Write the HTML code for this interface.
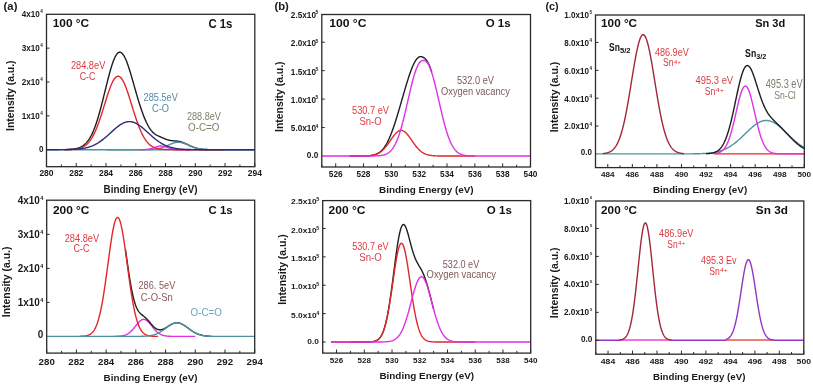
<!DOCTYPE html>
<html><head><meta charset="utf-8"><style>
html,body{margin:0;padding:0;background:#fff;}
svg{display:block;will-change:transform;}
text{font-family:"Liberation Sans",sans-serif;}
</style></head><body>
<svg width="813" height="385" viewBox="0 0 813 385">
<polyline fill="none" stroke="#4f93a2" stroke-width="1.4" stroke-linejoin="round" points="46.50,149.70 47.19,149.70 47.89,149.70 48.58,149.70 49.28,149.70 49.97,149.70 50.67,149.70 51.36,149.70 52.05,149.70 52.75,149.70 53.44,149.70 54.14,149.70 54.83,149.70 55.53,149.70 56.22,149.70 56.91,149.70 57.61,149.70 58.30,149.70 59.00,149.70 59.69,149.70 60.39,149.70 61.08,149.70 61.78,149.70 62.47,149.70 63.16,149.70 63.86,149.70 64.55,149.70 65.25,149.70 65.94,149.70 66.64,149.70 67.33,149.70 68.02,149.70 68.72,149.70 69.41,149.70 70.11,149.70 70.80,149.70 71.50,149.70 72.19,149.70 72.88,149.70 73.58,149.70 74.27,149.70 74.97,149.70 75.66,149.70 76.36,149.70 77.05,149.70 77.75,149.70 78.44,149.70 79.13,149.70 79.83,149.70 80.52,149.70 81.22,149.70 81.91,149.70 82.61,149.70 83.30,149.70 83.99,149.70 84.69,149.70 85.38,149.70 86.08,149.70 86.77,149.70 87.47,149.70 88.16,149.70 88.85,149.70 89.55,149.70 90.24,149.70 90.94,149.70 91.63,149.70 92.33,149.70 93.02,149.70 93.71,149.70 94.41,149.70 95.10,149.70 95.80,149.70 96.49,149.70 97.19,149.70 97.88,149.70 98.58,149.70 99.27,149.70 99.96,149.70 100.66,149.70 101.35,149.70 102.05,149.70 102.74,149.70 103.44,149.70 104.13,149.70 104.82,149.70 105.52,149.70 106.21,149.70 106.91,149.70 107.60,149.70 108.30,149.70 108.99,149.70 109.68,149.70 110.38,149.70 111.07,149.70 111.77,149.70 112.46,149.70 113.16,149.70 113.85,149.70 114.54,149.70 115.24,149.70 115.93,149.70 116.63,149.70 117.32,149.70 118.02,149.70 118.71,149.70 119.40,149.70 120.10,149.70 120.79,149.70 121.49,149.70 122.18,149.70 122.88,149.70 123.57,149.70 124.27,149.70 124.96,149.70 125.65,149.70 126.35,149.70 127.04,149.70 127.74,149.70 128.43,149.70 129.13,149.70 129.82,149.70 130.51,149.70 131.21,149.70 131.90,149.70 132.60,149.70 133.29,149.70 133.99,149.70 134.68,149.70 135.37,149.70 136.07,149.70 136.76,149.70 137.46,149.70 138.15,149.70 138.85,149.70 139.54,149.70 140.24,149.70 140.93,149.70 141.62,149.70 142.32,149.70 143.01,149.70 143.71,149.70 144.40,149.70 145.10,149.70 145.79,149.70 146.48,149.70 147.18,149.70 147.87,149.70 148.57,149.70 149.26,149.70 149.96,149.70 150.65,149.70 151.34,149.70 152.04,149.70 152.73,149.70 153.43,149.70 154.12,149.70 154.82,149.70 155.51,149.70 156.20,149.70 156.90,149.70 157.59,149.70 158.29,149.70 158.98,149.70 159.68,149.70 160.37,149.70 161.06,149.70 161.76,149.70 162.45,149.70 163.15,149.70 163.84,149.70 164.54,149.70 165.23,149.70 165.93,149.70 166.62,149.70 167.31,149.70 168.01,149.70 168.70,149.70 169.40,149.70 170.09,149.70 170.79,149.70 171.48,149.70 172.17,149.70 172.87,149.70 173.56,149.70 174.26,149.70 174.95,149.70 175.65,149.70 176.34,149.70 177.03,149.70 177.73,149.70 178.42,149.70 179.12,149.70 179.81,149.70 180.51,149.70 181.20,149.70 181.90,149.70 182.59,149.70 183.28,149.70 183.98,149.70 184.67,149.70 185.37,149.70 186.06,149.70 186.76,149.70 187.45,149.70 188.14,149.70 188.84,149.70 189.53,149.70 190.23,149.70 190.92,149.70 191.62,149.70 192.31,149.70 193.00,149.70 193.70,149.70 194.39,149.70 195.09,149.70 195.78,149.70 196.48,149.70 197.17,149.70 197.86,149.70 198.56,149.70 199.25,149.70 199.95,149.70 200.64,149.70 201.34,149.70 202.03,149.70 202.72,149.70 203.42,149.70 204.11,149.70 204.81,149.70 205.50,149.70 206.20,149.70 206.89,149.70 207.59,149.70 208.28,149.70 208.97,149.70 209.67,149.70 210.36,149.70 211.06,149.70 211.75,149.70 212.45,149.70 213.14,149.70 213.83,149.70 214.53,149.70 215.22,149.70 215.92,149.70 216.61,149.70 217.31,149.70 218.00,149.70 218.69,149.70 219.39,149.70 220.08,149.70 220.78,149.70 221.47,149.70 222.17,149.70 222.86,149.70 223.55,149.70 224.25,149.70 224.94,149.70 225.64,149.70 226.33,149.70 227.03,149.70 227.72,149.70 228.42,149.70 229.11,149.70 229.80,149.70 230.50,149.70 231.19,149.70 231.89,149.70 232.58,149.70 233.28,149.70 233.97,149.70 234.66,149.70 235.36,149.70 236.05,149.70 236.75,149.70 237.44,149.70 238.14,149.70 238.83,149.70 239.52,149.70 240.22,149.70 240.91,149.70 241.61,149.70 242.30,149.70 243.00,149.70 243.69,149.70 244.39,149.70 245.08,149.70 245.77,149.70 246.47,149.70 247.16,149.70 247.86,149.70 248.55,149.70 249.25,149.70 249.94,149.70 250.63,149.70 251.33,149.70 252.02,149.70 252.72,149.70 253.41,149.70 254.11,149.70 254.80,149.70"/>
<polyline fill="none" stroke="#1e1e1e" stroke-width="1.4" stroke-linejoin="round" points="64.35,149.60 64.84,149.59 65.33,149.58 65.81,149.57 66.30,149.55 66.78,149.54 67.27,149.52 67.76,149.50 68.24,149.48 68.73,149.45 69.21,149.42 69.70,149.39 70.19,149.36 70.67,149.32 71.16,149.28 71.64,149.24 72.13,149.19 72.62,149.14 73.10,149.08 73.59,149.01 74.07,148.94 74.56,148.86 75.05,148.78 75.53,148.69 76.02,148.59 76.51,148.47 76.99,148.35 77.48,148.22 77.96,148.08 78.45,147.92 78.94,147.76 79.42,147.57 79.91,147.37 80.39,147.16 80.88,146.93 81.37,146.68 81.85,146.41 82.34,146.12 82.82,145.80 83.31,145.47 83.80,145.11 84.28,144.72 84.77,144.31 85.25,143.86 85.74,143.39 86.23,142.88 86.71,142.35 87.20,141.77 87.68,141.17 88.17,140.52 88.66,139.84 89.14,139.11 89.63,138.35 90.11,137.54 90.60,136.69 91.09,135.79 91.57,134.85 92.06,133.86 92.54,132.83 93.03,131.74 93.52,130.61 94.00,129.43 94.49,128.20 94.97,126.92 95.46,125.59 95.95,124.21 96.43,122.78 96.92,121.30 97.40,119.78 97.89,118.20 98.38,116.59 98.86,114.93 99.35,113.23 99.83,111.48 100.32,109.70 100.81,107.89 101.29,106.04 101.78,104.16 102.26,102.26 102.75,100.33 103.24,98.39 103.72,96.42 104.21,94.45 104.70,92.47 105.18,90.48 105.67,88.49 106.15,86.52 106.64,84.55 107.13,82.59 107.61,80.66 108.10,78.75 108.58,76.87 109.07,75.03 109.56,73.23 110.04,71.47 110.53,69.77 111.01,68.12 111.50,66.53 111.99,65.00 112.47,63.54 112.96,62.16 113.44,60.85 113.93,59.62 114.42,58.48 114.90,57.43 115.39,56.46 115.87,55.59 116.36,54.82 116.85,54.14 117.33,53.57 117.82,53.09 118.30,52.72 118.79,52.45 119.28,52.29 119.76,52.22 120.25,52.26 120.73,52.41 121.22,52.65 121.71,52.99 122.19,53.43 122.68,53.97 123.16,54.60 123.65,55.31 124.14,56.12 124.62,57.01 125.11,57.99 125.59,59.03 126.08,60.16 126.57,61.35 127.05,62.61 127.54,63.93 128.02,65.30 128.51,66.73 129.00,68.21 129.48,69.73 129.97,71.29 130.45,72.88 130.94,74.51 131.43,76.16 131.91,77.83 132.40,79.52 132.88,81.22 133.37,82.93 133.86,84.65 134.34,86.37 134.83,88.08 135.32,89.80 135.80,91.50 136.29,93.19 136.77,94.87 137.26,96.53 137.75,98.17 138.23,99.79 138.72,101.39 139.20,102.96 139.69,104.50 140.18,106.02 140.66,107.50 141.15,108.95 141.63,110.37 142.12,111.75 142.61,113.10 143.09,114.41 143.58,115.68 144.06,116.92 144.55,118.12 145.04,119.28 145.52,120.39 146.01,121.47 146.49,122.51 146.98,123.51 147.47,124.46 147.95,125.37 148.44,126.24 148.92,127.07 149.41,127.86 149.90,128.60 150.38,129.30 150.87,129.96 151.35,130.58 151.84,131.16 152.33,131.70 152.81,132.21 153.30,132.67 153.78,133.11 154.27,133.51 154.76,133.88 155.24,134.22 155.73,134.54 156.21,134.83 156.70,135.11 157.19,135.37 157.67,135.61 158.16,135.85 158.64,136.07 159.13,136.29 159.62,136.51 160.10,136.72 160.59,136.93 161.07,137.14 161.56,137.35 162.05,137.56 162.53,137.77 163.02,137.98 163.51,138.19 163.99,138.40 164.48,138.61 164.96,138.81 165.45,139.01 165.94,139.20 166.42,139.39 166.91,139.56 167.39,139.73 167.88,139.88 168.37,140.02 168.85,140.15 169.34,140.27 169.82,140.38 170.31,140.47 170.80,140.55 171.28,140.62 171.77,140.68 172.25,140.73 172.74,140.78 173.23,140.82 173.71,140.85 174.20,140.88 174.68,140.91 175.17,140.95 175.66,140.98 176.14,141.02 176.63,141.07 177.11,141.12 177.60,141.18 178.09,141.25 178.57,141.33 179.06,141.42 179.54,141.52 180.03,141.63 180.52,141.75 181.00,141.89 181.49,142.03 181.97,142.19 182.46,142.36 182.95,142.54 183.43,142.73 183.92,142.92 184.40,143.13 184.89,143.34 185.38,143.56 185.86,143.78 186.35,144.00 186.83,144.23 187.32,144.47 187.81,144.70 188.29,144.93 188.78,145.16 189.26,145.39 189.75,145.62 190.24,145.84 190.72,146.06 191.21,146.28 191.70,146.49 192.18,146.69 192.67,146.89 193.15,147.08 193.64,147.26 194.13,147.43 194.61,147.60 195.10,147.76 195.58,147.91 196.07,148.06 196.56,148.19 197.04,148.32 197.53,148.44 198.01,148.55 198.50,148.65 198.99,148.75 199.47,148.84 199.96,148.92 200.44,149.00 200.93,149.07 201.42,149.13 201.90,149.19 202.39,149.25 202.87,149.30 203.36,149.34 203.85,149.38 204.33,149.42 204.82,149.45 205.30,149.48 205.79,149.51 206.28,149.53 206.76,149.55 207.25,149.57 207.73,149.59 208.22,149.60 208.71,149.61 209.19,149.63 209.68,149.64 210.16,149.65"/>
<polyline fill="none" stroke="#4f93a2" stroke-width="1.4" stroke-linejoin="round" points="106.01,149.70 106.51,149.70 107.01,149.70 107.50,149.70 108.00,149.70 108.49,149.70 108.99,149.70 109.49,149.70 109.98,149.70 110.48,149.70 110.97,149.70 111.47,149.70 111.97,149.70 112.46,149.70 112.96,149.70 113.45,149.70 113.95,149.70 114.45,149.70 114.94,149.70 115.44,149.70 115.93,149.70 116.43,149.70 116.93,149.70 117.42,149.70 117.92,149.70 118.41,149.70 118.91,149.70 119.40,149.70 119.90,149.70 120.40,149.70 120.89,149.70 121.39,149.70 121.88,149.70 122.38,149.70 122.88,149.70 123.37,149.70 123.87,149.70 124.36,149.70 124.86,149.70 125.36,149.70 125.85,149.70 126.35,149.70 126.84,149.70 127.34,149.70 127.84,149.70 128.33,149.70 128.83,149.70 129.32,149.70 129.82,149.70 130.32,149.70 130.81,149.70 131.31,149.70 131.80,149.70 132.30,149.70 132.80,149.70 133.29,149.70 133.79,149.70 134.28,149.70 134.78,149.70 135.28,149.70 135.77,149.70 136.27,149.70 136.76,149.70 137.26,149.70 137.76,149.70 138.25,149.70 138.75,149.70 139.24,149.70 139.74,149.69 140.24,149.69 140.73,149.69 141.23,149.69 141.72,149.69 142.22,149.69 142.71,149.68 143.21,149.68 143.71,149.68 144.20,149.67 144.70,149.67 145.19,149.67 145.69,149.66 146.19,149.65 146.68,149.64 147.18,149.63 147.67,149.62 148.17,149.61 148.67,149.60 149.16,149.58 149.66,149.57 150.15,149.55 150.65,149.52 151.15,149.50 151.64,149.47 152.14,149.44 152.63,149.40 153.13,149.36 153.63,149.32 154.12,149.27 154.62,149.22 155.11,149.16 155.61,149.10 156.11,149.03 156.60,148.96 157.10,148.88 157.59,148.79 158.09,148.69 158.59,148.59 159.08,148.48 159.58,148.36 160.07,148.24 160.57,148.10 161.06,147.96 161.56,147.81 162.06,147.66 162.55,147.49 163.05,147.32 163.54,147.14 164.04,146.95 164.54,146.76 165.03,146.56 165.53,146.35 166.02,146.14 166.52,145.93 167.02,145.71 167.51,145.49 168.01,145.27 168.50,145.05 169.00,144.83 169.50,144.61 169.99,144.39 170.49,144.18 170.98,143.98 171.48,143.78 171.98,143.58 172.47,143.40 172.97,143.23 173.46,143.06 173.96,142.91 174.46,142.78 174.95,142.66 175.45,142.55 175.94,142.46 176.44,142.38 176.94,142.32 177.43,142.28 177.93,142.26 178.42,142.25 178.92,142.27 179.42,142.30 179.91,142.34 180.41,142.41 180.90,142.49 181.40,142.59 181.90,142.70 182.39,142.83 182.89,142.97 183.38,143.13 183.88,143.29 184.37,143.47 184.87,143.66 185.37,143.86 185.86,144.06 186.36,144.27 186.85,144.48 187.35,144.70 187.85,144.92 188.34,145.14 188.84,145.36 189.33,145.58 189.83,145.80 190.33,146.02 190.82,146.23 191.32,146.44 191.81,146.64 192.31,146.84 192.81,147.03 193.30,147.21 193.80,147.39 194.29,147.56 194.79,147.72 195.29,147.87 195.78,148.02 196.28,148.16 196.77,148.29 197.27,148.41 197.77,148.52 198.26,148.63 198.76,148.73 199.25,148.82 199.75,148.91 200.25,148.99 200.74,149.06 201.24,149.13 201.73,149.19 202.23,149.24 202.72,149.29 203.22,149.34 203.72,149.38 204.21,149.42 204.71,149.45 205.20,149.48 205.70,149.51 206.20,149.53 206.69,149.55 207.19,149.57 207.68,149.59 208.18,149.60 208.68,149.62 209.17,149.63 209.67,149.64 210.16,149.65 210.66,149.65 211.16,149.66 211.65,149.67 212.15,149.67 212.64,149.68 213.14,149.68 213.64,149.68 214.13,149.69 214.63,149.69 215.12,149.69 215.62,149.69 216.12,149.69 216.61,149.69 217.11,149.70 217.60,149.70 218.10,149.70 218.60,149.70 219.09,149.70 219.59,149.70 220.08,149.70 220.58,149.70 221.08,149.70 221.57,149.70 222.07,149.70 222.56,149.70 223.06,149.70 223.55,149.70 224.05,149.70 224.55,149.70 225.04,149.70 225.54,149.70 226.03,149.70 226.53,149.70 227.03,149.70 227.52,149.70 228.02,149.70 228.51,149.70 229.01,149.70 229.51,149.70 230.00,149.70 230.50,149.70 230.99,149.70 231.49,149.70 231.99,149.70 232.48,149.70 232.98,149.70 233.47,149.70 233.97,149.70 234.47,149.70 234.96,149.70 235.46,149.70 235.95,149.70 236.45,149.70 236.95,149.70 237.44,149.70 237.94,149.70 238.43,149.70 238.93,149.70 239.43,149.70 239.92,149.70 240.42,149.70 240.91,149.70 241.41,149.70 241.91,149.70 242.40,149.70 242.90,149.70 243.39,149.70 243.89,149.70 244.39,149.70 244.88,149.70 245.38,149.70 245.87,149.70 246.37,149.70 246.86,149.70 247.36,149.70 247.86,149.70 248.35,149.70 248.85,149.70 249.34,149.70 249.84,149.70 250.34,149.70 250.83,149.70 251.33,149.70 251.82,149.70 252.32,149.70 252.82,149.70 253.31,149.70 253.81,149.70 254.30,149.70 254.80,149.70"/>
<polyline fill="none" stroke="#e030e6" stroke-width="1.4" stroke-linejoin="round" points="140.24,149.69 140.40,149.68 140.56,149.68 140.73,149.68 140.89,149.68 141.05,149.68 141.22,149.68 141.38,149.67 141.54,149.67 141.71,149.67 141.87,149.67 142.04,149.66 142.20,149.66 142.36,149.66 142.53,149.65 142.69,149.65 142.85,149.65 143.02,149.64 143.18,149.64 143.34,149.63 143.51,149.63 143.67,149.62 143.84,149.62 144.00,149.61 144.16,149.60 144.33,149.60 144.49,149.59 144.65,149.58 144.82,149.57 144.98,149.56 145.14,149.55 145.31,149.54 145.47,149.53 145.64,149.52 145.80,149.51 145.96,149.50 146.13,149.49 146.29,149.47 146.45,149.46 146.62,149.44 146.78,149.43 146.95,149.41 147.11,149.39 147.27,149.37 147.44,149.35 147.60,149.33 147.76,149.31 147.93,149.29 148.09,149.27 148.25,149.24 148.42,149.22 148.58,149.19 148.75,149.17 148.91,149.14 149.07,149.11 149.24,149.08 149.40,149.05 149.56,149.02 149.73,148.98 149.89,148.95 150.05,148.91 150.22,148.87 150.38,148.84 150.55,148.80 150.71,148.76 150.87,148.72 151.04,148.67 151.20,148.63 151.36,148.58 151.53,148.54 151.69,148.49 151.86,148.44 152.02,148.39 152.18,148.34 152.35,148.29 152.51,148.24 152.67,148.19 152.84,148.14 153.00,148.08 153.16,148.03 153.33,147.97 153.49,147.91 153.66,147.86 153.82,147.80 153.98,147.74 154.15,147.68 154.31,147.62 154.47,147.57 154.64,147.51 154.80,147.45 154.96,147.39 155.13,147.33 155.29,147.27 155.46,147.21 155.62,147.15 155.78,147.09 155.95,147.04 156.11,146.98 156.27,146.92 156.44,146.87 156.60,146.81 156.77,146.76 156.93,146.71 157.09,146.66 157.26,146.61 157.42,146.56 157.58,146.51 157.75,146.47 157.91,146.42 158.07,146.38 158.24,146.34 158.40,146.30 158.57,146.26 158.73,146.23 158.89,146.19 159.06,146.16 159.22,146.14 159.38,146.11 159.55,146.08 159.71,146.06 159.87,146.04 160.04,146.03 160.20,146.01 160.37,146.00 160.53,145.99 160.69,145.98 160.86,145.98 161.02,145.98 161.18,145.98 161.35,145.98 161.51,145.99 161.68,145.99 161.84,146.00 162.00,146.02 162.17,146.03 162.33,146.05 162.49,146.07 162.66,146.10 162.82,146.12 162.98,146.15 163.15,146.18 163.31,146.21 163.48,146.24 163.64,146.28 163.80,146.32 163.97,146.36 164.13,146.40 164.29,146.44 164.46,146.49 164.62,146.53 164.78,146.58 164.95,146.63 165.11,146.68 165.28,146.73 165.44,146.79 165.60,146.84 165.77,146.89 165.93,146.95 166.09,147.01 166.26,147.06 166.42,147.12 166.58,147.18 166.75,147.24 166.91,147.30 167.08,147.36 167.24,147.41 167.40,147.47 167.57,147.53 167.73,147.59 167.89,147.65 168.06,147.71 168.22,147.77 168.39,147.83 168.55,147.88 168.71,147.94 168.88,148.00 169.04,148.05 169.20,148.11 169.37,148.16 169.53,148.21 169.69,148.27 169.86,148.32 170.02,148.37 170.19,148.42 170.35,148.47 170.51,148.51 170.68,148.56 170.84,148.60 171.00,148.65 171.17,148.69 171.33,148.73 171.49,148.78 171.66,148.82 171.82,148.85 171.99,148.89 172.15,148.93 172.31,148.96 172.48,149.00 172.64,149.03 172.80,149.06 172.97,149.09 173.13,149.12 173.30,149.15 173.46,149.18 173.62,149.21 173.79,149.23 173.95,149.26 174.11,149.28 174.28,149.30 174.44,149.32 174.60,149.34 174.77,149.36 174.93,149.38 175.10,149.40 175.26,149.42 175.42,149.43 175.59,149.45 175.75,149.46 175.91,149.48 176.08,149.49 176.24,149.50 176.40,149.52 176.57,149.53 176.73,149.54 176.90,149.55 177.06,149.56 177.22,149.57 177.39,149.58 177.55,149.59 177.71,149.59 177.88,149.60 178.04,149.61 178.21,149.61 178.37,149.62 178.53,149.63 178.70,149.63 178.86,149.64 179.02,149.64 179.19,149.64 179.35,149.65 179.51,149.65 179.68,149.66 179.84,149.66 180.01,149.66 180.17,149.67 180.33,149.67 180.50,149.67 180.66,149.67 180.82,149.67 180.99,149.68 181.15,149.68 181.31,149.68 181.48,149.68 181.64,149.68 181.81,149.68 181.97,149.69 182.13,149.69 182.30,149.69 182.46,149.69 182.62,149.69 182.79,149.69 182.95,149.69 183.12,149.69 183.28,149.69 183.44,149.69 183.61,149.69 183.77,149.69 183.93,149.70 184.10,149.70 184.26,149.70 184.42,149.70 184.59,149.70 184.75,149.70 184.92,149.70 185.08,149.70 185.24,149.70 185.41,149.70 185.57,149.70 185.73,149.70 185.90,149.70 186.06,149.70 186.22,149.70 186.39,149.70 186.55,149.70 186.72,149.70 186.88,149.70 187.04,149.70 187.21,149.70 187.37,149.70 187.53,149.70 187.70,149.70 187.86,149.70 188.02,149.70 188.19,149.70 188.35,149.70 188.52,149.70 188.68,149.70 188.84,149.70 189.01,149.70 189.17,149.70 189.33,149.70"/>
<polyline fill="none" stroke="#e4262c" stroke-width="1.4" stroke-linejoin="round" points="64.35,149.67 64.89,149.66 65.43,149.65 65.96,149.65 66.50,149.64 67.03,149.63 67.57,149.62 68.10,149.61 68.64,149.59 69.17,149.58 69.71,149.56 70.25,149.54 70.78,149.51 71.32,149.48 71.85,149.45 72.39,149.42 72.92,149.38 73.46,149.34 74.00,149.29 74.53,149.23 75.07,149.17 75.60,149.10 76.14,149.03 76.67,148.94 77.21,148.85 77.74,148.74 78.28,148.62 78.82,148.50 79.35,148.35 79.89,148.20 80.42,148.03 80.96,147.84 81.49,147.63 82.03,147.40 82.57,147.16 83.10,146.89 83.64,146.59 84.17,146.27 84.71,145.93 85.24,145.56 85.78,145.15 86.32,144.71 86.85,144.25 87.39,143.74 87.92,143.20 88.46,142.62 88.99,142.00 89.53,141.34 90.06,140.64 90.60,139.89 91.14,139.09 91.67,138.25 92.21,137.37 92.74,136.43 93.28,135.45 93.81,134.41 94.35,133.33 94.89,132.19 95.42,131.01 95.96,129.77 96.49,128.49 97.03,127.15 97.56,125.77 98.10,124.35 98.63,122.88 99.17,121.37 99.71,119.82 100.24,118.24 100.78,116.62 101.31,114.97 101.85,113.29 102.38,111.59 102.92,109.88 103.46,108.15 103.99,106.41 104.53,104.66 105.06,102.92 105.60,101.19 106.13,99.47 106.67,97.76 107.20,96.08 107.74,94.43 108.28,92.82 108.81,91.25 109.35,89.73 109.88,88.27 110.42,86.86 110.95,85.52 111.49,84.25 112.03,83.06 112.56,81.95 113.10,80.93 113.63,80.00 114.17,79.16 114.70,78.43 115.24,77.80 115.77,77.27 116.31,76.85 116.85,76.54 117.38,76.34 117.92,76.25 118.45,76.27 118.99,76.41 119.52,76.66 120.06,77.02 120.60,77.49 121.13,78.06 121.67,78.74 122.20,79.52 122.74,80.40 123.27,81.37 123.81,82.43 124.34,83.58 124.88,84.81 125.42,86.11 125.95,87.48 126.49,88.91 127.02,90.40 127.56,91.94 128.09,93.53 128.63,95.16 129.17,96.83 129.70,98.52 130.24,100.23 130.77,101.96 131.31,103.70 131.84,105.44 132.38,107.18 132.91,108.92 133.45,110.64 133.99,112.35 134.52,114.04 135.06,115.70 135.59,117.34 136.13,118.95 136.66,120.52 137.20,122.05 137.74,123.54 138.27,124.99 138.81,126.39 139.34,127.75 139.88,129.06 140.41,130.33 140.95,131.54 141.48,132.70 142.02,133.81 142.56,134.88 143.09,135.89 143.63,136.85 144.16,137.77 144.70,138.63 145.23,139.45 145.77,140.23 146.31,140.95 146.84,141.64 147.38,142.28 147.91,142.88 148.45,143.44 148.98,143.97 149.52,144.46 150.05,144.91 150.59,145.33 151.13,145.72 151.66,146.09 152.20,146.42 152.73,146.73 153.27,147.01 153.80,147.27 154.34,147.51 154.88,147.72 155.41,147.92 155.95,148.10 156.48,148.27 157.02,148.42 157.55,148.55 158.09,148.68 158.62,148.79 159.16,148.89 159.70,148.98 160.23,149.06 160.77,149.13 161.30,149.20 161.84,149.26 162.37,149.31 162.91,149.36 163.45,149.40 163.98,149.44 164.52,149.47 165.05,149.50 165.59,149.52 166.12,149.55 166.66,149.57 167.19,149.58 167.73,149.60 168.27,149.61 168.80,149.62 169.34,149.63 169.87,149.64 170.41,149.65 170.94,149.66 171.48,149.66 172.02,149.67 172.55,149.67 173.09,149.68 173.62,149.68 174.16,149.68 174.69,149.69 175.23,149.69 175.77,149.69 176.30,149.69 176.84,149.69 177.37,149.69 177.91,149.69 178.44,149.70 178.98,149.70 179.51,149.70 180.05,149.70 180.59,149.70 181.12,149.70 181.66,149.70 182.19,149.70 182.73,149.70 183.26,149.70 183.80,149.70 184.34,149.70 184.87,149.70 185.41,149.70 185.94,149.70 186.48,149.70 187.01,149.70 187.55,149.70 188.08,149.70 188.62,149.70 189.16,149.70 189.69,149.70 190.23,149.70 190.76,149.70 191.30,149.70 191.83,149.70 192.37,149.70 192.91,149.70 193.44,149.70 193.98,149.70 194.51,149.70 195.05,149.70 195.58,149.70 196.12,149.70 196.65,149.70 197.19,149.70 197.73,149.70 198.26,149.70 198.80,149.70 199.33,149.70 199.87,149.70 200.40,149.70 200.94,149.70 201.48,149.70 202.01,149.70 202.55,149.70 203.08,149.70 203.62,149.70 204.15,149.70 204.69,149.70 205.22,149.70 205.76,149.70 206.30,149.70 206.83,149.70 207.37,149.70 207.90,149.70 208.44,149.70 208.97,149.70 209.51,149.70 210.05,149.70 210.58,149.70 211.12,149.70 211.65,149.70 212.19,149.70 212.72,149.70 213.26,149.70 213.79,149.70 214.33,149.70 214.87,149.70 215.40,149.70 215.94,149.70 216.47,149.70 217.01,149.70 217.54,149.70 218.08,149.70 218.62,149.70 219.15,149.70 219.69,149.70 220.22,149.70 220.76,149.70 221.29,149.70 221.83,149.70 222.36,149.70 222.90,149.70 223.44,149.70 223.97,149.70 224.51,149.70 225.04,149.70"/>
<polyline fill="none" stroke="#2b2c7e" stroke-width="1.4" stroke-linejoin="round" points="46.50,149.70 47.19,149.70 47.89,149.70 48.58,149.70 49.28,149.70 49.97,149.70 50.67,149.70 51.36,149.70 52.05,149.70 52.75,149.69 53.44,149.69 54.14,149.69 54.83,149.69 55.53,149.69 56.22,149.69 56.91,149.69 57.61,149.68 58.30,149.68 59.00,149.68 59.69,149.67 60.39,149.67 61.08,149.67 61.78,149.66 62.47,149.66 63.16,149.65 63.86,149.64 64.55,149.64 65.25,149.63 65.94,149.62 66.64,149.61 67.33,149.59 68.02,149.58 68.72,149.56 69.41,149.54 70.11,149.52 70.80,149.50 71.50,149.48 72.19,149.45 72.88,149.42 73.58,149.39 74.27,149.35 74.97,149.31 75.66,149.27 76.36,149.22 77.05,149.16 77.75,149.10 78.44,149.04 79.13,148.97 79.83,148.89 80.52,148.81 81.22,148.72 81.91,148.62 82.61,148.51 83.30,148.39 83.99,148.27 84.69,148.13 85.38,147.99 86.08,147.83 86.77,147.66 87.47,147.48 88.16,147.29 88.85,147.08 89.55,146.86 90.24,146.63 90.94,146.38 91.63,146.12 92.33,145.84 93.02,145.54 93.71,145.23 94.41,144.90 95.10,144.56 95.80,144.19 96.49,143.81 97.19,143.42 97.88,143.00 98.58,142.57 99.27,142.12 99.96,141.65 100.66,141.17 101.35,140.67 102.05,140.15 102.74,139.62 103.44,139.08 104.13,138.52 104.82,137.94 105.52,137.36 106.21,136.76 106.91,136.16 107.60,135.54 108.30,134.92 108.99,134.29 109.68,133.66 110.38,133.02 111.07,132.39 111.77,131.75 112.46,131.12 113.16,130.49 113.85,129.87 114.54,129.25 115.24,128.65 115.93,128.06 116.63,127.48 117.32,126.93 118.02,126.38 118.71,125.86 119.40,125.36 120.10,124.89 120.79,124.44 121.49,124.02 122.18,123.63 122.88,123.27 123.57,122.94 124.27,122.64 124.96,122.38 125.65,122.16 126.35,121.97 127.04,121.82 127.74,121.71 128.43,121.64 129.13,121.61 129.82,121.61 130.51,121.66 131.21,121.74 131.90,121.86 132.60,122.02 133.29,122.22 133.99,122.46 134.68,122.73 135.37,123.03 136.07,123.37 136.76,123.74 137.46,124.14 138.15,124.57 138.85,125.02 139.54,125.50 140.24,126.01 140.93,126.54 141.62,127.08 142.32,127.65 143.01,128.23 143.71,128.82 144.40,129.43 145.10,130.05 145.79,130.67 146.48,131.30 147.18,131.93 147.87,132.57 148.57,133.20 149.26,133.84 149.96,134.47 150.65,135.10 151.34,135.72 152.04,136.33 152.73,136.93 153.43,137.53 154.12,138.11 154.82,138.68 155.51,139.23 156.20,139.78 156.90,140.30 157.59,140.81 158.29,141.31 158.98,141.79 159.68,142.25 160.37,142.69 161.06,143.12 161.76,143.53 162.45,143.92 163.15,144.30 163.84,144.66 164.54,145.00 165.23,145.32 165.93,145.63 166.62,145.92 167.31,146.19 168.01,146.45 168.70,146.70 169.40,146.93 170.09,147.14 170.79,147.34 171.48,147.53 172.17,147.71 172.87,147.88 173.56,148.03 174.26,148.17 174.95,148.31 175.65,148.43 176.34,148.54 177.03,148.65 177.73,148.74 178.42,148.83 179.12,148.91 179.81,148.99 180.51,149.06 181.20,149.12 181.90,149.18 182.59,149.23 183.28,149.28 183.98,149.32 184.67,149.36 185.37,149.40 186.06,149.43 186.76,149.46 187.45,149.49 188.14,149.51 188.84,149.53 189.53,149.55 190.23,149.57 190.92,149.58 191.62,149.60 192.31,149.61 193.00,149.62 193.70,149.63 194.39,149.64 195.09,149.65 195.78,149.65 196.48,149.66 197.17,149.66 197.86,149.67 198.56,149.67 199.25,149.68 199.95,149.68 200.64,149.68 201.34,149.68 202.03,149.69 202.72,149.69 203.42,149.69 204.11,149.69 204.81,149.69 205.50,149.69 206.20,149.69 206.89,149.70 207.59,149.70 208.28,149.70 208.97,149.70 209.67,149.70 210.36,149.70 211.06,149.70 211.75,149.70 212.45,149.70 213.14,149.70 213.83,149.70 214.53,149.70 215.22,149.70 215.92,149.70 216.61,149.70 217.31,149.70 218.00,149.70 218.69,149.70 219.39,149.70 220.08,149.70 220.78,149.70 221.47,149.70 222.17,149.70 222.86,149.70 223.55,149.70 224.25,149.70 224.94,149.70 225.64,149.70 226.33,149.70 227.03,149.70 227.72,149.70 228.42,149.70 229.11,149.70 229.80,149.70 230.50,149.70 231.19,149.70 231.89,149.70 232.58,149.70 233.28,149.70 233.97,149.70 234.66,149.70 235.36,149.70 236.05,149.70 236.75,149.70 237.44,149.70 238.14,149.70 238.83,149.70 239.52,149.70 240.22,149.70 240.91,149.70 241.61,149.70 242.30,149.70 243.00,149.70 243.69,149.70 244.39,149.70 245.08,149.70 245.77,149.70 246.47,149.70 247.16,149.70 247.86,149.70 248.55,149.70 249.25,149.70 249.94,149.70 250.63,149.70 251.33,149.70 252.02,149.70 252.72,149.70 253.41,149.70 254.11,149.70 254.80,149.70"/>
<line x1="46.50" y1="166.70" x2="46.50" y2="163.10" stroke="#2a2a2a" stroke-width="1"/>
<line x1="76.26" y1="166.70" x2="76.26" y2="163.10" stroke="#2a2a2a" stroke-width="1"/>
<line x1="106.01" y1="166.70" x2="106.01" y2="163.10" stroke="#2a2a2a" stroke-width="1"/>
<line x1="135.77" y1="166.70" x2="135.77" y2="163.10" stroke="#2a2a2a" stroke-width="1"/>
<line x1="165.53" y1="166.70" x2="165.53" y2="163.10" stroke="#2a2a2a" stroke-width="1"/>
<line x1="195.29" y1="166.70" x2="195.29" y2="163.10" stroke="#2a2a2a" stroke-width="1"/>
<line x1="225.04" y1="166.70" x2="225.04" y2="163.10" stroke="#2a2a2a" stroke-width="1"/>
<line x1="254.80" y1="166.70" x2="254.80" y2="163.10" stroke="#2a2a2a" stroke-width="1"/>
<line x1="61.38" y1="166.70" x2="61.38" y2="164.50" stroke="#2a2a2a" stroke-width="1"/>
<line x1="91.14" y1="166.70" x2="91.14" y2="164.50" stroke="#2a2a2a" stroke-width="1"/>
<line x1="120.89" y1="166.70" x2="120.89" y2="164.50" stroke="#2a2a2a" stroke-width="1"/>
<line x1="150.65" y1="166.70" x2="150.65" y2="164.50" stroke="#2a2a2a" stroke-width="1"/>
<line x1="180.41" y1="166.70" x2="180.41" y2="164.50" stroke="#2a2a2a" stroke-width="1"/>
<line x1="210.16" y1="166.70" x2="210.16" y2="164.50" stroke="#2a2a2a" stroke-width="1"/>
<line x1="239.92" y1="166.70" x2="239.92" y2="164.50" stroke="#2a2a2a" stroke-width="1"/>
<rect x="46.50" y="14.30" width="208.30" height="152.40" fill="none" stroke="#2a2a2a" stroke-width="1.3"/>
<line x1="46.50" y1="115.85" x2="49.50" y2="115.85" stroke="#2a2a2a" stroke-width="1"/>
<line x1="46.50" y1="82.00" x2="49.50" y2="82.00" stroke="#2a2a2a" stroke-width="1"/>
<line x1="46.50" y1="48.15" x2="49.50" y2="48.15" stroke="#2a2a2a" stroke-width="1"/>
<polyline fill="none" stroke="#e030e6" stroke-width="1.4" stroke-linejoin="round" points="113.56,336.38 113.83,336.38 114.10,336.38 114.37,336.37 114.65,336.37 114.92,336.37 115.19,336.36 115.46,336.36 115.74,336.35 116.01,336.35 116.28,336.34 116.55,336.33 116.83,336.32 117.10,336.32 117.37,336.31 117.64,336.30 117.92,336.28 118.19,336.27 118.46,336.26 118.73,336.24 119.00,336.22 119.28,336.21 119.55,336.19 119.82,336.16 120.09,336.14 120.37,336.11 120.64,336.08 120.91,336.05 121.18,336.02 121.46,335.98 121.73,335.94 122.00,335.90 122.27,335.86 122.55,335.81 122.82,335.75 123.09,335.70 123.36,335.64 123.64,335.57 123.91,335.50 124.18,335.42 124.45,335.34 124.72,335.26 125.00,335.17 125.27,335.07 125.54,334.97 125.81,334.86 126.09,334.74 126.36,334.62 126.63,334.49 126.90,334.35 127.18,334.21 127.45,334.06 127.72,333.90 127.99,333.73 128.27,333.56 128.54,333.37 128.81,333.18 129.08,332.98 129.36,332.77 129.63,332.56 129.90,332.33 130.17,332.10 130.44,331.85 130.72,331.60 130.99,331.35 131.26,331.08 131.53,330.81 131.81,330.52 132.08,330.23 132.35,329.94 132.62,329.64 132.90,329.33 133.17,329.01 133.44,328.69 133.71,328.36 133.99,328.03 134.26,327.70 134.53,327.36 134.80,327.02 135.08,326.68 135.35,326.34 135.62,326.00 135.89,325.65 136.16,325.31 136.44,324.97 136.71,324.63 136.98,324.30 137.25,323.97 137.53,323.64 137.80,323.32 138.07,323.01 138.34,322.71 138.62,322.41 138.89,322.12 139.16,321.85 139.43,321.58 139.71,321.33 139.98,321.09 140.25,320.86 140.52,320.65 140.80,320.45 141.07,320.27 141.34,320.10 141.61,319.95 141.88,319.82 142.16,319.71 142.43,319.61 142.70,319.53 142.97,319.47 143.25,319.43 143.52,319.40 143.79,319.40 144.06,319.42 144.34,319.45 144.61,319.50 144.88,319.57 145.15,319.66 145.43,319.77 145.70,319.89 145.97,320.03 146.24,320.19 146.52,320.37 146.79,320.56 147.06,320.76 147.33,320.98 147.60,321.22 147.88,321.47 148.15,321.73 148.42,322.00 148.69,322.28 148.97,322.57 149.24,322.87 149.51,323.18 149.78,323.49 150.06,323.82 150.33,324.15 150.60,324.48 150.87,324.81 151.15,325.15 151.42,325.50 151.69,325.84 151.96,326.18 152.24,326.53 152.51,326.87 152.78,327.21 153.05,327.55 153.32,327.88 153.60,328.22 153.87,328.54 154.14,328.87 154.41,329.18 154.69,329.50 154.96,329.80 155.23,330.10 155.50,330.39 155.78,330.68 156.05,330.96 156.32,331.23 156.59,331.49 156.87,331.74 157.14,331.99 157.41,332.22 157.68,332.45 157.96,332.67 158.23,332.89 158.50,333.09 158.77,333.29 159.04,333.47 159.32,333.65 159.59,333.82 159.86,333.99 160.13,334.14 160.41,334.29 160.68,334.43 160.95,334.56 161.22,334.69 161.50,334.81 161.77,334.92 162.04,335.02 162.31,335.12 162.59,335.22 162.86,335.31 163.13,335.39 163.40,335.47 163.68,335.54 163.95,335.61 164.22,335.67 164.49,335.73 164.76,335.78 165.04,335.83 165.31,335.88 165.58,335.93 165.85,335.97 166.13,336.00 166.40,336.04 166.67,336.07 166.94,336.10 167.22,336.13 167.49,336.15 167.76,336.18 168.03,336.20 168.31,336.22 168.58,336.23 168.85,336.25 169.12,336.26 169.40,336.28 169.67,336.29 169.94,336.30 170.21,336.31 170.48,336.32 170.76,336.33 171.03,336.34 171.30,336.34 171.57,336.35 171.85,336.35 172.12,336.36 172.39,336.36 172.66,336.37 172.94,336.37 173.21,336.37 173.48,336.38 173.75,336.38 174.03,336.38 174.30,336.38 174.57,336.39 174.84,336.39 175.12,336.39 175.39,336.39 175.66,336.39 175.93,336.39 176.20,336.39 176.48,336.39 176.75,336.40 177.02,336.40 177.29,336.40 177.57,336.40 177.84,336.40 178.11,336.40 178.38,336.40 178.66,336.40 178.93,336.40 179.20,336.40 179.47,336.40 179.75,336.40 180.02,336.40 180.29,336.40 180.56,336.40 180.84,336.40 181.11,336.40 181.38,336.40 181.65,336.40 181.92,336.40 182.20,336.40 182.47,336.40 182.74,336.40 183.01,336.40 183.29,336.40 183.56,336.40 183.83,336.40 184.10,336.40 184.38,336.40 184.65,336.40 184.92,336.40 185.19,336.40 185.47,336.40 185.74,336.40 186.01,336.40 186.28,336.40 186.56,336.40 186.83,336.40 187.10,336.40 187.37,336.40 187.64,336.40 187.92,336.40 188.19,336.40 188.46,336.40 188.73,336.40 189.01,336.40 189.28,336.40 189.55,336.40 189.82,336.40 190.10,336.40 190.37,336.40 190.64,336.40 190.91,336.40 191.19,336.40 191.46,336.40 191.73,336.40 192.00,336.40 192.28,336.40 192.55,336.40 192.82,336.40 193.09,336.40 193.36,336.40 193.64,336.40 193.91,336.40 194.18,336.40 194.45,336.40 194.73,336.40 195.00,336.40 195.27,336.40"/>
<polyline fill="none" stroke="#1e1e1e" stroke-width="1.4" stroke-linejoin="round" points="125.44,249.66 125.73,251.60 126.01,253.54 126.29,255.50 126.57,257.46 126.85,259.43 127.14,261.39 127.42,263.34 127.70,265.28 127.98,267.21 128.27,269.12 128.55,271.01 128.83,272.87 129.11,274.71 129.39,276.52 129.68,278.29 129.96,280.03 130.24,281.73 130.52,283.39 130.81,285.01 131.09,286.59 131.37,288.11 131.65,289.60 131.94,291.03 132.22,292.42 132.50,293.76 132.78,295.05 133.06,296.28 133.35,297.47 133.63,298.61 133.91,299.70 134.19,300.73 134.48,301.72 134.76,302.66 135.04,303.55 135.32,304.40 135.61,305.20 135.89,305.96 136.17,306.67 136.45,307.34 136.73,307.97 137.02,308.57 137.30,309.13 137.58,309.65 137.86,310.14 138.15,310.60 138.43,311.03 138.71,311.44 138.99,311.82 139.27,312.17 139.56,312.51 139.84,312.83 140.12,313.13 140.40,313.41 140.69,313.68 140.97,313.94 141.25,314.19 141.53,314.44 141.82,314.67 142.10,314.90 142.38,315.13 142.66,315.36 142.94,315.58 143.23,315.80 143.51,316.03 143.79,316.26 144.07,316.49 144.36,316.73 144.64,316.97 144.92,317.21 145.20,317.46 145.49,317.72 145.77,317.98 146.05,318.25 146.33,318.53 146.61,318.81 146.90,319.10 147.18,319.40 147.46,319.70 147.74,320.01 148.03,320.32 148.31,320.64 148.59,320.96 148.87,321.28 149.15,321.61 149.44,321.94 149.72,322.27 150.00,322.61 150.28,322.94 150.57,323.27 150.85,323.60 151.13,323.93 151.41,324.26 151.70,324.58 151.98,324.90 152.26,325.21 152.54,325.52 152.82,325.82 153.11,326.11 153.39,326.40 153.67,326.67 153.95,326.94 154.24,327.20 154.52,327.45 154.80,327.68 155.08,327.91 155.37,328.12 155.65,328.32 155.93,328.51 156.21,328.69 156.49,328.86 156.78,329.01 157.06,329.15 157.34,329.27 157.62,329.38 157.91,329.48 158.19,329.57 158.47,329.64 158.75,329.70 159.03,329.75 159.32,329.78 159.60,329.80 159.88,329.81 160.16,329.81 160.45,329.79 160.73,329.76 161.01,329.72 161.29,329.68 161.58,329.62 161.86,329.55 162.14,329.47 162.42,329.38 162.70,329.28 162.99,329.17 163.27,329.06 163.55,328.94 163.83,328.81 164.12,328.67 164.40,328.53 164.68,328.38 164.96,328.23 165.25,328.07 165.53,327.91 165.81,327.74 166.09,327.57 166.37,327.40 166.66,327.23 166.94,327.05 167.22,326.87 167.50,326.69 167.79,326.51 168.07,326.33 168.35,326.15 168.63,325.98 168.91,325.80 169.20,325.62 169.48,325.45 169.76,325.28 170.04,325.11 170.33,324.95 170.61,324.79 170.89,324.63 171.17,324.48 171.46,324.33 171.74,324.19 172.02,324.05 172.30,323.92 172.58,323.79 172.87,323.67 173.15,323.56 173.43,323.46 173.71,323.36 174.00,323.27 174.28,323.18 174.56,323.11 174.84,323.04 175.13,322.98 175.41,322.93 175.69,322.89 175.97,322.85 176.25,322.82 176.54,322.81 176.82,322.80 177.10,322.80 177.38,322.80 177.67,322.82 177.95,322.85 178.23,322.88 178.51,322.92 178.79,322.97 179.08,323.03 179.36,323.10 179.64,323.18 179.92,323.26 180.21,323.35 180.49,323.45 180.77,323.56 181.05,323.67 181.34,323.79 181.62,323.92 181.90,324.05 182.18,324.20 182.46,324.34 182.75,324.50 183.03,324.65 183.31,324.82 183.59,324.99 183.88,325.16 184.16,325.34 184.44,325.52 184.72,325.71 185.01,325.90 185.29,326.09 185.57,326.28 185.85,326.48 186.13,326.68 186.42,326.89 186.70,327.09 186.98,327.30 187.26,327.50 187.55,327.71 187.83,327.92 188.11,328.13 188.39,328.34 188.67,328.55 188.96,328.76 189.24,328.96 189.52,329.17 189.80,329.37 190.09,329.58 190.37,329.78 190.65,329.98 190.93,330.18 191.22,330.37 191.50,330.57 191.78,330.76 192.06,330.95 192.34,331.13 192.63,331.31 192.91,331.49 193.19,331.67 193.47,331.84 193.76,332.01 194.04,332.18 194.32,332.34 194.60,332.50 194.89,332.65 195.17,332.80 195.45,332.95 195.73,333.09 196.01,333.23 196.30,333.37 196.58,333.50 196.86,333.62 197.14,333.75 197.43,333.87 197.71,333.98 197.99,334.09 198.27,334.20 198.55,334.31 198.84,334.41 199.12,334.50 199.40,334.60 199.68,334.69 199.97,334.77 200.25,334.86 200.53,334.94 200.81,335.01 201.10,335.09 201.38,335.16 201.66,335.23 201.94,335.29 202.22,335.35 202.51,335.41 202.79,335.47 203.07,335.52 203.35,335.57 203.64,335.62 203.92,335.67 204.20,335.71 204.48,335.75 204.77,335.79 205.05,335.83 205.33,335.86 205.61,335.90 205.89,335.93 206.18,335.96 206.46,335.99 206.74,336.01 207.02,336.04 207.31,336.06 207.59,336.09 207.87,336.11 208.15,336.13 208.43,336.15 208.72,336.16 209.00,336.18 209.28,336.20 209.56,336.21 209.85,336.22 210.13,336.24"/>
<polyline fill="none" stroke="#e4262c" stroke-width="1.4" stroke-linejoin="round" points="79.39,336.35 79.65,336.35 79.91,336.34 80.17,336.33 80.44,336.33 80.70,336.32 80.96,336.31 81.22,336.30 81.49,336.29 81.75,336.28 82.01,336.26 82.27,336.25 82.54,336.23 82.80,336.22 83.06,336.20 83.32,336.18 83.59,336.16 83.85,336.13 84.11,336.11 84.37,336.08 84.64,336.05 84.90,336.01 85.16,335.97 85.42,335.93 85.69,335.89 85.95,335.84 86.21,335.79 86.47,335.73 86.74,335.67 87.00,335.61 87.26,335.54 87.52,335.46 87.78,335.38 88.05,335.29 88.31,335.19 88.57,335.09 88.83,334.98 89.10,334.86 89.36,334.73 89.62,334.59 89.88,334.45 90.15,334.29 90.41,334.12 90.67,333.94 90.93,333.75 91.20,333.54 91.46,333.32 91.72,333.09 91.98,332.84 92.25,332.58 92.51,332.29 92.77,332.00 93.03,331.68 93.30,331.34 93.56,330.99 93.82,330.61 94.08,330.21 94.35,329.79 94.61,329.35 94.87,328.88 95.13,328.39 95.40,327.87 95.66,327.32 95.92,326.75 96.18,326.15 96.45,325.52 96.71,324.85 96.97,324.16 97.23,323.43 97.50,322.68 97.76,321.88 98.02,321.06 98.28,320.20 98.55,319.30 98.81,318.36 99.07,317.39 99.33,316.39 99.60,315.34 99.86,314.25 100.12,313.13 100.38,311.97 100.65,310.77 100.91,309.53 101.17,308.25 101.43,306.93 101.70,305.57 101.96,304.18 102.22,302.74 102.48,301.27 102.75,299.76 103.01,298.21 103.27,296.63 103.53,295.01 103.80,293.36 104.06,291.67 104.32,289.96 104.58,288.21 104.85,286.44 105.11,284.63 105.37,282.81 105.63,280.95 105.90,279.08 106.16,277.19 106.42,275.28 106.68,273.35 106.95,271.42 107.21,269.47 107.47,267.51 107.73,265.56 108.00,263.59 108.26,261.63 108.52,259.68 108.78,257.73 109.05,255.79 109.31,253.86 109.57,251.95 109.83,250.06 110.10,248.19 110.36,246.35 110.62,244.54 110.88,242.76 111.15,241.01 111.41,239.31 111.67,237.65 111.93,236.03 112.20,234.47 112.46,232.95 112.72,231.49 112.98,230.09 113.25,228.75 113.51,227.47 113.77,226.26 114.03,225.12 114.30,224.04 114.56,223.05 114.82,222.12 115.08,221.28 115.34,220.51 115.61,219.83 115.87,219.23 116.13,218.71 116.39,218.28 116.66,217.93 116.92,217.67 117.18,217.50 117.44,217.41 117.71,217.41 117.97,217.50 118.23,217.68 118.49,217.95 118.76,218.30 119.02,218.74 119.28,219.26 119.54,219.87 119.81,220.55 120.07,221.32 120.33,222.17 120.59,223.10 120.86,224.10 121.12,225.18 121.38,226.33 121.64,227.54 121.91,228.82 122.17,230.17 122.43,231.57 122.69,233.04 122.96,234.55 123.22,236.12 123.48,237.74 123.74,239.41 124.01,241.11 124.27,242.86 124.53,244.64 124.79,246.45 125.06,248.30 125.32,250.17 125.58,252.06 125.84,253.97 126.11,255.90 126.37,257.84 126.63,259.79 126.89,261.74 127.16,263.70 127.42,265.67 127.68,267.63 127.94,269.58 128.21,271.53 128.47,273.46 128.73,275.39 128.99,277.30 129.26,279.19 129.52,281.06 129.78,282.91 130.04,284.74 130.31,286.54 130.57,288.31 130.83,290.06 131.09,291.77 131.36,293.45 131.62,295.10 131.88,296.72 132.14,298.30 132.41,299.84 132.67,301.35 132.93,302.82 133.19,304.26 133.46,305.65 133.72,307.01 133.98,308.32 134.24,309.60 134.51,310.84 134.77,312.04 135.03,313.20 135.29,314.32 135.56,315.40 135.82,316.44 136.08,317.45 136.34,318.42 136.61,319.35 136.87,320.25 137.13,321.11 137.39,321.93 137.66,322.72 137.92,323.48 138.18,324.20 138.44,324.89 138.71,325.55 138.97,326.18 139.23,326.78 139.49,327.36 139.76,327.90 140.02,328.42 140.28,328.91 140.54,329.38 140.81,329.82 141.07,330.24 141.33,330.63 141.59,331.01 141.86,331.36 142.12,331.70 142.38,332.01 142.64,332.31 142.90,332.59 143.17,332.85 143.43,333.10 143.69,333.33 143.95,333.55 144.22,333.76 144.48,333.95 144.74,334.13 145.00,334.30 145.27,334.45 145.53,334.60 145.79,334.74 146.05,334.86 146.32,334.98 146.58,335.09 146.84,335.20 147.10,335.29 147.37,335.38 147.63,335.46 147.89,335.54 148.15,335.61 148.42,335.68 148.68,335.74 148.94,335.79 149.20,335.84 149.47,335.89 149.73,335.94 149.99,335.98 150.25,336.01 150.52,336.05 150.78,336.08 151.04,336.11 151.30,336.13 151.57,336.16 151.83,336.18 152.09,336.20 152.35,336.22 152.62,336.24 152.88,336.25 153.14,336.27 153.40,336.28 153.67,336.29 153.93,336.30 154.19,336.31 154.45,336.32 154.72,336.33 154.98,336.33 155.24,336.34 155.50,336.35 155.77,336.35 156.03,336.36 156.29,336.36 156.55,336.37 156.82,336.37 157.08,336.37 157.34,336.38 157.60,336.38 157.87,336.38 158.13,336.38"/>
<polyline fill="none" stroke="#4f93a2" stroke-width="1.4" stroke-linejoin="round" points="46.70,336.40 47.39,336.40 48.09,336.40 48.78,336.40 49.47,336.40 50.17,336.40 50.86,336.40 51.55,336.40 52.25,336.40 52.94,336.40 53.63,336.40 54.33,336.40 55.02,336.40 55.71,336.40 56.41,336.40 57.10,336.40 57.79,336.40 58.49,336.40 59.18,336.40 59.87,336.40 60.57,336.40 61.26,336.40 61.95,336.40 62.65,336.40 63.34,336.40 64.03,336.40 64.73,336.40 65.42,336.40 66.11,336.40 66.81,336.40 67.50,336.40 68.19,336.40 68.89,336.40 69.58,336.40 70.27,336.40 70.97,336.40 71.66,336.40 72.35,336.40 73.05,336.40 73.74,336.40 74.43,336.40 75.13,336.40 75.82,336.40 76.51,336.40 77.21,336.40 77.90,336.40 78.59,336.40 79.29,336.40 79.98,336.40 80.67,336.40 81.37,336.40 82.06,336.40 82.75,336.40 83.45,336.40 84.14,336.40 84.83,336.40 85.53,336.40 86.22,336.40 86.91,336.40 87.61,336.40 88.30,336.40 88.99,336.40 89.69,336.40 90.38,336.40 91.07,336.40 91.77,336.40 92.46,336.40 93.15,336.40 93.85,336.40 94.54,336.40 95.23,336.40 95.93,336.40 96.62,336.40 97.31,336.40 98.01,336.40 98.70,336.40 99.39,336.40 100.09,336.40 100.78,336.40 101.47,336.40 102.17,336.40 102.86,336.40 103.55,336.40 104.25,336.40 104.94,336.40 105.63,336.40 106.33,336.40 107.02,336.40 107.71,336.40 108.41,336.40 109.10,336.40 109.79,336.40 110.49,336.40 111.18,336.40 111.87,336.40 112.57,336.40 113.26,336.40 113.95,336.40 114.65,336.40 115.34,336.40 116.03,336.40 116.73,336.40 117.42,336.40 118.11,336.40 118.81,336.40 119.50,336.40 120.19,336.40 120.89,336.40 121.58,336.40 122.27,336.40 122.97,336.40 123.66,336.40 124.35,336.40 125.05,336.40 125.74,336.40 126.43,336.40 127.13,336.40 127.82,336.40 128.51,336.40 129.21,336.40 129.90,336.40 130.59,336.40 131.29,336.40 131.98,336.40 132.67,336.40 133.37,336.39 134.06,336.39 134.75,336.39 135.45,336.39 136.14,336.38 136.83,336.38 137.53,336.37 138.22,336.37 138.91,336.36 139.61,336.35 140.30,336.34 140.99,336.33 141.69,336.31 142.38,336.29 143.07,336.27 143.77,336.24 144.46,336.21 145.15,336.17 145.85,336.13 146.54,336.08 147.23,336.02 147.93,335.95 148.62,335.87 149.31,335.78 150.01,335.68 150.70,335.56 151.39,335.43 152.09,335.28 152.78,335.12 153.47,334.94 154.17,334.73 154.86,334.51 155.55,334.27 156.25,334.00 156.94,333.71 157.63,333.40 158.33,333.06 159.02,332.70 159.71,332.32 160.41,331.91 161.10,331.48 161.79,331.04 162.49,330.57 163.18,330.10 163.87,329.60 164.57,329.10 165.26,328.59 165.95,328.08 166.65,327.57 167.34,327.06 168.03,326.56 168.73,326.07 169.42,325.61 170.11,325.16 170.81,324.74 171.50,324.36 172.19,324.01 172.89,323.69 173.58,323.42 174.27,323.20 174.97,323.02 175.66,322.90 176.35,322.82 177.05,322.80 177.74,322.83 178.43,322.91 179.13,323.05 179.82,323.23 180.51,323.46 181.21,323.74 181.90,324.05 182.59,324.41 183.29,324.80 183.98,325.22 184.67,325.67 185.37,326.14 186.06,326.63 186.75,327.13 187.45,327.64 188.14,328.15 188.83,328.66 189.53,329.17 190.22,329.67 190.91,330.16 191.61,330.64 192.30,331.10 192.99,331.55 193.69,331.97 194.38,332.37 195.07,332.75 195.77,333.11 196.46,333.44 197.15,333.75 197.85,334.04 198.54,334.30 199.23,334.54 199.93,334.76 200.62,334.96 201.31,335.14 202.01,335.30 202.70,335.45 203.39,335.58 204.09,335.69 204.78,335.79 205.47,335.88 206.17,335.96 206.86,336.03 207.55,336.08 208.25,336.13 208.94,336.18 209.63,336.21 210.33,336.24 211.02,336.27 211.71,336.29 212.41,336.31 213.10,336.33 213.79,336.34 214.49,336.35 215.18,336.36 215.87,336.37 216.57,336.38 217.26,336.38 217.95,336.38 218.65,336.39 219.34,336.39 220.03,336.39 220.73,336.39 221.42,336.40 222.11,336.40 222.81,336.40 223.50,336.40 224.19,336.40 224.89,336.40 225.58,336.40 226.27,336.40 226.97,336.40 227.66,336.40 228.35,336.40 229.05,336.40 229.74,336.40 230.43,336.40 231.13,336.40 231.82,336.40 232.51,336.40 233.21,336.40 233.90,336.40 234.59,336.40 235.29,336.40 235.98,336.40 236.67,336.40 237.37,336.40 238.06,336.40 238.75,336.40 239.45,336.40 240.14,336.40 240.83,336.40 241.53,336.40 242.22,336.40 242.91,336.40 243.61,336.40 244.30,336.40 244.99,336.40 245.69,336.40 246.38,336.40 247.07,336.40 247.77,336.40 248.46,336.40 249.15,336.40 249.85,336.40 250.54,336.40 251.23,336.40 251.93,336.40 252.62,336.40 253.31,336.40 254.01,336.40 254.70,336.40"/>
<line x1="46.70" y1="353.10" x2="46.70" y2="349.50" stroke="#2a2a2a" stroke-width="1"/>
<line x1="76.41" y1="353.10" x2="76.41" y2="349.50" stroke="#2a2a2a" stroke-width="1"/>
<line x1="106.13" y1="353.10" x2="106.13" y2="349.50" stroke="#2a2a2a" stroke-width="1"/>
<line x1="135.84" y1="353.10" x2="135.84" y2="349.50" stroke="#2a2a2a" stroke-width="1"/>
<line x1="165.56" y1="353.10" x2="165.56" y2="349.50" stroke="#2a2a2a" stroke-width="1"/>
<line x1="195.27" y1="353.10" x2="195.27" y2="349.50" stroke="#2a2a2a" stroke-width="1"/>
<line x1="224.99" y1="353.10" x2="224.99" y2="349.50" stroke="#2a2a2a" stroke-width="1"/>
<line x1="254.70" y1="353.10" x2="254.70" y2="349.50" stroke="#2a2a2a" stroke-width="1"/>
<line x1="61.56" y1="353.10" x2="61.56" y2="350.90" stroke="#2a2a2a" stroke-width="1"/>
<line x1="91.27" y1="353.10" x2="91.27" y2="350.90" stroke="#2a2a2a" stroke-width="1"/>
<line x1="120.99" y1="353.10" x2="120.99" y2="350.90" stroke="#2a2a2a" stroke-width="1"/>
<line x1="150.70" y1="353.10" x2="150.70" y2="350.90" stroke="#2a2a2a" stroke-width="1"/>
<line x1="180.41" y1="353.10" x2="180.41" y2="350.90" stroke="#2a2a2a" stroke-width="1"/>
<line x1="210.13" y1="353.10" x2="210.13" y2="350.90" stroke="#2a2a2a" stroke-width="1"/>
<line x1="239.84" y1="353.10" x2="239.84" y2="350.90" stroke="#2a2a2a" stroke-width="1"/>
<rect x="46.70" y="200.20" width="208.00" height="152.90" fill="none" stroke="#2a2a2a" stroke-width="1.3"/>
<line x1="46.70" y1="302.40" x2="49.70" y2="302.40" stroke="#2a2a2a" stroke-width="1"/>
<line x1="46.70" y1="268.40" x2="49.70" y2="268.40" stroke="#2a2a2a" stroke-width="1"/>
<line x1="46.70" y1="234.40" x2="49.70" y2="234.40" stroke="#2a2a2a" stroke-width="1"/>
<polyline fill="none" stroke="#1e1e1e" stroke-width="1.4" stroke-linejoin="round" points="349.63,156.00 349.90,156.00 350.17,156.00 350.45,156.00 350.72,156.00 350.99,156.00 351.27,156.00 351.54,156.00 351.82,156.00 352.09,156.00 352.36,156.00 352.64,156.00 352.91,156.00 353.18,156.00 353.46,156.00 353.73,156.00 354.00,156.00 354.28,156.00 354.55,156.00 354.83,156.00 355.10,156.00 355.37,156.00 355.65,156.00 355.92,156.00 356.19,156.00 356.47,156.00 356.74,156.00 357.01,155.99 357.29,155.99 357.56,155.99 357.84,155.99 358.11,155.99 358.38,155.99 358.66,155.99 358.93,155.99 359.20,155.99 359.48,155.99 359.75,155.98 360.02,155.98 360.30,155.98 360.57,155.98 360.85,155.98 361.12,155.98 361.39,155.97 361.67,155.97 361.94,155.97 362.21,155.96 362.49,155.96 362.76,155.96 363.03,155.95 363.31,155.95 363.58,155.94 363.86,155.94 364.13,155.93 364.40,155.93 364.68,155.92 364.95,155.91 365.22,155.90 365.50,155.90 365.77,155.89 366.04,155.88 366.32,155.87 366.59,155.85 366.87,155.84 367.14,155.83 367.41,155.81 367.69,155.80 367.96,155.78 368.23,155.76 368.51,155.74 368.78,155.72 369.05,155.70 369.33,155.67 369.60,155.65 369.88,155.62 370.15,155.59 370.42,155.56 370.70,155.53 370.97,155.49 371.24,155.45 371.52,155.41 371.79,155.37 372.06,155.32 372.34,155.27 372.61,155.22 372.89,155.16 373.16,155.10 373.43,155.04 373.71,154.98 373.98,154.91 374.25,154.83 374.53,154.75 374.80,154.67 375.07,154.58 375.35,154.49 375.62,154.39 375.90,154.29 376.17,154.18 376.44,154.06 376.72,153.94 376.99,153.82 377.26,153.68 377.54,153.54 377.81,153.40 378.08,153.24 378.36,153.08 378.63,152.91 378.90,152.74 379.18,152.55 379.45,152.36 379.73,152.16 380.00,151.95 380.27,151.73 380.55,151.50 380.82,151.26 381.09,151.02 381.37,150.76 381.64,150.49 381.91,150.21 382.19,149.93 382.46,149.63 382.74,149.32 383.01,149.00 383.28,148.66 383.56,148.32 383.83,147.96 384.10,147.60 384.38,147.22 384.65,146.82 384.92,146.42 385.20,146.00 385.47,145.57 385.75,145.13 386.02,144.68 386.29,144.21 386.57,143.73 386.84,143.24 387.11,142.73 387.39,142.22 387.66,141.68 387.93,141.14 388.21,140.58 388.48,140.01 388.76,139.43 389.03,138.83 389.30,138.22 389.58,137.60 389.85,136.97 390.12,136.32 390.40,135.66 390.67,134.99 390.94,134.31 391.22,133.62 391.49,132.91 391.77,132.19 392.04,131.46 392.31,130.72 392.59,129.97 392.86,129.21 393.13,128.44 393.41,127.65 393.68,126.86 393.95,126.06 394.23,125.25 394.50,124.42 394.78,123.59 395.05,122.76 395.32,121.91 395.60,121.05 395.87,120.19 396.14,119.32 396.42,118.45 396.69,117.56 396.96,116.67 397.24,115.77 397.51,114.87 397.79,113.96 398.06,113.05 398.33,112.13 398.61,111.21 398.88,110.28 399.15,109.35 399.43,108.42 399.70,107.48 399.97,106.54 400.25,105.60 400.52,104.65 400.80,103.71 401.07,102.76 401.34,101.81 401.62,100.86 401.89,99.91 402.16,98.96 402.44,98.00 402.71,97.05 402.98,96.10 403.26,95.16 403.53,94.21 403.81,93.26 404.08,92.32 404.35,91.38 404.63,90.44 404.90,89.51 405.17,88.58 405.45,87.66 405.72,86.74 405.99,85.82 406.27,84.91 406.54,84.01 406.82,83.11 407.09,82.22 407.36,81.34 407.64,80.46 407.91,79.60 408.18,78.74 408.46,77.89 408.73,77.05 409.00,76.22 409.28,75.40 409.55,74.59 409.83,73.80 410.10,73.01 410.37,72.24 410.65,71.48 410.92,70.74 411.19,70.01 411.47,69.29 411.74,68.59 412.01,67.91 412.29,67.24 412.56,66.59 412.83,65.95 413.11,65.33 413.38,64.73 413.66,64.15 413.93,63.59 414.20,63.05 414.48,62.53 414.75,62.02 415.02,61.54 415.30,61.08 415.57,60.64 415.84,60.22 416.12,59.83 416.39,59.45 416.67,59.10 416.94,58.77 417.21,58.47 417.49,58.19 417.76,57.93 418.03,57.69 418.31,57.48 418.58,57.29 418.85,57.12 419.13,56.98 419.40,56.86 419.68,56.76 419.95,56.68 420.22,56.63 420.50,56.60 420.77,56.59 421.04,56.61 421.32,56.64 421.59,56.69 421.86,56.76 422.14,56.86 422.41,56.96 422.69,57.09 422.96,57.23 423.23,57.38 423.51,57.53 423.78,57.70 424.05,57.87 424.33,58.06 424.60,58.27 424.87,58.50 425.15,58.75 425.42,59.01 425.70,59.30 425.97,59.61 426.24,59.95 426.52,60.31 426.79,60.70 427.06,61.11 427.34,61.54 427.61,62.00 427.88,62.49 428.16,63.01 428.43,63.55 428.71,64.12 428.98,64.72 429.25,65.34 429.53,65.99 429.80,66.67 430.07,67.37 430.35,68.10 430.62,68.86 430.89,69.64 431.17,70.45 431.44,71.28 431.72,72.14"/>
<polyline fill="none" stroke="#e4262c" stroke-width="1.4" stroke-linejoin="round" points="349.63,156.00 350.04,156.00 350.46,156.00 350.88,156.00 351.30,156.00 351.71,156.00 352.13,156.00 352.55,156.00 352.97,156.00 353.38,156.00 353.80,156.00 354.22,156.00 354.64,156.00 355.05,156.00 355.47,156.00 355.89,156.00 356.31,156.00 356.72,156.00 357.14,155.99 357.56,155.99 357.97,155.99 358.39,155.99 358.81,155.99 359.23,155.99 359.64,155.99 360.06,155.98 360.48,155.98 360.90,155.98 361.31,155.97 361.73,155.97 362.15,155.97 362.57,155.96 362.98,155.95 363.40,155.95 363.82,155.94 364.24,155.93 364.65,155.92 365.07,155.91 365.49,155.90 365.91,155.88 366.32,155.87 366.74,155.85 367.16,155.83 367.57,155.81 367.99,155.78 368.41,155.76 368.83,155.73 369.24,155.69 369.66,155.66 370.08,155.61 370.50,155.57 370.91,155.52 371.33,155.46 371.75,155.40 372.17,155.33 372.58,155.26 373.00,155.18 373.42,155.09 373.84,155.00 374.25,154.89 374.67,154.78 375.09,154.66 375.51,154.53 375.92,154.38 376.34,154.23 376.76,154.06 377.18,153.89 377.59,153.70 378.01,153.49 378.43,153.28 378.84,153.04 379.26,152.80 379.68,152.53 380.10,152.26 380.51,151.96 380.93,151.65 381.35,151.32 381.77,150.98 382.18,150.62 382.60,150.24 383.02,149.84 383.44,149.43 383.85,149.00 384.27,148.55 384.69,148.09 385.11,147.61 385.52,147.11 385.94,146.60 386.36,146.07 386.78,145.53 387.19,144.98 387.61,144.42 388.03,143.85 388.44,143.26 388.86,142.67 389.28,142.08 389.70,141.48 390.11,140.87 390.53,140.27 390.95,139.66 391.37,139.06 391.78,138.46 392.20,137.87 392.62,137.29 393.04,136.72 393.45,136.16 393.87,135.62 394.29,135.09 394.71,134.58 395.12,134.09 395.54,133.63 395.96,133.19 396.38,132.77 396.79,132.39 397.21,132.03 397.63,131.71 398.05,131.42 398.46,131.16 398.88,130.94 399.30,130.76 399.71,130.61 400.13,130.50 400.55,130.43 400.97,130.40 401.38,130.40 401.80,130.45 402.22,130.53 402.64,130.65 403.05,130.81 403.47,131.01 403.89,131.24 404.31,131.51 404.72,131.81 405.14,132.15 405.56,132.51 405.98,132.91 406.39,133.33 406.81,133.78 407.23,134.25 407.65,134.75 408.06,135.26 408.48,135.80 408.90,136.35 409.31,136.91 409.73,137.48 410.15,138.07 410.57,138.66 410.98,139.26 411.40,139.87 411.82,140.47 412.24,141.07 412.65,141.68 413.07,142.28 413.49,142.87 413.91,143.46 414.32,144.04 414.74,144.61 415.16,145.17 415.58,145.72 415.99,146.25 416.41,146.77 416.83,147.28 417.25,147.77 417.66,148.24 418.08,148.70 418.50,149.14 418.92,149.57 419.33,149.98 419.75,150.37 420.17,150.74 420.58,151.10 421.00,151.44 421.42,151.76 421.84,152.06 422.25,152.35 422.67,152.62 423.09,152.88 423.51,153.12 423.92,153.35 424.34,153.56 424.76,153.76 425.18,153.95 425.59,154.12 426.01,154.28 426.43,154.43 426.85,154.57 427.26,154.70 427.68,154.82 428.10,154.93 428.52,155.03 428.93,155.12 429.35,155.21 429.77,155.29 430.18,155.36 430.60,155.42 431.02,155.48 431.44,155.53 431.85,155.58 432.27,155.63 432.69,155.67 433.11,155.70 433.52,155.74 433.94,155.77 434.36,155.79 434.78,155.82 435.19,155.84 435.61,155.86 436.03,155.87 436.45,155.89 436.86,155.90 437.28,155.91 437.70,155.93 438.12,155.93 438.53,155.94 438.95,155.95 439.37,155.96 439.79,155.96 440.20,155.97 440.62,155.97 441.04,155.98 441.45,155.98 441.87,155.98 442.29,155.98 442.71,155.99 443.12,155.99 443.54,155.99 443.96,155.99 444.38,155.99 444.79,155.99 445.21,155.99 445.63,156.00 446.05,156.00 446.46,156.00 446.88,156.00 447.30,156.00 447.72,156.00 448.13,156.00 448.55,156.00 448.97,156.00 449.39,156.00 449.80,156.00 450.22,156.00 450.64,156.00 451.05,156.00 451.47,156.00 451.89,156.00 452.31,156.00 452.72,156.00 453.14,156.00 453.56,156.00 453.98,156.00 454.39,156.00 454.81,156.00 455.23,156.00 455.65,156.00 456.06,156.00 456.48,156.00 456.90,156.00 457.32,156.00 457.73,156.00 458.15,156.00 458.57,156.00 458.99,156.00 459.40,156.00 459.82,156.00 460.24,156.00 460.66,156.00 461.07,156.00 461.49,156.00 461.91,156.00 462.32,156.00 462.74,156.00 463.16,156.00 463.58,156.00 463.99,156.00 464.41,156.00 464.83,156.00 465.25,156.00 465.66,156.00 466.08,156.00 466.50,156.00 466.92,156.00 467.33,156.00 467.75,156.00 468.17,156.00 468.59,156.00 469.00,156.00 469.42,156.00 469.84,156.00 470.26,156.00 470.67,156.00 471.09,156.00 471.51,156.00 471.92,156.00 472.34,156.00 472.76,156.00 473.18,156.00 473.59,156.00 474.01,156.00 474.43,156.00 474.85,156.00"/>
<polyline fill="none" stroke="#e030e6" stroke-width="1.4" stroke-linejoin="round" points="321.80,156.00 322.50,156.00 323.19,156.00 323.89,156.00 324.58,156.00 325.28,156.00 325.97,156.00 326.67,156.00 327.37,156.00 328.06,156.00 328.76,156.00 329.45,156.00 330.15,156.00 330.84,156.00 331.54,156.00 332.24,156.00 332.93,156.00 333.63,156.00 334.32,156.00 335.02,156.00 335.71,156.00 336.41,156.00 337.10,156.00 337.80,156.00 338.50,156.00 339.19,156.00 339.89,156.00 340.58,156.00 341.28,156.00 341.97,156.00 342.67,156.00 343.37,156.00 344.06,156.00 344.76,156.00 345.45,156.00 346.15,156.00 346.84,156.00 347.54,156.00 348.24,156.00 348.93,156.00 349.63,156.00 350.32,156.00 351.02,156.00 351.71,156.00 352.41,156.00 353.11,156.00 353.80,156.00 354.50,156.00 355.19,156.00 355.89,156.00 356.58,156.00 357.28,156.00 357.97,156.00 358.67,156.00 359.37,156.00 360.06,156.00 360.76,156.00 361.45,156.00 362.15,156.00 362.84,156.00 363.54,156.00 364.24,156.00 364.93,156.00 365.63,156.00 366.32,156.00 367.02,156.00 367.71,155.99 368.41,155.99 369.11,155.99 369.80,155.99 370.50,155.98 371.19,155.98 371.89,155.97 372.58,155.96 373.28,155.96 373.98,155.94 374.67,155.93 375.37,155.91 376.06,155.89 376.76,155.86 377.45,155.82 378.15,155.78 378.84,155.73 379.54,155.67 380.24,155.60 380.93,155.51 381.63,155.41 382.32,155.29 383.02,155.14 383.71,154.97 384.41,154.77 385.11,154.54 385.80,154.27 386.50,153.96 387.19,153.60 387.89,153.19 388.58,152.73 389.28,152.20 389.98,151.60 390.67,150.93 391.37,150.17 392.06,149.33 392.76,148.39 393.45,147.36 394.15,146.22 394.85,144.97 395.54,143.60 396.24,142.12 396.93,140.51 397.63,138.78 398.32,136.92 399.02,134.94 399.71,132.82 400.41,130.59 401.11,128.23 401.80,125.76 402.50,123.19 403.19,120.50 403.89,117.73 404.58,114.88 405.28,111.95 405.98,108.98 406.67,105.95 407.37,102.91 408.06,99.85 408.76,96.80 409.45,93.78 410.15,90.80 410.85,87.88 411.54,85.03 412.24,82.29 412.93,79.65 413.63,77.14 414.32,74.78 415.02,72.57 415.72,70.52 416.41,68.66 417.11,66.98 417.80,65.49 418.50,64.20 419.19,63.10 419.89,62.20 420.58,61.50 421.28,60.98 421.98,60.64 422.67,60.46 423.37,60.41 424.06,60.46 424.76,60.64 425.45,60.98 426.15,61.50 426.85,62.20 427.54,63.10 428.24,64.20 428.93,65.49 429.63,66.98 430.32,68.66 431.02,70.52 431.72,72.57 432.41,74.78 433.11,77.14 433.80,79.65 434.50,82.29 435.19,85.03 435.89,87.88 436.59,90.80 437.28,93.78 437.98,96.80 438.67,99.85 439.37,102.91 440.06,105.95 440.76,108.98 441.45,111.95 442.15,114.88 442.85,117.73 443.54,120.50 444.24,123.19 444.93,125.76 445.63,128.23 446.32,130.59 447.02,132.82 447.72,134.94 448.41,136.92 449.11,138.78 449.80,140.51 450.50,142.12 451.19,143.60 451.89,144.97 452.59,146.22 453.28,147.36 453.98,148.39 454.67,149.33 455.37,150.17 456.06,150.93 456.76,151.60 457.46,152.20 458.15,152.73 458.85,153.19 459.54,153.60 460.24,153.96 460.93,154.27 461.63,154.54 462.32,154.77 463.02,154.97 463.72,155.14 464.41,155.29 465.11,155.41 465.80,155.51 466.50,155.60 467.19,155.67 467.89,155.73 468.59,155.78 469.28,155.82 469.98,155.86 470.67,155.89 471.37,155.91 472.06,155.93 472.76,155.94 473.46,155.96 474.15,155.96 474.85,155.97 475.54,155.98 476.24,155.98 476.93,155.99 477.63,155.99 478.33,155.99 479.02,155.99 479.72,156.00 480.41,156.00 481.11,156.00 481.80,156.00 482.50,156.00 483.19,156.00 483.89,156.00 484.59,156.00 485.28,156.00 485.98,156.00 486.67,156.00 487.37,156.00 488.06,156.00 488.76,156.00 489.46,156.00 490.15,156.00 490.85,156.00 491.54,156.00 492.24,156.00 492.93,156.00 493.63,156.00 494.33,156.00 495.02,156.00 495.72,156.00 496.41,156.00 497.11,156.00 497.80,156.00 498.50,156.00 499.19,156.00 499.89,156.00 500.59,156.00 501.28,156.00 501.98,156.00 502.67,156.00 503.37,156.00 504.06,156.00 504.76,156.00 505.46,156.00 506.15,156.00 506.85,156.00 507.54,156.00 508.24,156.00 508.93,156.00 509.63,156.00 510.33,156.00 511.02,156.00 511.72,156.00 512.41,156.00 513.11,156.00 513.80,156.00 514.50,156.00 515.20,156.00 515.89,156.00 516.59,156.00 517.28,156.00 517.98,156.00 518.67,156.00 519.37,156.00 520.07,156.00 520.76,156.00 521.46,156.00 522.15,156.00 522.85,156.00 523.54,156.00 524.24,156.00 524.93,156.00 525.63,156.00 526.33,156.00 527.02,156.00 527.72,156.00 528.41,156.00 529.11,156.00 529.80,156.00 530.50,156.00"/>
<line x1="335.71" y1="167.00" x2="335.71" y2="163.40" stroke="#2a2a2a" stroke-width="1"/>
<line x1="363.54" y1="167.00" x2="363.54" y2="163.40" stroke="#2a2a2a" stroke-width="1"/>
<line x1="391.37" y1="167.00" x2="391.37" y2="163.40" stroke="#2a2a2a" stroke-width="1"/>
<line x1="419.19" y1="167.00" x2="419.19" y2="163.40" stroke="#2a2a2a" stroke-width="1"/>
<line x1="447.02" y1="167.00" x2="447.02" y2="163.40" stroke="#2a2a2a" stroke-width="1"/>
<line x1="474.85" y1="167.00" x2="474.85" y2="163.40" stroke="#2a2a2a" stroke-width="1"/>
<line x1="502.67" y1="167.00" x2="502.67" y2="163.40" stroke="#2a2a2a" stroke-width="1"/>
<line x1="530.50" y1="167.00" x2="530.50" y2="163.40" stroke="#2a2a2a" stroke-width="1"/>
<line x1="321.80" y1="167.00" x2="321.80" y2="164.80" stroke="#2a2a2a" stroke-width="1"/>
<line x1="349.63" y1="167.00" x2="349.63" y2="164.80" stroke="#2a2a2a" stroke-width="1"/>
<line x1="377.45" y1="167.00" x2="377.45" y2="164.80" stroke="#2a2a2a" stroke-width="1"/>
<line x1="405.28" y1="167.00" x2="405.28" y2="164.80" stroke="#2a2a2a" stroke-width="1"/>
<line x1="433.11" y1="167.00" x2="433.11" y2="164.80" stroke="#2a2a2a" stroke-width="1"/>
<line x1="460.93" y1="167.00" x2="460.93" y2="164.80" stroke="#2a2a2a" stroke-width="1"/>
<line x1="488.76" y1="167.00" x2="488.76" y2="164.80" stroke="#2a2a2a" stroke-width="1"/>
<line x1="516.59" y1="167.00" x2="516.59" y2="164.80" stroke="#2a2a2a" stroke-width="1"/>
<rect x="321.80" y="14.50" width="208.70" height="152.50" fill="none" stroke="#2a2a2a" stroke-width="1.3"/>
<line x1="321.80" y1="127.55" x2="324.80" y2="127.55" stroke="#2a2a2a" stroke-width="1"/>
<line x1="321.80" y1="99.10" x2="324.80" y2="99.10" stroke="#2a2a2a" stroke-width="1"/>
<line x1="321.80" y1="70.65" x2="324.80" y2="70.65" stroke="#2a2a2a" stroke-width="1"/>
<line x1="321.80" y1="42.20" x2="324.80" y2="42.20" stroke="#2a2a2a" stroke-width="1"/>
<polyline fill="none" stroke="#1e1e1e" stroke-width="1.4" stroke-linejoin="round" points="350.43,342.00 350.71,342.00 350.99,342.00 351.27,342.00 351.54,342.00 351.82,342.00 352.10,342.00 352.37,342.00 352.65,342.00 352.93,342.00 353.21,342.00 353.48,342.00 353.76,342.00 354.04,342.00 354.32,342.00 354.59,342.00 354.87,342.00 355.15,342.00 355.43,342.00 355.70,342.00 355.98,342.00 356.26,342.00 356.53,342.00 356.81,342.00 357.09,342.00 357.37,342.00 357.64,342.00 357.92,342.00 358.20,342.00 358.48,342.00 358.75,342.00 359.03,342.00 359.31,342.00 359.59,342.00 359.86,342.00 360.14,342.00 360.42,342.00 360.69,342.00 360.97,342.00 361.25,342.00 361.53,342.00 361.80,342.00 362.08,342.00 362.36,342.00 362.64,342.00 362.91,342.00 363.19,342.00 363.47,341.99 363.75,341.99 364.02,341.99 364.30,341.99 364.58,341.99 364.85,341.99 365.13,341.99 365.41,341.98 365.69,341.98 365.96,341.98 366.24,341.98 366.52,341.97 366.80,341.97 367.07,341.97 367.35,341.96 367.63,341.96 367.91,341.95 368.18,341.94 368.46,341.94 368.74,341.93 369.01,341.92 369.29,341.91 369.57,341.90 369.85,341.89 370.12,341.87 370.40,341.86 370.68,341.84 370.96,341.82 371.23,341.80 371.51,341.77 371.79,341.74 372.07,341.71 372.34,341.68 372.62,341.64 372.90,341.60 373.17,341.56 373.45,341.51 373.73,341.46 374.01,341.40 374.28,341.33 374.56,341.26 374.84,341.18 375.12,341.09 375.39,341.00 375.67,340.90 375.95,340.79 376.23,340.67 376.50,340.53 376.78,340.39 377.06,340.24 377.33,340.07 377.61,339.88 377.89,339.69 378.17,339.47 378.44,339.25 378.72,339.00 379.00,338.73 379.28,338.45 379.55,338.14 379.83,337.81 380.11,337.46 380.39,337.08 380.66,336.67 380.94,336.24 381.22,335.79 381.49,335.30 381.77,334.78 382.05,334.22 382.33,333.64 382.60,333.02 382.88,332.36 383.16,331.67 383.44,330.93 383.71,330.16 383.99,329.35 384.27,328.49 384.55,327.59 384.82,326.65 385.10,325.66 385.38,324.62 385.65,323.54 385.93,322.41 386.21,321.23 386.49,320.01 386.76,318.73 387.04,317.41 387.32,316.03 387.60,314.61 387.87,313.13 388.15,311.61 388.43,310.04 388.71,308.42 388.98,306.76 389.26,305.05 389.54,303.29 389.81,301.49 390.09,299.65 390.37,297.77 390.65,295.85 390.92,293.90 391.20,291.91 391.48,289.89 391.76,287.84 392.03,285.76 392.31,283.67 392.59,281.55 392.87,279.41 393.14,277.27 393.42,275.11 393.70,272.95 393.97,270.79 394.25,268.63 394.53,266.47 394.81,264.33 395.08,262.20 395.36,260.09 395.64,258.01 395.92,255.95 396.19,253.93 396.47,251.94 396.75,250.00 397.03,248.10 397.30,246.25 397.58,244.45 397.86,242.71 398.13,241.03 398.41,239.42 398.69,237.88 398.97,236.41 399.24,235.02 399.52,233.70 399.80,232.47 400.08,231.32 400.35,230.25 400.63,229.27 400.91,228.38 401.19,227.59 401.46,226.88 401.74,226.27 402.02,225.74 402.29,225.31 402.57,224.98 402.85,224.73 403.13,224.57 403.40,224.51 403.68,224.53 403.96,224.63 404.24,224.82 404.51,225.09 404.79,225.43 405.07,225.85 405.35,226.34 405.62,226.90 405.90,227.53 406.18,228.21 406.45,228.94 406.73,229.73 407.01,230.57 407.29,231.45 407.56,232.36 407.84,233.31 408.12,234.30 408.40,235.30 408.67,236.33 408.95,237.37 409.23,238.42 409.51,239.49 409.78,240.55 410.06,241.62 410.34,242.69 410.61,243.74 410.89,244.79 411.17,245.83 411.45,246.85 411.72,247.85 412.00,248.83 412.28,249.80 412.56,250.73 412.83,251.65 413.11,252.54 413.39,253.40 413.67,254.23 413.94,255.03 414.22,255.81 414.50,256.56 414.77,257.28 415.05,257.98 415.33,258.65 415.61,259.29 415.88,259.91 416.16,260.51 416.44,261.08 416.72,261.64 416.99,262.18 417.27,262.70 417.55,263.21 417.83,263.70 418.10,264.19 418.38,264.66 418.66,265.13 418.93,265.60 419.21,266.06 419.49,266.52 419.77,266.99 420.04,267.45 420.32,267.93 420.60,268.41 420.88,268.90 421.15,269.40 421.43,269.91 421.71,270.44 421.99,270.98 422.26,271.54 422.54,272.11 422.82,272.71 423.09,273.32 423.37,273.95 423.65,274.61 423.93,275.29 424.20,275.98 424.48,276.70 424.76,277.45 425.04,278.21 425.31,279.00 425.59,279.81 425.87,280.64 426.15,281.49 426.42,282.36 426.70,283.26 426.98,284.17 427.25,285.10 427.53,286.05 427.81,287.02 428.09,288.00 428.36,289.00 428.64,290.01 428.92,291.03 429.20,292.07 429.47,293.11 429.75,294.17 430.03,295.23 430.31,296.30 430.58,297.37 430.86,298.45 431.14,299.53 431.41,300.60 431.69,301.68 431.97,302.76 432.25,303.84 432.52,304.91 432.80,305.97 433.08,307.03 433.36,308.08 433.63,309.12"/>
<polyline fill="none" stroke="#e4262c" stroke-width="1.4" stroke-linejoin="round" points="331.02,342.00 331.50,342.00 331.98,342.00 332.46,342.00 332.94,342.00 333.42,342.00 333.90,342.00 334.38,342.00 334.87,342.00 335.35,342.00 335.83,342.00 336.31,342.00 336.79,342.00 337.27,342.00 337.75,342.00 338.23,342.00 338.71,342.00 339.19,342.00 339.67,342.00 340.15,342.00 340.63,342.00 341.11,342.00 341.60,342.00 342.08,342.00 342.56,342.00 343.04,342.00 343.52,342.00 344.00,342.00 344.48,342.00 344.96,342.00 345.44,342.00 345.92,342.00 346.40,342.00 346.88,342.00 347.36,342.00 347.84,342.00 348.33,342.00 348.81,342.00 349.29,342.00 349.77,342.00 350.25,342.00 350.73,342.00 351.21,342.00 351.69,342.00 352.17,342.00 352.65,342.00 353.13,342.00 353.61,342.00 354.09,342.00 354.57,342.00 355.06,342.00 355.54,342.00 356.02,342.00 356.50,342.00 356.98,342.00 357.46,342.00 357.94,342.00 358.42,342.00 358.90,342.00 359.38,342.00 359.86,342.00 360.34,342.00 360.82,342.00 361.30,342.00 361.79,342.00 362.27,342.00 362.75,342.00 363.23,341.99 363.71,341.99 364.19,341.99 364.67,341.99 365.15,341.99 365.63,341.98 366.11,341.98 366.59,341.97 367.07,341.97 367.55,341.96 368.03,341.95 368.52,341.94 369.00,341.92 369.48,341.90 369.96,341.88 370.44,341.85 370.92,341.82 371.40,341.78 371.88,341.73 372.36,341.68 372.84,341.61 373.32,341.53 373.80,341.44 374.28,341.33 374.76,341.20 375.25,341.06 375.73,340.88 376.21,340.68 376.69,340.45 377.17,340.18 377.65,339.87 378.13,339.52 378.61,339.11 379.09,338.66 379.57,338.14 380.05,337.56 380.53,336.90 381.01,336.16 381.49,335.35 381.98,334.43 382.46,333.43 382.94,332.31 383.42,331.09 383.90,329.75 384.38,328.29 384.86,326.70 385.34,324.98 385.82,323.13 386.30,321.14 386.78,319.02 387.26,316.75 387.74,314.36 388.22,311.82 388.71,309.16 389.19,306.38 389.67,303.48 390.15,300.47 390.63,297.37 391.11,294.18 391.59,290.93 392.07,287.63 392.55,284.30 393.03,280.95 393.51,277.61 393.99,274.30 394.47,271.04 394.95,267.85 395.44,264.77 395.92,261.81 396.40,258.99 396.88,256.35 397.36,253.89 397.84,251.65 398.32,249.64 398.80,247.88 399.28,246.38 399.76,245.17 400.24,244.24 400.72,243.62 401.20,243.30 401.68,243.29 402.17,243.58 402.65,244.19 403.13,245.09 403.61,246.28 404.09,247.75 404.57,249.49 405.05,251.49 405.53,253.71 406.01,256.15 406.49,258.78 406.97,261.59 407.45,264.54 407.93,267.61 408.41,270.79 408.90,274.04 409.38,277.35 409.86,280.69 410.34,284.04 410.82,287.38 411.30,290.68 411.78,293.94 412.26,297.13 412.74,300.23 413.22,303.25 413.70,306.16 414.18,308.95 414.66,311.62 415.14,314.17 415.63,316.58 416.11,318.85 416.59,320.98 417.07,322.98 417.55,324.85 418.03,326.57 418.51,328.17 418.99,329.64 419.47,330.99 419.95,332.22 420.43,333.34 420.91,334.36 421.39,335.28 421.87,336.10 422.36,336.85 422.84,337.51 423.32,338.10 423.80,338.62 424.28,339.08 424.76,339.49 425.24,339.84 425.72,340.16 426.20,340.43 426.68,340.66 427.16,340.87 427.64,341.04 428.12,341.19 428.60,341.32 429.09,341.43 429.57,341.53 430.05,341.61 430.53,341.67 431.01,341.73 431.49,341.78 431.97,341.82 432.45,341.85 432.93,341.88 433.41,341.90 433.89,341.92 434.37,341.94 434.85,341.95 435.33,341.96 435.82,341.97 436.30,341.97 436.78,341.98 437.26,341.98 437.74,341.99 438.22,341.99 438.70,341.99 439.18,341.99 439.66,341.99 440.14,342.00 440.62,342.00 441.10,342.00 441.58,342.00 442.06,342.00 442.54,342.00 443.03,342.00 443.51,342.00 443.99,342.00 444.47,342.00 444.95,342.00 445.43,342.00 445.91,342.00 446.39,342.00 446.87,342.00 447.35,342.00 447.83,342.00 448.31,342.00 448.79,342.00 449.27,342.00 449.76,342.00 450.24,342.00 450.72,342.00 451.20,342.00 451.68,342.00 452.16,342.00 452.64,342.00 453.12,342.00 453.60,342.00 454.08,342.00 454.56,342.00 455.04,342.00 455.52,342.00 456.00,342.00 456.49,342.00 456.97,342.00 457.45,342.00 457.93,342.00 458.41,342.00 458.89,342.00 459.37,342.00 459.85,342.00 460.33,342.00 460.81,342.00 461.29,342.00 461.77,342.00 462.25,342.00 462.73,342.00 463.22,342.00 463.70,342.00 464.18,342.00 464.66,342.00 465.14,342.00 465.62,342.00 466.10,342.00 466.58,342.00 467.06,342.00 467.54,342.00 468.02,342.00 468.50,342.00 468.98,342.00 469.46,342.00 469.95,342.00 470.43,342.00 470.91,342.00 471.39,342.00 471.87,342.00 472.35,342.00 472.83,342.00 473.31,342.00 473.79,342.00 474.27,342.00 474.75,342.00 475.23,342.00"/>
<polyline fill="none" stroke="#e030e6" stroke-width="1.4" stroke-linejoin="round" points="331.02,342.00 331.69,342.00 332.35,342.00 333.02,342.00 333.68,342.00 334.35,342.00 335.01,342.00 335.68,342.00 336.34,342.00 337.01,342.00 337.68,342.00 338.34,342.00 339.01,342.00 339.67,342.00 340.34,342.00 341.00,342.00 341.67,342.00 342.34,342.00 343.00,342.00 343.67,342.00 344.33,342.00 345.00,342.00 345.66,342.00 346.33,342.00 346.99,342.00 347.66,342.00 348.33,342.00 348.99,342.00 349.66,342.00 350.32,342.00 350.99,342.00 351.65,342.00 352.32,342.00 352.98,342.00 353.65,342.00 354.32,342.00 354.98,342.00 355.65,342.00 356.31,342.00 356.98,342.00 357.64,342.00 358.31,342.00 358.98,342.00 359.64,342.00 360.31,342.00 360.97,342.00 361.64,342.00 362.30,342.00 362.97,342.00 363.63,342.00 364.30,342.00 364.97,342.00 365.63,342.00 366.30,342.00 366.96,342.00 367.63,342.00 368.29,342.00 368.96,342.00 369.62,342.00 370.29,342.00 370.96,342.00 371.62,342.00 372.29,342.00 372.95,342.00 373.62,342.00 374.28,342.00 374.95,342.00 375.62,342.00 376.28,341.99 376.95,341.99 377.61,341.99 378.28,341.99 378.94,341.98 379.61,341.98 380.27,341.97 380.94,341.97 381.61,341.96 382.27,341.95 382.94,341.93 383.60,341.91 384.27,341.89 384.93,341.86 385.60,341.83 386.26,341.79 386.93,341.73 387.60,341.67 388.26,341.60 388.93,341.51 389.59,341.40 390.26,341.27 390.92,341.12 391.59,340.94 392.26,340.72 392.92,340.48 393.59,340.19 394.25,339.85 394.92,339.47 395.58,339.03 396.25,338.52 396.91,337.95 397.58,337.29 398.25,336.56 398.91,335.74 399.58,334.82 400.24,333.81 400.91,332.69 401.57,331.46 402.24,330.11 402.90,328.65 403.57,327.06 404.24,325.36 404.90,323.54 405.57,321.61 406.23,319.56 406.90,317.41 407.56,315.17 408.23,312.84 408.90,310.44 409.56,307.97 410.23,305.47 410.89,302.94 411.56,300.41 412.22,297.90 412.89,295.42 413.55,293.01 414.22,290.68 414.89,288.46 415.55,286.38 416.22,284.44 416.88,282.69 417.55,281.13 418.21,279.79 418.88,278.67 419.54,277.80 420.21,277.19 420.88,276.83 421.54,276.74 422.21,276.92 422.87,277.36 423.54,278.06 424.20,279.02 424.87,280.21 425.54,281.63 426.20,283.25 426.87,285.07 427.53,287.06 428.20,289.19 428.86,291.45 429.53,293.80 430.19,296.24 430.86,298.73 431.53,301.26 432.19,303.79 432.86,306.31 433.52,308.80 434.19,311.24 434.85,313.63 435.52,315.93 436.18,318.14 436.85,320.26 437.52,322.27 438.18,324.16 438.85,325.94 439.51,327.60 440.18,329.15 440.84,330.57 441.51,331.88 442.18,333.07 442.84,334.16 443.51,335.14 444.17,336.02 444.84,336.82 445.50,337.52 446.17,338.14 446.83,338.70 447.50,339.18 448.17,339.60 448.83,339.97 449.50,340.29 450.16,340.56 450.83,340.80 451.49,341.00 452.16,341.17 452.82,341.31 453.49,341.44 454.16,341.54 454.82,341.62 455.49,341.69 456.15,341.75 456.82,341.80 457.48,341.84 458.15,341.87 458.82,341.90 459.48,341.92 460.15,341.94 460.81,341.95 461.48,341.96 462.14,341.97 462.81,341.98 463.47,341.98 464.14,341.99 464.81,341.99 465.47,341.99 466.14,341.99 466.80,342.00 467.47,342.00 468.13,342.00 468.80,342.00 469.46,342.00 470.13,342.00 470.80,342.00 471.46,342.00 472.13,342.00 472.79,342.00 473.46,342.00 474.12,342.00 474.79,342.00 475.46,342.00 476.12,342.00 476.79,342.00 477.45,342.00 478.12,342.00 478.78,342.00 479.45,342.00 480.11,342.00 480.78,342.00 481.45,342.00 482.11,342.00 482.78,342.00 483.44,342.00 484.11,342.00 484.77,342.00 485.44,342.00 486.10,342.00 486.77,342.00 487.44,342.00 488.10,342.00 488.77,342.00 489.43,342.00 490.10,342.00 490.76,342.00 491.43,342.00 492.10,342.00 492.76,342.00 493.43,342.00 494.09,342.00 494.76,342.00 495.42,342.00 496.09,342.00 496.75,342.00 497.42,342.00 498.09,342.00 498.75,342.00 499.42,342.00 500.08,342.00 500.75,342.00 501.41,342.00 502.08,342.00 502.74,342.00 503.41,342.00 504.08,342.00 504.74,342.00 505.41,342.00 506.07,342.00 506.74,342.00 507.40,342.00 508.07,342.00 508.74,342.00 509.40,342.00 510.07,342.00 510.73,342.00 511.40,342.00 512.06,342.00 512.73,342.00 513.39,342.00 514.06,342.00 514.73,342.00 515.39,342.00 516.06,342.00 516.72,342.00 517.39,342.00 518.05,342.00 518.72,342.00 519.38,342.00 520.05,342.00 520.72,342.00 521.38,342.00 522.05,342.00 522.71,342.00 523.38,342.00 524.04,342.00 524.71,342.00 525.38,342.00 526.04,342.00 526.71,342.00 527.37,342.00 528.04,342.00 528.70,342.00 529.37,342.00 530.03,342.00 530.70,342.00"/>
<line x1="336.57" y1="353.10" x2="336.57" y2="349.50" stroke="#2a2a2a" stroke-width="1"/>
<line x1="364.30" y1="353.10" x2="364.30" y2="349.50" stroke="#2a2a2a" stroke-width="1"/>
<line x1="392.03" y1="353.10" x2="392.03" y2="349.50" stroke="#2a2a2a" stroke-width="1"/>
<line x1="419.77" y1="353.10" x2="419.77" y2="349.50" stroke="#2a2a2a" stroke-width="1"/>
<line x1="447.50" y1="353.10" x2="447.50" y2="349.50" stroke="#2a2a2a" stroke-width="1"/>
<line x1="475.23" y1="353.10" x2="475.23" y2="349.50" stroke="#2a2a2a" stroke-width="1"/>
<line x1="502.97" y1="353.10" x2="502.97" y2="349.50" stroke="#2a2a2a" stroke-width="1"/>
<line x1="530.70" y1="353.10" x2="530.70" y2="349.50" stroke="#2a2a2a" stroke-width="1"/>
<line x1="322.70" y1="353.10" x2="322.70" y2="350.90" stroke="#2a2a2a" stroke-width="1"/>
<line x1="350.43" y1="353.10" x2="350.43" y2="350.90" stroke="#2a2a2a" stroke-width="1"/>
<line x1="378.17" y1="353.10" x2="378.17" y2="350.90" stroke="#2a2a2a" stroke-width="1"/>
<line x1="405.90" y1="353.10" x2="405.90" y2="350.90" stroke="#2a2a2a" stroke-width="1"/>
<line x1="433.63" y1="353.10" x2="433.63" y2="350.90" stroke="#2a2a2a" stroke-width="1"/>
<line x1="461.37" y1="353.10" x2="461.37" y2="350.90" stroke="#2a2a2a" stroke-width="1"/>
<line x1="489.10" y1="353.10" x2="489.10" y2="350.90" stroke="#2a2a2a" stroke-width="1"/>
<line x1="516.83" y1="353.10" x2="516.83" y2="350.90" stroke="#2a2a2a" stroke-width="1"/>
<rect x="322.70" y="200.60" width="208.00" height="152.50" fill="none" stroke="#2a2a2a" stroke-width="1.3"/>
<line x1="322.70" y1="342.00" x2="325.70" y2="342.00" stroke="#2a2a2a" stroke-width="1"/>
<line x1="322.70" y1="313.62" x2="325.70" y2="313.62" stroke="#2a2a2a" stroke-width="1"/>
<line x1="322.70" y1="285.25" x2="325.70" y2="285.25" stroke="#2a2a2a" stroke-width="1"/>
<line x1="322.70" y1="256.88" x2="325.70" y2="256.88" stroke="#2a2a2a" stroke-width="1"/>
<line x1="322.70" y1="228.50" x2="325.70" y2="228.50" stroke="#2a2a2a" stroke-width="1"/>
<polyline fill="none" stroke="#e4262c" stroke-width="1.4" stroke-linejoin="round" points="714.64,153.90 714.94,153.90 715.24,153.90 715.54,153.90 715.83,153.90 716.13,153.90 716.43,153.90 716.73,153.90 717.03,153.90 717.33,153.90 717.63,153.90 717.93,153.90 718.23,153.90 718.52,153.90 718.82,153.90 719.12,153.90 719.42,153.90 719.72,153.90 720.02,153.90 720.32,153.90 720.62,153.90 720.92,153.90 721.21,153.90 721.51,153.90 721.81,153.90 722.11,153.90 722.41,153.90 722.71,153.90 723.01,153.90 723.31,153.90 723.60,153.90 723.90,153.90 724.20,153.90 724.50,153.90 724.80,153.90 725.10,153.90 725.40,153.90 725.70,153.90 726.00,153.90 726.29,153.90 726.59,153.90 726.89,153.90 727.19,153.90 727.49,153.90 727.79,153.90 728.09,153.90 728.39,153.90 728.69,153.90 728.98,153.90 729.28,153.90 729.58,153.90 729.88,153.90 730.18,153.90 730.48,153.90 730.78,153.90 731.08,153.90 731.38,153.90 731.67,153.90 731.97,153.90 732.27,153.90 732.57,153.90 732.87,153.90 733.17,153.90 733.47,153.90 733.77,153.90 734.07,153.90 734.36,153.90 734.66,153.90 734.96,153.90 735.26,153.90 735.56,153.90 735.86,153.90 736.16,153.90 736.46,153.90 736.76,153.90 737.05,153.90 737.35,153.90 737.65,153.90 737.95,153.90 738.25,153.90 738.55,153.90 738.85,153.90 739.15,153.90 739.45,153.90 739.74,153.90 740.04,153.90 740.34,153.90 740.64,153.90 740.94,153.90 741.24,153.90 741.54,153.90 741.84,153.90 742.13,153.90 742.43,153.90 742.73,153.90 743.03,153.90 743.33,153.90 743.63,153.90 743.93,153.90 744.23,153.90 744.53,153.90 744.82,153.90 745.12,153.90 745.42,153.90 745.72,153.90 746.02,153.90 746.32,153.90 746.62,153.90 746.92,153.90 747.22,153.90 747.51,153.90 747.81,153.90 748.11,153.90 748.41,153.90 748.71,153.90 749.01,153.90 749.31,153.90 749.61,153.90 749.91,153.90 750.20,153.90 750.50,153.90 750.80,153.90 751.10,153.90 751.40,153.90 751.70,153.90 752.00,153.90 752.30,153.90 752.60,153.90 752.89,153.90 753.19,153.90 753.49,153.90 753.79,153.90 754.09,153.90 754.39,153.90 754.69,153.90 754.99,153.90 755.29,153.90 755.58,153.90 755.88,153.90 756.18,153.90 756.48,153.90 756.78,153.90 757.08,153.90 757.38,153.90 757.68,153.90 757.98,153.90 758.27,153.90 758.57,153.90 758.87,153.90 759.17,153.90 759.47,153.90 759.77,153.90 760.07,153.90 760.37,153.90 760.66,153.90 760.96,153.90 761.26,153.90 761.56,153.90 761.86,153.90 762.16,153.90 762.46,153.90 762.76,153.90 763.06,153.90 763.35,153.90 763.65,153.90 763.95,153.90 764.25,153.90 764.55,153.90 764.85,153.90 765.15,153.90 765.45,153.90 765.75,153.90 766.04,153.90 766.34,153.90 766.64,153.90 766.94,153.90 767.24,153.90 767.54,153.90 767.84,153.90 768.14,153.90 768.44,153.90 768.73,153.90 769.03,153.90 769.33,153.90 769.63,153.90 769.93,153.90 770.23,153.90 770.53,153.90 770.83,153.90 771.13,153.90 771.42,153.90 771.72,153.90 772.02,153.90 772.32,153.90 772.62,153.90 772.92,153.90 773.22,153.90 773.52,153.90 773.82,153.90 774.11,153.90 774.41,153.90 774.71,153.90 775.01,153.90 775.31,153.90 775.61,153.90 775.91,153.90 776.21,153.90 776.51,153.90 776.80,153.90 777.10,153.90 777.40,153.90 777.70,153.90 778.00,153.90 778.30,153.90 778.60,153.90 778.90,153.90 779.19,153.90 779.49,153.90 779.79,153.90 780.09,153.90 780.39,153.90 780.69,153.90 780.99,153.90 781.29,153.90 781.59,153.90 781.88,153.90 782.18,153.90 782.48,153.90 782.78,153.90 783.08,153.90 783.38,153.90 783.68,153.90 783.98,153.90 784.28,153.90 784.57,153.90 784.87,153.90 785.17,153.90 785.47,153.90 785.77,153.90 786.07,153.90 786.37,153.90 786.67,153.90 786.97,153.90 787.26,153.90 787.56,153.90 787.86,153.90 788.16,153.90 788.46,153.90 788.76,153.90 789.06,153.90 789.36,153.90 789.66,153.90 789.95,153.90 790.25,153.90 790.55,153.90 790.85,153.90 791.15,153.90 791.45,153.90 791.75,153.90 792.05,153.90 792.35,153.90 792.64,153.90 792.94,153.90 793.24,153.90 793.54,153.90 793.84,153.90 794.14,153.90 794.44,153.90 794.74,153.90 795.04,153.90 795.33,153.90 795.63,153.90 795.93,153.90 796.23,153.90 796.53,153.90 796.83,153.90 797.13,153.90 797.43,153.90 797.72,153.90 798.02,153.90 798.32,153.90 798.62,153.90 798.92,153.90 799.22,153.90 799.52,153.90 799.82,153.90 800.12,153.90 800.41,153.90 800.71,153.90 801.01,153.90 801.31,153.90 801.61,153.90 801.91,153.90 802.21,153.90 802.51,153.90 802.81,153.90 803.10,153.90 803.40,153.90 803.70,153.90 804.00,153.90 804.30,153.90"/>
<polyline fill="none" stroke="#4f93a2" stroke-width="1.4" stroke-linejoin="round" points="595.50,153.90 596.20,153.90 596.89,153.90 597.59,153.90 598.28,153.90 598.98,153.90 599.68,153.90 600.37,153.90 601.07,153.90 601.76,153.90 602.46,153.90 603.16,153.90 603.85,153.90 604.55,153.90 605.24,153.90 605.94,153.90 606.64,153.90 607.33,153.90 608.03,153.90 608.72,153.90 609.42,153.90 610.12,153.90 610.81,153.90 611.51,153.90 612.20,153.90 612.90,153.90 613.60,153.90 614.29,153.90 614.99,153.90 615.68,153.90 616.38,153.90 617.08,153.90 617.77,153.90 618.47,153.90 619.16,153.90 619.86,153.90 620.56,153.90 621.25,153.90 621.95,153.90 622.64,153.90 623.34,153.90 624.04,153.90 624.73,153.90 625.43,153.90 626.12,153.90 626.82,153.90 627.52,153.90 628.21,153.90 628.91,153.90 629.60,153.90 630.30,153.90 631.00,153.90 631.69,153.90 632.39,153.90 633.08,153.90 633.78,153.90 634.48,153.90 635.17,153.90 635.87,153.90 636.56,153.90 637.26,153.90 637.96,153.90 638.65,153.90 639.35,153.90 640.04,153.90 640.74,153.90 641.44,153.90 642.13,153.90 642.83,153.90 643.52,153.90 644.22,153.90 644.92,153.90 645.61,153.90 646.31,153.90 647.00,153.90 647.70,153.90 648.40,153.90 649.09,153.90 649.79,153.90 650.48,153.90 651.18,153.90 651.88,153.90 652.57,153.90 653.27,153.90 653.96,153.90 654.66,153.90 655.36,153.90 656.05,153.90 656.75,153.90 657.44,153.90 658.14,153.90 658.84,153.90 659.53,153.90 660.23,153.90 660.92,153.90 661.62,153.90 662.32,153.90 663.01,153.90 663.71,153.90 664.40,153.90 665.10,153.90 665.80,153.90 666.49,153.90 667.19,153.90 667.88,153.90 668.58,153.90 669.28,153.90 669.97,153.90 670.67,153.90 671.36,153.90 672.06,153.90 672.76,153.90 673.45,153.90 674.15,153.90 674.84,153.90 675.54,153.90 676.24,153.90 676.93,153.90 677.63,153.90 678.32,153.90 679.02,153.89 679.72,153.89 680.41,153.89 681.11,153.89 681.80,153.89 682.50,153.89 683.20,153.89 683.89,153.89 684.59,153.88 685.28,153.88 685.98,153.88 686.68,153.88 687.37,153.87 688.07,153.87 688.76,153.87 689.46,153.86 690.16,153.86 690.85,153.85 691.55,153.84 692.24,153.84 692.94,153.83 693.64,153.82 694.33,153.81 695.03,153.80 695.72,153.79 696.42,153.77 697.12,153.76 697.81,153.74 698.51,153.73 699.20,153.71 699.90,153.68 700.60,153.66 701.29,153.63 701.99,153.61 702.68,153.57 703.38,153.54 704.08,153.50 704.77,153.46 705.47,153.42 706.16,153.37 706.86,153.31 707.56,153.25 708.25,153.19 708.95,153.12 709.64,153.05 710.34,152.97 711.04,152.88 711.73,152.79 712.43,152.69 713.12,152.58 713.82,152.47 714.52,152.34 715.21,152.21 715.91,152.07 716.60,151.91 717.30,151.75 718.00,151.58 718.69,151.39 719.39,151.20 720.08,150.99 720.78,150.77 721.48,150.54 722.17,150.29 722.87,150.03 723.56,149.75 724.26,149.46 724.96,149.16 725.65,148.84 726.35,148.50 727.04,148.15 727.74,147.78 728.44,147.40 729.13,147.00 729.83,146.58 730.52,146.15 731.22,145.70 731.92,145.23 732.61,144.75 733.31,144.25 734.00,143.74 734.70,143.21 735.40,142.66 736.09,142.10 736.79,141.52 737.48,140.94 738.18,140.33 738.88,139.72 739.57,139.10 740.27,138.46 740.96,137.82 741.66,137.17 742.36,136.51 743.05,135.84 743.75,135.17 744.44,134.50 745.14,133.82 745.84,133.15 746.53,132.47 747.23,131.80 747.92,131.13 748.62,130.47 749.32,129.81 750.01,129.17 750.71,128.53 751.40,127.91 752.10,127.31 752.80,126.71 753.49,126.14 754.19,125.59 754.88,125.05 755.58,124.54 756.28,124.06 756.97,123.59 757.67,123.16 758.36,122.76 759.06,122.38 759.76,122.03 760.45,121.72 761.15,121.44 761.84,121.20 762.54,120.98 763.24,120.81 763.93,120.67 764.63,120.57 765.32,120.50 766.02,120.47 766.72,120.48 767.41,120.52 768.11,120.60 768.80,120.72 769.50,120.88 770.20,121.07 770.89,121.29 771.59,121.55 772.28,121.85 772.98,122.17 773.68,122.53 774.37,122.92 775.07,123.34 775.76,123.78 776.46,124.25 777.16,124.75 777.85,125.27 778.55,125.81 779.24,126.37 779.94,126.96 780.64,127.55 781.33,128.17 782.03,128.79 782.72,129.43 783.42,130.08 784.12,130.74 784.81,131.41 785.51,132.07 786.20,132.75 786.90,133.42 787.60,134.10 788.29,134.77 788.99,135.45 789.68,136.12 790.38,136.78 791.08,137.44 791.77,138.08 792.47,138.72 793.16,139.36 793.86,139.98 794.56,140.58 795.25,141.18 795.95,141.76 796.64,142.33 797.34,142.89 798.04,143.43 798.73,143.95 799.43,144.46 800.12,144.95 800.82,145.43 801.52,145.89 802.21,146.33 802.91,146.76 803.60,147.17 804.30,147.56"/>
<polyline fill="none" stroke="#e030e6" stroke-width="1.4" stroke-linejoin="round" points="713.41,153.70 713.71,153.68 714.02,153.66 714.32,153.63 714.62,153.60 714.93,153.56 715.23,153.53 715.53,153.49 715.83,153.44 716.14,153.39 716.44,153.34 716.74,153.28 717.05,153.21 717.35,153.14 717.65,153.07 717.96,152.98 718.26,152.89 718.56,152.79 718.86,152.69 719.17,152.57 719.47,152.44 719.77,152.31 720.08,152.16 720.38,152.00 720.68,151.83 720.98,151.65 721.29,151.45 721.59,151.24 721.89,151.01 722.20,150.77 722.50,150.50 722.80,150.23 723.11,149.93 723.41,149.61 723.71,149.27 724.01,148.92 724.32,148.53 724.62,148.13 724.92,147.70 725.23,147.25 725.53,146.77 725.83,146.27 726.14,145.74 726.44,145.18 726.74,144.59 727.04,143.97 727.35,143.33 727.65,142.65 727.95,141.94 728.26,141.20 728.56,140.43 728.86,139.63 729.16,138.80 729.47,137.93 729.77,137.03 730.07,136.10 730.38,135.14 730.68,134.15 730.98,133.13 731.29,132.08 731.59,131.00 731.89,129.89 732.19,128.75 732.50,127.59 732.80,126.40 733.10,125.19 733.41,123.96 733.71,122.70 734.01,121.43 734.32,120.15 734.62,118.85 734.92,117.53 735.22,116.21 735.53,114.88 735.83,113.55 736.13,112.21 736.44,110.88 736.74,109.55 737.04,108.22 737.34,106.91 737.65,105.61 737.95,104.33 738.25,103.06 738.56,101.82 738.86,100.61 739.16,99.42 739.47,98.27 739.77,97.15 740.07,96.07 740.37,95.03 740.68,94.03 740.98,93.08 741.28,92.19 741.59,91.34 741.89,90.55 742.19,89.82 742.50,89.15 742.80,88.54 743.10,87.99 743.40,87.51 743.71,87.10 744.01,86.75 744.31,86.47 744.62,86.27 744.92,86.13 745.22,86.07 745.52,86.07 745.83,86.15 746.13,86.30 746.43,86.52 746.74,86.81 747.04,87.17 747.34,87.60 747.65,88.09 747.95,88.65 748.25,89.27 748.55,89.96 748.86,90.70 749.16,91.50 749.46,92.35 749.77,93.26 750.07,94.22 750.37,95.22 750.68,96.27 750.98,97.36 751.28,98.48 751.58,99.64 751.89,100.83 752.19,102.06 752.49,103.30 752.80,104.57 753.10,105.86 753.40,107.16 753.70,108.47 754.01,109.80 754.31,111.13 754.61,112.46 754.92,113.80 755.22,115.13 755.52,116.46 755.83,117.78 756.13,119.09 756.43,120.39 756.73,121.68 757.04,122.94 757.34,124.19 757.64,125.42 757.95,126.63 758.25,127.81 758.55,128.97 758.86,130.10 759.16,131.20 759.46,132.28 759.76,133.33 760.07,134.34 760.37,135.33 760.67,136.28 760.98,137.21 761.28,138.10 761.58,138.96 761.88,139.78 762.19,140.58 762.49,141.34 762.79,142.08 763.10,142.78 763.40,143.45 763.70,144.09 764.01,144.70 764.31,145.29 764.61,145.84 764.91,146.37 765.22,146.86 765.52,147.34 765.82,147.79 766.13,148.21 766.43,148.61 766.73,148.99 767.04,149.34 767.34,149.67 767.64,149.99 767.94,150.28 768.25,150.56 768.55,150.81 768.85,151.05 769.16,151.28 769.46,151.49 769.76,151.68 770.06,151.86 770.37,152.03 770.67,152.19 770.97,152.33 771.28,152.47 771.58,152.59 771.88,152.71 772.19,152.81 772.49,152.91 772.79,153.00 773.09,153.08 773.40,153.16 773.70,153.23 774.00,153.29 774.31,153.35 774.61,153.40 774.91,153.45 775.22,153.49 775.52,153.53 775.82,153.57 776.12,153.60 776.43,153.63 776.73,153.66 777.03,153.69 777.34,153.71 777.64,153.73 777.94,153.75 778.25,153.76 778.55,153.78 778.85,153.79 779.15,153.80 779.46,153.81 779.76,153.82 780.06,153.83 780.37,153.84 780.67,153.85 780.97,153.85 781.27,153.86 781.58,153.86 781.88,153.87 782.18,153.87 782.49,153.88 782.79,153.88 783.09,153.88 783.40,153.88 783.70,153.89 784.00,153.89 784.30,153.89 784.61,153.89 784.91,153.89 785.21,153.89 785.52,153.89 785.82,153.89 786.12,153.90 786.43,153.90 786.73,153.90 787.03,153.90 787.33,153.90 787.64,153.90 787.94,153.90 788.24,153.90 788.55,153.90 788.85,153.90 789.15,153.90 789.45,153.90 789.76,153.90 790.06,153.90 790.36,153.90 790.67,153.90 790.97,153.90 791.27,153.90 791.58,153.90 791.88,153.90 792.18,153.90 792.48,153.90 792.79,153.90 793.09,153.90 793.39,153.90 793.70,153.90 794.00,153.90 794.30,153.90 794.61,153.90 794.91,153.90 795.21,153.90 795.51,153.90 795.82,153.90 796.12,153.90 796.42,153.90 796.73,153.90 797.03,153.90 797.33,153.90 797.63,153.90 797.94,153.90 798.24,153.90 798.54,153.90 798.85,153.90 799.15,153.90 799.45,153.90 799.76,153.90 800.06,153.90 800.36,153.90 800.66,153.90 800.97,153.90 801.27,153.90 801.57,153.90 801.88,153.90 802.18,153.90 802.48,153.90 802.79,153.90 803.09,153.90 803.39,153.90 803.69,153.90 804.00,153.90 804.30,153.90"/>
<polyline fill="none" stroke="#1e1e1e" stroke-width="1.4" stroke-linejoin="round" points="706.04,153.73 706.37,153.72 706.70,153.70 707.02,153.68 707.35,153.66 707.68,153.64 708.01,153.62 708.33,153.59 708.66,153.56 708.99,153.54 709.32,153.50 709.64,153.47 709.97,153.43 710.30,153.39 710.63,153.34 710.95,153.30 711.28,153.24 711.61,153.19 711.94,153.12 712.26,153.06 712.59,152.99 712.92,152.91 713.25,152.82 713.57,152.73 713.90,152.64 714.23,152.53 714.56,152.42 714.88,152.30 715.21,152.17 715.54,152.03 715.87,151.88 716.19,151.71 716.52,151.54 716.85,151.36 717.18,151.16 717.50,150.95 717.83,150.73 718.16,150.49 718.49,150.23 718.81,149.96 719.14,149.67 719.47,149.37 719.80,149.04 720.12,148.70 720.45,148.33 720.78,147.94 721.11,147.54 721.44,147.10 721.76,146.65 722.09,146.17 722.42,145.66 722.75,145.13 723.07,144.57 723.40,143.99 723.73,143.37 724.06,142.73 724.38,142.06 724.71,141.35 725.04,140.62 725.37,139.85 725.69,139.05 726.02,138.22 726.35,137.36 726.68,136.46 727.00,135.53 727.33,134.56 727.66,133.57 727.99,132.54 728.31,131.47 728.64,130.37 728.97,129.24 729.30,128.08 729.62,126.88 729.95,125.66 730.28,124.40 730.61,123.11 730.93,121.80 731.26,120.46 731.59,119.09 731.92,117.69 732.24,116.28 732.57,114.84 732.90,113.38 733.23,111.90 733.55,110.41 733.88,108.90 734.21,107.37 734.54,105.84 734.86,104.30 735.19,102.76 735.52,101.21 735.85,99.66 736.17,98.12 736.50,96.58 736.83,95.05 737.16,93.52 737.48,92.02 737.81,90.52 738.14,89.05 738.47,87.60 738.79,86.17 739.12,84.78 739.45,83.41 739.78,82.07 740.10,80.77 740.43,79.52 740.76,78.30 741.09,77.12 741.41,75.99 741.74,74.91 742.07,73.89 742.40,72.91 742.72,71.99 743.05,71.12 743.38,70.32 743.71,69.57 744.03,68.88 744.36,68.26 744.69,67.70 745.02,67.20 745.34,66.77 745.67,66.40 746.00,66.10 746.33,65.86 746.65,65.69 746.98,65.59 747.31,65.54 747.64,65.57 747.96,65.65 748.29,65.80 748.62,66.01 748.95,66.28 749.28,66.60 749.60,66.98 749.93,67.42 750.26,67.91 750.59,68.45 750.91,69.04 751.24,69.68 751.57,70.36 751.90,71.08 752.22,71.85 752.55,72.65 752.88,73.48 753.21,74.35 753.53,75.24 753.86,76.17 754.19,77.11 754.52,78.08 754.84,79.07 755.17,80.07 755.50,81.09 755.83,82.12 756.15,83.15 756.48,84.20 756.81,85.25 757.14,86.30 757.46,87.35 757.79,88.39 758.12,89.44 758.45,90.47 758.77,91.50 759.10,92.52 759.43,93.53 759.76,94.53 760.08,95.51 760.41,96.47 760.74,97.42 761.07,98.36 761.39,99.27 761.72,100.17 762.05,101.04 762.38,101.90 762.70,102.74 763.03,103.55 763.36,104.34 763.69,105.12 764.01,105.87 764.34,106.60 764.67,107.30 765.00,107.99 765.32,108.66 765.65,109.30 765.98,109.93 766.31,110.53 766.63,111.12 766.96,111.68 767.29,112.23 767.62,112.76 767.94,113.28 768.27,113.78 768.60,114.26 768.93,114.73 769.25,115.18 769.58,115.62 769.91,116.04 770.24,116.46 770.56,116.86 770.89,117.26 771.22,117.64 771.55,118.01 771.87,118.38 772.20,118.74 772.53,119.09 772.86,119.44 773.18,119.77 773.51,120.11 773.84,120.44 774.17,120.77 774.49,121.09 774.82,121.41 775.15,121.73 775.48,122.04 775.80,122.36 776.13,122.67 776.46,122.99 776.79,123.30 777.12,123.61 777.44,123.93 777.77,124.24 778.10,124.55 778.43,124.87 778.75,125.19 779.08,125.51 779.41,125.83 779.74,126.15 780.06,126.47 780.39,126.80 780.72,127.12 781.05,127.45 781.37,127.78 781.70,128.11 782.03,128.45 782.36,128.78 782.68,129.12 783.01,129.46 783.34,129.80 783.67,130.14 783.99,130.49 784.32,130.83 784.65,131.18 784.98,131.53 785.30,131.87 785.63,132.22 785.96,132.57 786.29,132.92 786.61,133.27 786.94,133.62 787.27,133.97 787.60,134.32 787.92,134.67 788.25,135.02 788.58,135.37 788.91,135.71 789.23,136.06 789.56,136.41 789.89,136.75 790.22,137.09 790.54,137.43 790.87,137.77 791.20,138.10 791.53,138.44 791.85,138.77 792.18,139.10 792.51,139.42 792.84,139.75 793.16,140.07 793.49,140.39 793.82,140.70 794.15,141.01 794.47,141.32 794.80,141.62 795.13,141.92 795.46,142.22 795.78,142.51 796.11,142.80 796.44,143.09 796.77,143.37 797.09,143.65 797.42,143.92 797.75,144.19 798.08,144.45 798.40,144.71 798.73,144.97 799.06,145.22 799.39,145.47 799.71,145.71 800.04,145.95 800.37,146.18 800.70,146.41 801.02,146.63 801.35,146.85 801.68,147.07 802.01,147.28 802.33,147.49 802.66,147.69 802.99,147.89 803.32,148.08 803.64,148.27 803.97,148.45 804.30,148.63"/>
<polyline fill="none" stroke="#a02838" stroke-width="1.4" stroke-linejoin="round" points="602.87,153.59 603.14,153.57 603.41,153.54 603.68,153.51 603.95,153.48 604.22,153.44 604.49,153.41 604.76,153.37 605.03,153.33 605.30,153.28 605.57,153.23 605.84,153.18 606.11,153.13 606.38,153.07 606.65,153.01 606.92,152.94 607.19,152.87 607.46,152.79 607.73,152.71 608.00,152.62 608.27,152.53 608.54,152.44 608.81,152.33 609.08,152.22 609.35,152.10 609.62,151.98 609.89,151.85 610.17,151.71 610.44,151.56 610.71,151.41 610.98,151.24 611.25,151.07 611.52,150.88 611.79,150.69 612.06,150.48 612.33,150.26 612.60,150.04 612.87,149.80 613.14,149.54 613.41,149.28 613.68,149.00 613.95,148.70 614.22,148.39 614.49,148.07 614.76,147.73 615.03,147.37 615.30,147.00 615.57,146.61 615.84,146.20 616.11,145.78 616.38,145.33 616.65,144.86 616.92,144.38 617.19,143.87 617.46,143.35 617.73,142.80 618.00,142.23 618.27,141.63 618.54,141.01 618.81,140.37 619.08,139.71 619.35,139.02 619.62,138.30 619.89,137.56 620.16,136.79 620.43,136.00 620.70,135.18 620.97,134.33 621.24,133.45 621.51,132.55 621.78,131.62 622.05,130.66 622.32,129.67 622.59,128.65 622.87,127.61 623.14,126.54 623.41,125.44 623.68,124.31 623.95,123.15 624.22,121.96 624.49,120.75 624.76,119.50 625.03,118.23 625.30,116.94 625.57,115.61 625.84,114.27 626.11,112.89 626.38,111.49 626.65,110.07 626.92,108.62 627.19,107.15 627.46,105.66 627.73,104.14 628.00,102.61 628.27,101.06 628.54,99.49 628.81,97.90 629.08,96.30 629.35,94.68 629.62,93.05 629.89,91.41 630.16,89.76 630.43,88.11 630.70,86.44 630.97,84.77 631.24,83.10 631.51,81.42 631.78,79.75 632.05,78.08 632.32,76.41 632.59,74.75 632.86,73.09 633.13,71.45 633.40,69.81 633.67,68.19 633.94,66.59 634.21,65.00 634.48,63.43 634.75,61.89 635.02,60.36 635.29,58.87 635.57,57.40 635.84,55.96 636.11,54.55 636.38,53.18 636.65,51.84 636.92,50.54 637.19,49.28 637.46,48.07 637.73,46.89 638.00,45.76 638.27,44.68 638.54,43.64 638.81,42.66 639.08,41.72 639.35,40.84 639.62,40.01 639.89,39.24 640.16,38.53 640.43,37.87 640.70,37.27 640.97,36.73 641.24,36.26 641.51,35.84 641.78,35.49 642.05,35.19 642.32,34.96 642.59,34.80 642.86,34.70 643.13,34.66 643.40,34.69 643.67,34.78 643.94,34.93 644.21,35.15 644.48,35.43 644.75,35.77 645.02,36.18 645.29,36.64 645.56,37.17 645.83,37.76 646.10,38.40 646.37,39.11 646.64,39.87 646.91,40.69 647.18,41.56 647.45,42.48 647.72,43.46 647.99,44.49 648.26,45.56 648.54,46.68 648.81,47.85 649.08,49.06 649.35,50.31 649.62,51.60 649.89,52.94 650.16,54.30 650.43,55.70 650.70,57.14 650.97,58.60 651.24,60.09 651.51,61.61 651.78,63.15 652.05,64.71 652.32,66.30 652.59,67.90 652.86,69.52 653.13,71.15 653.40,72.79 653.67,74.44 653.94,76.11 654.21,77.77 654.48,79.45 654.75,81.12 655.02,82.79 655.29,84.47 655.56,86.14 655.83,87.80 656.10,89.46 656.37,91.11 656.64,92.76 656.91,94.39 657.18,96.01 657.45,97.61 657.72,99.20 657.99,100.77 658.26,102.33 658.53,103.87 658.80,105.38 659.07,106.88 659.34,108.35 659.61,109.80 659.88,111.23 660.15,112.64 660.42,114.02 660.69,115.37 660.96,116.70 661.24,118.00 661.51,119.28 661.78,120.52 662.05,121.74 662.32,122.93 662.59,124.10 662.86,125.23 663.13,126.34 663.40,127.42 663.67,128.47 663.94,129.49 664.21,130.48 664.48,131.45 664.75,132.38 665.02,133.29 665.29,134.17 665.56,135.02 665.83,135.85 666.10,136.65 666.37,137.42 666.64,138.17 666.91,138.89 667.18,139.58 667.45,140.25 667.72,140.90 667.99,141.52 668.26,142.12 668.53,142.69 668.80,143.25 669.07,143.78 669.34,144.29 669.61,144.78 669.88,145.25 670.15,145.70 670.42,146.13 670.69,146.54 670.96,146.93 671.23,147.31 671.50,147.67 671.77,148.01 672.04,148.34 672.31,148.65 672.58,148.94 672.85,149.23 673.12,149.49 673.39,149.75 673.66,149.99 673.94,150.22 674.21,150.44 674.48,150.65 674.75,150.85 675.02,151.03 675.29,151.21 675.56,151.38 675.83,151.53 676.10,151.68 676.37,151.82 676.64,151.96 676.91,152.08 677.18,152.20 677.45,152.31 677.72,152.42 677.99,152.52 678.26,152.61 678.53,152.70 678.80,152.78 679.07,152.85 679.34,152.93 679.61,152.99 679.88,153.06 680.15,153.12 680.42,153.17 680.69,153.22 680.96,153.27 681.23,153.32 681.50,153.36 681.77,153.40 682.04,153.44 682.31,153.47 682.58,153.50 682.85,153.53 683.12,153.56 683.39,153.59 683.66,153.61 683.93,153.63"/>
<line x1="607.78" y1="167.60" x2="607.78" y2="164.00" stroke="#2a2a2a" stroke-width="1"/>
<line x1="632.35" y1="167.60" x2="632.35" y2="164.00" stroke="#2a2a2a" stroke-width="1"/>
<line x1="656.91" y1="167.60" x2="656.91" y2="164.00" stroke="#2a2a2a" stroke-width="1"/>
<line x1="681.48" y1="167.60" x2="681.48" y2="164.00" stroke="#2a2a2a" stroke-width="1"/>
<line x1="706.04" y1="167.60" x2="706.04" y2="164.00" stroke="#2a2a2a" stroke-width="1"/>
<line x1="730.61" y1="167.60" x2="730.61" y2="164.00" stroke="#2a2a2a" stroke-width="1"/>
<line x1="755.17" y1="167.60" x2="755.17" y2="164.00" stroke="#2a2a2a" stroke-width="1"/>
<line x1="779.74" y1="167.60" x2="779.74" y2="164.00" stroke="#2a2a2a" stroke-width="1"/>
<line x1="804.30" y1="167.60" x2="804.30" y2="164.00" stroke="#2a2a2a" stroke-width="1"/>
<line x1="595.50" y1="167.60" x2="595.50" y2="165.40" stroke="#2a2a2a" stroke-width="1"/>
<line x1="620.06" y1="167.60" x2="620.06" y2="165.40" stroke="#2a2a2a" stroke-width="1"/>
<line x1="644.63" y1="167.60" x2="644.63" y2="165.40" stroke="#2a2a2a" stroke-width="1"/>
<line x1="669.19" y1="167.60" x2="669.19" y2="165.40" stroke="#2a2a2a" stroke-width="1"/>
<line x1="693.76" y1="167.60" x2="693.76" y2="165.40" stroke="#2a2a2a" stroke-width="1"/>
<line x1="718.32" y1="167.60" x2="718.32" y2="165.40" stroke="#2a2a2a" stroke-width="1"/>
<line x1="742.89" y1="167.60" x2="742.89" y2="165.40" stroke="#2a2a2a" stroke-width="1"/>
<line x1="767.45" y1="167.60" x2="767.45" y2="165.40" stroke="#2a2a2a" stroke-width="1"/>
<line x1="792.02" y1="167.60" x2="792.02" y2="165.40" stroke="#2a2a2a" stroke-width="1"/>
<rect x="595.50" y="15.00" width="208.80" height="152.60" fill="none" stroke="#2a2a2a" stroke-width="1.3"/>
<line x1="595.50" y1="126.04" x2="598.50" y2="126.04" stroke="#2a2a2a" stroke-width="1"/>
<line x1="595.50" y1="98.18" x2="598.50" y2="98.18" stroke="#2a2a2a" stroke-width="1"/>
<line x1="595.50" y1="70.32" x2="598.50" y2="70.32" stroke="#2a2a2a" stroke-width="1"/>
<line x1="595.50" y1="42.46" x2="598.50" y2="42.46" stroke="#2a2a2a" stroke-width="1"/>
<polyline fill="none" stroke="#9433c4" stroke-width="1.4" stroke-linejoin="round" points="595.80,340.30 596.49,340.30 597.19,340.30 597.88,340.30 598.57,340.30 599.27,340.30 599.96,340.30 600.65,340.30 601.35,340.30 602.04,340.30 602.73,340.30 603.43,340.30 604.12,340.30 604.81,340.30 605.51,340.30 606.20,340.30 606.89,340.30 607.59,340.30 608.28,340.30 608.97,340.30 609.67,340.30 610.36,340.30 611.05,340.30 611.75,340.30 612.44,340.30 613.13,340.30 613.83,340.30 614.52,340.30 615.21,340.30 615.91,340.30 616.60,340.30 617.29,340.30 617.99,340.30 618.68,340.30 619.37,340.30 620.07,340.30 620.76,340.30 621.45,340.30 622.15,340.30 622.84,340.30 623.53,340.30 624.23,340.30 624.92,340.30 625.61,340.30 626.31,340.30 627.00,340.30 627.69,340.30 628.39,340.30 629.08,340.30 629.77,340.30 630.47,340.30 631.16,340.30 631.85,340.30 632.55,340.30 633.24,340.30 633.93,340.30 634.63,340.30 635.32,340.30 636.01,340.30 636.71,340.30 637.40,340.30 638.09,340.30 638.79,340.30 639.48,340.30 640.17,340.30 640.87,340.30 641.56,340.30 642.25,340.30 642.95,340.30 643.64,340.30 644.33,340.30 645.03,340.30 645.72,340.30 646.41,340.30 647.11,340.30 647.80,340.30 648.49,340.30 649.19,340.30 649.88,340.30 650.57,340.30 651.27,340.30 651.96,340.30 652.65,340.30 653.35,340.30 654.04,340.30 654.73,340.30 655.43,340.30 656.12,340.30 656.81,340.30 657.51,340.30 658.20,340.30 658.89,340.30 659.59,340.30 660.28,340.30 660.97,340.30 661.67,340.30 662.36,340.30 663.05,340.30 663.75,340.30 664.44,340.30 665.13,340.30 665.83,340.30 666.52,340.30 667.21,340.30 667.91,340.30 668.60,340.30 669.29,340.30 669.99,340.30 670.68,340.30 671.37,340.30 672.07,340.30 672.76,340.30 673.45,340.30 674.15,340.30 674.84,340.30 675.53,340.30 676.23,340.30 676.92,340.30 677.61,340.30 678.31,340.30 679.00,340.30 679.69,340.30 680.39,340.30 681.08,340.30 681.77,340.30 682.47,340.30 683.16,340.30 683.85,340.30 684.55,340.30 685.24,340.30 685.93,340.30 686.63,340.30 687.32,340.30 688.01,340.30 688.71,340.30 689.40,340.30 690.09,340.30 690.79,340.30 691.48,340.30 692.17,340.30 692.87,340.30 693.56,340.30 694.25,340.30 694.95,340.30 695.64,340.30 696.33,340.30 697.03,340.30 697.72,340.30 698.41,340.30 699.11,340.30 699.80,340.30 700.49,340.30 701.19,340.30 701.88,340.30 702.57,340.30 703.27,340.30 703.96,340.30 704.65,340.30 705.35,340.30 706.04,340.30 706.73,340.30 707.43,340.30 708.12,340.30 708.81,340.30 709.51,340.30 710.20,340.30 710.89,340.30 711.59,340.30 712.28,340.30 712.97,340.30 713.67,340.30 714.36,340.30 715.05,340.30 715.75,340.30 716.44,340.30 717.13,340.30 717.83,340.30 718.52,340.30 719.21,340.30 719.91,340.30 720.60,340.30 721.29,340.30 721.99,340.30 722.68,340.30 723.37,340.30 724.07,340.30 724.76,340.30 725.45,340.30 726.15,340.30 726.84,340.30 727.53,340.30 728.23,340.30 728.92,340.30 729.61,340.30 730.31,340.30 731.00,340.30 731.69,340.30 732.39,340.30 733.08,340.30 733.77,340.30 734.47,340.30 735.16,340.30 735.85,340.30 736.55,340.30 737.24,340.30 737.93,340.30 738.63,340.30 739.32,340.30 740.01,340.30 740.71,340.30 741.40,340.30 742.09,340.30 742.79,340.30 743.48,340.30 744.17,340.30 744.87,340.30 745.56,340.30 746.25,340.30 746.95,340.30 747.64,340.30 748.33,340.30 749.03,340.30 749.72,340.30 750.41,340.30 751.11,340.30 751.80,340.30 752.49,340.30 753.19,340.30 753.88,340.30 754.57,340.30 755.27,340.30 755.96,340.30 756.65,340.30 757.35,340.30 758.04,340.30 758.73,340.30 759.43,340.30 760.12,340.30 760.81,340.30 761.51,340.30 762.20,340.30 762.89,340.30 763.59,340.30 764.28,340.30 764.97,340.30 765.67,340.30 766.36,340.30 767.05,340.30 767.75,340.30 768.44,340.30 769.13,340.30 769.83,340.30 770.52,340.30 771.21,340.30 771.91,340.30 772.60,340.30 773.29,340.30 773.99,340.30 774.68,340.30 775.37,340.30 776.07,340.30 776.76,340.30 777.45,340.30 778.15,340.30 778.84,340.30 779.53,340.30 780.23,340.30 780.92,340.30 781.61,340.30 782.31,340.30 783.00,340.30 783.69,340.30 784.39,340.30 785.08,340.30 785.77,340.30 786.47,340.30 787.16,340.30 787.85,340.30 788.55,340.30 789.24,340.30 789.93,340.30 790.63,340.30 791.32,340.30 792.01,340.30 792.71,340.30 793.40,340.30 794.09,340.30 794.79,340.30 795.48,340.30 796.17,340.30 796.87,340.30 797.56,340.30 798.25,340.30 798.95,340.30 799.64,340.30 800.33,340.30 801.03,340.30 801.72,340.30 802.41,340.30 803.11,340.30 803.80,340.30"/>
<polyline fill="none" stroke="#ec70e0" stroke-width="1.4" stroke-linejoin="round" points="619.05,340.30 619.22,340.30 619.40,340.30 619.57,340.30 619.75,340.30 619.92,340.30 620.10,340.30 620.27,340.30 620.45,340.30 620.63,340.30 620.80,340.30 620.98,340.30 621.15,340.30 621.33,340.30 621.50,340.30 621.68,340.30 621.85,340.30 622.03,340.30 622.20,340.30 622.38,340.30 622.55,340.30 622.73,340.30 622.91,340.30 623.08,340.30 623.26,340.30 623.43,340.30 623.61,340.30 623.78,340.30 623.96,340.30 624.13,340.30 624.31,340.30 624.48,340.30 624.66,340.30 624.83,340.30 625.01,340.30 625.19,340.30 625.36,340.30 625.54,340.30 625.71,340.30 625.89,340.30 626.06,340.30 626.24,340.30 626.41,340.30 626.59,340.30 626.76,340.30 626.94,340.30 627.11,340.30 627.29,340.30 627.46,340.30 627.64,340.30 627.82,340.30 627.99,340.30 628.17,340.30 628.34,340.30 628.52,340.30 628.69,340.30 628.87,340.30 629.04,340.30 629.22,340.30 629.39,340.30 629.57,340.30 629.74,340.30 629.92,340.30 630.10,340.30 630.27,340.30 630.45,340.30 630.62,340.30 630.80,340.30 630.97,340.30 631.15,340.30 631.32,340.30 631.50,340.30 631.67,340.30 631.85,340.30 632.02,340.30 632.20,340.30 632.38,340.30 632.55,340.30 632.73,340.30 632.90,340.30 633.08,340.30 633.25,340.30 633.43,340.30 633.60,340.30 633.78,340.30 633.95,340.30 634.13,340.30 634.30,340.30 634.48,340.30 634.66,340.30 634.83,340.30 635.01,340.30 635.18,340.30 635.36,340.30 635.53,340.30 635.71,340.30 635.88,340.30 636.06,340.30 636.23,340.30 636.41,340.30 636.58,340.30 636.76,340.30 636.94,340.30 637.11,340.30 637.29,340.30 637.46,340.30 637.64,340.30 637.81,340.30 637.99,340.30 638.16,340.30 638.34,340.30 638.51,340.30 638.69,340.30 638.86,340.30 639.04,340.30 639.21,340.30 639.39,340.30 639.57,340.30 639.74,340.30 639.92,340.30 640.09,340.30 640.27,340.30 640.44,340.30 640.62,340.30 640.79,340.30 640.97,340.30 641.14,340.30 641.32,340.30 641.49,340.30 641.67,340.30 641.85,340.30 642.02,340.30 642.20,340.30 642.37,340.30 642.55,340.30 642.72,340.30 642.90,340.30 643.07,340.30 643.25,340.30 643.42,340.30 643.60,340.30 643.77,340.30 643.95,340.30 644.13,340.30 644.30,340.30 644.48,340.30 644.65,340.30 644.83,340.30 645.00,340.30 645.18,340.30 645.35,340.30 645.53,340.30 645.70,340.30 645.88,340.30 646.05,340.30 646.23,340.30 646.41,340.30 646.58,340.30 646.76,340.30 646.93,340.30 647.11,340.30 647.28,340.30 647.46,340.30 647.63,340.30 647.81,340.30 647.98,340.30 648.16,340.30 648.33,340.30 648.51,340.30 648.69,340.30 648.86,340.30 649.04,340.30 649.21,340.30 649.39,340.30 649.56,340.30 649.74,340.30 649.91,340.30 650.09,340.30 650.26,340.30 650.44,340.30 650.61,340.30 650.79,340.30 650.96,340.30 651.14,340.30 651.32,340.30 651.49,340.30 651.67,340.30 651.84,340.30 652.02,340.30 652.19,340.30 652.37,340.30 652.54,340.30 652.72,340.30 652.89,340.30 653.07,340.30 653.24,340.30 653.42,340.30 653.60,340.30 653.77,340.30 653.95,340.30 654.12,340.30 654.30,340.30 654.47,340.30 654.65,340.30 654.82,340.30 655.00,340.30 655.17,340.30 655.35,340.30 655.52,340.30 655.70,340.30 655.88,340.30 656.05,340.30 656.23,340.30 656.40,340.30 656.58,340.30 656.75,340.30 656.93,340.30 657.10,340.30 657.28,340.30 657.45,340.30 657.63,340.30 657.80,340.30 657.98,340.30 658.16,340.30 658.33,340.30 658.51,340.30 658.68,340.30 658.86,340.30 659.03,340.30 659.21,340.30 659.38,340.30 659.56,340.30 659.73,340.30 659.91,340.30 660.08,340.30 660.26,340.30 660.43,340.30 660.61,340.30 660.79,340.30 660.96,340.30 661.14,340.30 661.31,340.30 661.49,340.30 661.66,340.30 661.84,340.30 662.01,340.30 662.19,340.30 662.36,340.30 662.54,340.30 662.71,340.30 662.89,340.30 663.07,340.30 663.24,340.30 663.42,340.30 663.59,340.30 663.77,340.30 663.94,340.30 664.12,340.30 664.29,340.30 664.47,340.30 664.64,340.30 664.82,340.30 664.99,340.30 665.17,340.30 665.35,340.30 665.52,340.30 665.70,340.30 665.87,340.30 666.05,340.30 666.22,340.30 666.40,340.30 666.57,340.30 666.75,340.30 666.92,340.30 667.10,340.30 667.27,340.30 667.45,340.30 667.63,340.30 667.80,340.30 667.98,340.30 668.15,340.30 668.33,340.30 668.50,340.30 668.68,340.30 668.85,340.30 669.03,340.30 669.20,340.30 669.38,340.30 669.55,340.30 669.73,340.30 669.91,340.30 670.08,340.30 670.26,340.30 670.43,340.30 670.61,340.30 670.78,340.30 670.96,340.30 671.13,340.30 671.31,340.30 671.48,340.30 671.66,340.30"/>
<polyline fill="none" stroke="#e87a70" stroke-width="1.4" stroke-linejoin="round" points="725.49,340.30 725.66,340.30 725.82,340.30 725.98,340.30 726.15,340.30 726.31,340.30 726.47,340.30 726.64,340.30 726.80,340.30 726.96,340.30 727.13,340.30 727.29,340.30 727.45,340.30 727.61,340.30 727.78,340.30 727.94,340.30 728.10,340.30 728.27,340.30 728.43,340.30 728.59,340.30 728.76,340.30 728.92,340.30 729.08,340.30 729.25,340.30 729.41,340.30 729.57,340.30 729.74,340.30 729.90,340.30 730.06,340.30 730.23,340.30 730.39,340.30 730.55,340.30 730.71,340.30 730.88,340.30 731.04,340.30 731.20,340.30 731.37,340.30 731.53,340.30 731.69,340.30 731.86,340.30 732.02,340.30 732.18,340.30 732.35,340.30 732.51,340.30 732.67,340.30 732.84,340.30 733.00,340.30 733.16,340.30 733.32,340.30 733.49,340.30 733.65,340.30 733.81,340.30 733.98,340.30 734.14,340.30 734.30,340.30 734.47,340.30 734.63,340.30 734.79,340.30 734.96,340.30 735.12,340.30 735.28,340.30 735.45,340.30 735.61,340.30 735.77,340.30 735.93,340.30 736.10,340.30 736.26,340.30 736.42,340.30 736.59,340.30 736.75,340.30 736.91,340.30 737.08,340.30 737.24,340.30 737.40,340.30 737.57,340.30 737.73,340.30 737.89,340.30 738.06,340.30 738.22,340.30 738.38,340.30 738.55,340.30 738.71,340.30 738.87,340.30 739.03,340.30 739.20,340.30 739.36,340.30 739.52,340.30 739.69,340.30 739.85,340.30 740.01,340.30 740.18,340.30 740.34,340.30 740.50,340.30 740.67,340.30 740.83,340.30 740.99,340.30 741.16,340.30 741.32,340.30 741.48,340.30 741.64,340.30 741.81,340.30 741.97,340.30 742.13,340.30 742.30,340.30 742.46,340.30 742.62,340.30 742.79,340.30 742.95,340.30 743.11,340.30 743.28,340.30 743.44,340.30 743.60,340.30 743.77,340.30 743.93,340.30 744.09,340.30 744.25,340.30 744.42,340.30 744.58,340.30 744.74,340.30 744.91,340.30 745.07,340.30 745.23,340.30 745.40,340.30 745.56,340.30 745.72,340.30 745.89,340.30 746.05,340.30 746.21,340.30 746.38,340.30 746.54,340.30 746.70,340.30 746.87,340.30 747.03,340.30 747.19,340.30 747.35,340.30 747.52,340.30 747.68,340.30 747.84,340.30 748.01,340.30 748.17,340.30 748.33,340.30 748.50,340.30 748.66,340.30 748.82,340.30 748.99,340.30 749.15,340.30 749.31,340.30 749.48,340.30 749.64,340.30 749.80,340.30 749.96,340.30 750.13,340.30 750.29,340.30 750.45,340.30 750.62,340.30 750.78,340.30 750.94,340.30 751.11,340.30 751.27,340.30 751.43,340.30 751.60,340.30 751.76,340.30 751.92,340.30 752.09,340.30 752.25,340.30 752.41,340.30 752.57,340.30 752.74,340.30 752.90,340.30 753.06,340.30 753.23,340.30 753.39,340.30 753.55,340.30 753.72,340.30 753.88,340.30 754.04,340.30 754.21,340.30 754.37,340.30 754.53,340.30 754.70,340.30 754.86,340.30 755.02,340.30 755.19,340.30 755.35,340.30 755.51,340.30 755.67,340.30 755.84,340.30 756.00,340.30 756.16,340.30 756.33,340.30 756.49,340.30 756.65,340.30 756.82,340.30 756.98,340.30 757.14,340.30 757.31,340.30 757.47,340.30 757.63,340.30 757.80,340.30 757.96,340.30 758.12,340.30 758.28,340.30 758.45,340.30 758.61,340.30 758.77,340.30 758.94,340.30 759.10,340.30 759.26,340.30 759.43,340.30 759.59,340.30 759.75,340.30 759.92,340.30 760.08,340.30 760.24,340.30 760.41,340.30 760.57,340.30 760.73,340.30 760.89,340.30 761.06,340.30 761.22,340.30 761.38,340.30 761.55,340.30 761.71,340.30 761.87,340.30 762.04,340.30 762.20,340.30 762.36,340.30 762.53,340.30 762.69,340.30 762.85,340.30 763.02,340.30 763.18,340.30 763.34,340.30 763.51,340.30 763.67,340.30 763.83,340.30 763.99,340.30 764.16,340.30 764.32,340.30 764.48,340.30 764.65,340.30 764.81,340.30 764.97,340.30 765.14,340.30 765.30,340.30 765.46,340.30 765.63,340.30 765.79,340.30 765.95,340.30 766.12,340.30 766.28,340.30 766.44,340.30 766.60,340.30 766.77,340.30 766.93,340.30 767.09,340.30 767.26,340.30 767.42,340.30 767.58,340.30 767.75,340.30 767.91,340.30 768.07,340.30 768.24,340.30 768.40,340.30 768.56,340.30 768.73,340.30 768.89,340.30 769.05,340.30 769.21,340.30 769.38,340.30 769.54,340.30 769.70,340.30 769.87,340.30 770.03,340.30 770.19,340.30 770.36,340.30 770.52,340.30 770.68,340.30 770.85,340.30 771.01,340.30 771.17,340.30 771.34,340.30 771.50,340.30 771.66,340.30 771.83,340.30 771.99,340.30 772.15,340.30 772.31,340.30 772.48,340.30 772.64,340.30 772.80,340.30 772.97,340.30 773.13,340.30 773.29,340.30 773.46,340.30 773.62,340.30 773.78,340.30 773.95,340.30 774.11,340.30 774.27,340.30 774.44,340.30"/>
<polyline fill="none" stroke="#a02838" stroke-width="1.4" stroke-linejoin="round" points="619.05,340.11 619.22,340.09 619.40,340.07 619.57,340.05 619.75,340.03 619.92,340.01 620.10,339.98 620.27,339.96 620.45,339.93 620.63,339.90 620.80,339.86 620.98,339.83 621.15,339.79 621.33,339.75 621.50,339.70 621.68,339.65 621.85,339.60 622.03,339.55 622.20,339.49 622.38,339.42 622.55,339.35 622.73,339.28 622.91,339.20 623.08,339.12 623.26,339.03 623.43,338.94 623.61,338.84 623.78,338.73 623.96,338.62 624.13,338.50 624.31,338.37 624.48,338.23 624.66,338.09 624.83,337.94 625.01,337.77 625.19,337.60 625.36,337.42 625.54,337.23 625.71,337.02 625.89,336.81 626.06,336.58 626.24,336.34 626.41,336.09 626.59,335.82 626.76,335.54 626.94,335.25 627.11,334.94 627.29,334.61 627.46,334.27 627.64,333.91 627.82,333.53 627.99,333.13 628.17,332.72 628.34,332.29 628.52,331.83 628.69,331.36 628.87,330.86 629.04,330.35 629.22,329.81 629.39,329.24 629.57,328.66 629.74,328.05 629.92,327.41 630.10,326.75 630.27,326.07 630.45,325.36 630.62,324.62 630.80,323.85 630.97,323.06 631.15,322.24 631.32,321.39 631.50,320.51 631.67,319.61 631.85,318.67 632.02,317.70 632.20,316.71 632.38,315.69 632.55,314.63 632.73,313.55 632.90,312.43 633.08,311.29 633.25,310.11 633.43,308.91 633.60,307.68 633.78,306.42 633.95,305.13 634.13,303.81 634.30,302.46 634.48,301.09 634.66,299.69 634.83,298.26 635.01,296.81 635.18,295.33 635.36,293.83 635.53,292.31 635.71,290.76 635.88,289.20 636.06,287.61 636.23,286.01 636.41,284.39 636.58,282.76 636.76,281.11 636.94,279.45 637.11,277.78 637.29,276.10 637.46,274.41 637.64,272.71 637.81,271.01 637.99,269.31 638.16,267.61 638.34,265.91 638.51,264.21 638.69,262.52 638.86,260.84 639.04,259.17 639.21,257.51 639.39,255.86 639.57,254.23 639.74,252.62 639.92,251.03 640.09,249.46 640.27,247.92 640.44,246.41 640.62,244.92 640.79,243.47 640.97,242.05 641.14,240.67 641.32,239.32 641.49,238.02 641.67,236.75 641.85,235.53 642.02,234.36 642.20,233.24 642.37,232.16 642.55,231.14 642.72,230.17 642.90,229.26 643.07,228.40 643.25,227.60 643.42,226.85 643.60,226.17 643.77,225.55 643.95,224.99 644.13,224.50 644.30,224.07 644.48,223.70 644.65,223.40 644.83,223.17 645.00,223.00 645.18,222.90 645.35,222.87 645.53,222.90 645.70,223.00 645.88,223.17 646.05,223.40 646.23,223.70 646.41,224.07 646.58,224.50 646.76,224.99 646.93,225.55 647.11,226.17 647.28,226.85 647.46,227.60 647.63,228.40 647.81,229.26 647.98,230.17 648.16,231.14 648.33,232.16 648.51,233.24 648.69,234.36 648.86,235.53 649.04,236.75 649.21,238.02 649.39,239.32 649.56,240.67 649.74,242.05 649.91,243.47 650.09,244.92 650.26,246.41 650.44,247.92 650.61,249.46 650.79,251.03 650.96,252.62 651.14,254.23 651.32,255.86 651.49,257.51 651.67,259.17 651.84,260.84 652.02,262.52 652.19,264.21 652.37,265.91 652.54,267.61 652.72,269.31 652.89,271.01 653.07,272.71 653.24,274.41 653.42,276.10 653.60,277.78 653.77,279.45 653.95,281.11 654.12,282.76 654.30,284.39 654.47,286.01 654.65,287.61 654.82,289.20 655.00,290.76 655.17,292.31 655.35,293.83 655.52,295.33 655.70,296.81 655.88,298.26 656.05,299.69 656.23,301.09 656.40,302.46 656.58,303.81 656.75,305.13 656.93,306.42 657.10,307.68 657.28,308.91 657.45,310.11 657.63,311.29 657.80,312.43 657.98,313.55 658.16,314.63 658.33,315.69 658.51,316.71 658.68,317.70 658.86,318.67 659.03,319.61 659.21,320.51 659.38,321.39 659.56,322.24 659.73,323.06 659.91,323.85 660.08,324.62 660.26,325.36 660.43,326.07 660.61,326.75 660.79,327.41 660.96,328.05 661.14,328.66 661.31,329.24 661.49,329.81 661.66,330.35 661.84,330.86 662.01,331.36 662.19,331.83 662.36,332.29 662.54,332.72 662.71,333.13 662.89,333.53 663.07,333.91 663.24,334.27 663.42,334.61 663.59,334.94 663.77,335.25 663.94,335.54 664.12,335.82 664.29,336.09 664.47,336.34 664.64,336.58 664.82,336.81 664.99,337.02 665.17,337.23 665.35,337.42 665.52,337.60 665.70,337.77 665.87,337.94 666.05,338.09 666.22,338.23 666.40,338.37 666.57,338.50 666.75,338.62 666.92,338.73 667.10,338.84 667.27,338.94 667.45,339.03 667.63,339.12 667.80,339.20 667.98,339.28 668.15,339.35 668.33,339.42 668.50,339.49 668.68,339.55 668.85,339.60 669.03,339.65 669.20,339.70 669.38,339.75 669.55,339.79 669.73,339.83 669.91,339.86 670.08,339.90 670.26,339.93 670.43,339.96 670.61,339.98 670.78,340.01 670.96,340.03 671.13,340.05 671.31,340.07 671.48,340.09 671.66,340.11"/>
<polyline fill="none" stroke="#9433c4" stroke-width="1.4" stroke-linejoin="round" points="725.49,339.67 725.66,339.63 725.82,339.58 725.98,339.53 726.15,339.48 726.31,339.42 726.47,339.36 726.64,339.29 726.80,339.23 726.96,339.15 727.13,339.08 727.29,339.00 727.45,338.91 727.61,338.82 727.78,338.72 727.94,338.62 728.10,338.52 728.27,338.40 728.43,338.29 728.59,338.16 728.76,338.03 728.92,337.89 729.08,337.75 729.25,337.59 729.41,337.43 729.57,337.26 729.74,337.09 729.90,336.90 730.06,336.71 730.23,336.50 730.39,336.29 730.55,336.07 730.71,335.83 730.88,335.59 731.04,335.33 731.20,335.07 731.37,334.79 731.53,334.50 731.69,334.20 731.86,333.88 732.02,333.55 732.18,333.21 732.35,332.86 732.51,332.49 732.67,332.11 732.84,331.71 733.00,331.30 733.16,330.88 733.32,330.43 733.49,329.98 733.65,329.50 733.81,329.01 733.98,328.51 734.14,327.99 734.30,327.45 734.47,326.89 734.63,326.32 734.79,325.73 734.96,325.12 735.12,324.50 735.28,323.85 735.45,323.19 735.61,322.51 735.77,321.82 735.93,321.10 736.10,320.37 736.26,319.62 736.42,318.86 736.59,318.07 736.75,317.27 736.91,316.45 737.08,315.61 737.24,314.76 737.40,313.89 737.57,313.01 737.73,312.11 737.89,311.19 738.06,310.26 738.22,309.32 738.38,308.36 738.55,307.38 738.71,306.40 738.87,305.40 739.03,304.39 739.20,303.37 739.36,302.34 739.52,301.30 739.69,300.25 739.85,299.19 740.01,298.13 740.18,297.06 740.34,295.98 740.50,294.90 740.67,293.82 740.83,292.73 740.99,291.65 741.16,290.56 741.32,289.47 741.48,288.39 741.64,287.31 741.81,286.23 741.97,285.16 742.13,284.09 742.30,283.03 742.46,281.99 742.62,280.95 742.79,279.92 742.95,278.91 743.11,277.90 743.28,276.92 743.44,275.95 743.60,275.00 743.77,274.06 743.93,273.15 744.09,272.26 744.25,271.38 744.42,270.54 744.58,269.71 744.74,268.92 744.91,268.15 745.07,267.40 745.23,266.69 745.40,266.00 745.56,265.35 745.72,264.73 745.89,264.14 746.05,263.58 746.21,263.06 746.38,262.57 746.54,262.12 746.70,261.70 746.87,261.32 747.03,260.98 747.19,260.68 747.35,260.41 747.52,260.18 747.68,259.99 747.84,259.85 748.01,259.74 748.17,259.67 748.33,259.64 748.50,259.65 748.66,259.70 748.82,259.79 748.99,259.91 749.15,260.08 749.31,260.29 749.48,260.54 749.64,260.82 749.80,261.15 749.96,261.51 750.13,261.90 750.29,262.34 750.45,262.81 750.62,263.31 750.78,263.85 750.94,264.43 751.11,265.03 751.27,265.67 751.43,266.34 751.60,267.04 751.76,267.77 751.92,268.53 752.09,269.31 752.25,270.12 752.41,270.96 752.57,271.82 752.74,272.70 752.90,273.60 753.06,274.53 753.23,275.47 753.39,276.43 753.55,277.41 753.72,278.40 753.88,279.41 754.04,280.43 754.21,281.47 754.37,282.51 754.53,283.56 754.70,284.62 754.86,285.69 755.02,286.77 755.19,287.85 755.35,288.93 755.51,290.02 755.67,291.10 755.84,292.19 756.00,293.28 756.16,294.36 756.33,295.44 756.49,296.52 756.65,297.59 756.82,298.66 756.98,299.72 757.14,300.77 757.31,301.82 757.47,302.85 757.63,303.88 757.80,304.90 757.96,305.90 758.12,306.89 758.28,307.87 758.45,308.84 758.61,309.79 758.77,310.73 758.94,311.65 759.10,312.56 759.26,313.45 759.43,314.33 759.59,315.19 759.75,316.03 759.92,316.86 760.08,317.67 760.24,318.47 760.41,319.24 760.57,320.00 760.73,320.74 760.89,321.46 761.06,322.17 761.22,322.86 761.38,323.52 761.55,324.18 761.71,324.81 761.87,325.43 762.04,326.03 762.20,326.61 762.36,327.17 762.53,327.72 762.69,328.25 762.85,328.76 763.02,329.26 763.18,329.74 763.34,330.21 763.51,330.66 763.67,331.09 763.83,331.51 763.99,331.91 764.16,332.30 764.32,332.68 764.48,333.04 764.65,333.39 764.81,333.72 764.97,334.04 765.14,334.35 765.30,334.65 765.46,334.93 765.63,335.20 765.79,335.46 765.95,335.71 766.12,335.95 766.28,336.18 766.44,336.40 766.60,336.61 766.77,336.80 766.93,336.99 767.09,337.18 767.26,337.35 767.42,337.51 767.58,337.67 767.75,337.82 767.91,337.96 768.07,338.10 768.24,338.22 768.40,338.35 768.56,338.46 768.73,338.57 768.89,338.67 769.05,338.77 769.21,338.87 769.38,338.95 769.54,339.04 769.70,339.12 769.87,339.19 770.03,339.26 770.19,339.33 770.36,339.39 770.52,339.45 770.68,339.50 770.85,339.56 771.01,339.60 771.17,339.65 771.34,339.69 771.50,339.74 771.66,339.77 771.83,339.81 771.99,339.84 772.15,339.87 772.31,339.90 772.48,339.93 772.64,339.96 772.80,339.98 772.97,340.01 773.13,340.03 773.29,340.05 773.46,340.06 773.62,340.08 773.78,340.10 773.95,340.11 774.11,340.13 774.27,340.14 774.44,340.15"/>
<line x1="608.04" y1="354.20" x2="608.04" y2="350.60" stroke="#2a2a2a" stroke-width="1"/>
<line x1="632.51" y1="354.20" x2="632.51" y2="350.60" stroke="#2a2a2a" stroke-width="1"/>
<line x1="656.98" y1="354.20" x2="656.98" y2="350.60" stroke="#2a2a2a" stroke-width="1"/>
<line x1="681.45" y1="354.20" x2="681.45" y2="350.60" stroke="#2a2a2a" stroke-width="1"/>
<line x1="705.92" y1="354.20" x2="705.92" y2="350.60" stroke="#2a2a2a" stroke-width="1"/>
<line x1="730.39" y1="354.20" x2="730.39" y2="350.60" stroke="#2a2a2a" stroke-width="1"/>
<line x1="754.86" y1="354.20" x2="754.86" y2="350.60" stroke="#2a2a2a" stroke-width="1"/>
<line x1="779.33" y1="354.20" x2="779.33" y2="350.60" stroke="#2a2a2a" stroke-width="1"/>
<line x1="803.80" y1="354.20" x2="803.80" y2="350.60" stroke="#2a2a2a" stroke-width="1"/>
<line x1="595.80" y1="354.20" x2="595.80" y2="352.00" stroke="#2a2a2a" stroke-width="1"/>
<line x1="620.27" y1="354.20" x2="620.27" y2="352.00" stroke="#2a2a2a" stroke-width="1"/>
<line x1="644.74" y1="354.20" x2="644.74" y2="352.00" stroke="#2a2a2a" stroke-width="1"/>
<line x1="669.21" y1="354.20" x2="669.21" y2="352.00" stroke="#2a2a2a" stroke-width="1"/>
<line x1="693.68" y1="354.20" x2="693.68" y2="352.00" stroke="#2a2a2a" stroke-width="1"/>
<line x1="718.15" y1="354.20" x2="718.15" y2="352.00" stroke="#2a2a2a" stroke-width="1"/>
<line x1="742.62" y1="354.20" x2="742.62" y2="352.00" stroke="#2a2a2a" stroke-width="1"/>
<line x1="767.09" y1="354.20" x2="767.09" y2="352.00" stroke="#2a2a2a" stroke-width="1"/>
<line x1="791.56" y1="354.20" x2="791.56" y2="352.00" stroke="#2a2a2a" stroke-width="1"/>
<rect x="595.80" y="201.00" width="208.00" height="153.20" fill="none" stroke="#2a2a2a" stroke-width="1.3"/>
<line x1="595.80" y1="340.30" x2="598.80" y2="340.30" stroke="#2a2a2a" stroke-width="1"/>
<line x1="595.80" y1="312.34" x2="598.80" y2="312.34" stroke="#2a2a2a" stroke-width="1"/>
<line x1="595.80" y1="284.38" x2="598.80" y2="284.38" stroke="#2a2a2a" stroke-width="1"/>
<line x1="595.80" y1="256.42" x2="598.80" y2="256.42" stroke="#2a2a2a" stroke-width="1"/>
<line x1="595.80" y1="228.46" x2="598.80" y2="228.46" stroke="#2a2a2a" stroke-width="1"/>
<text x="3.60" y="9.50" font-size="11.00" font-weight="bold" fill="#1a1a1a" textLength="13.80" lengthAdjust="spacingAndGlyphs">(a)</text>
<text x="274.40" y="9.80" font-size="11.00" font-weight="bold" fill="#1a1a1a" textLength="14.40" lengthAdjust="spacingAndGlyphs">(b)</text>
<text x="545.40" y="9.80" font-size="11.00" font-weight="bold" fill="#1a1a1a" textLength="13.20" lengthAdjust="spacingAndGlyphs">(c)</text>
<text x="43.50" y="152.15" font-size="8.80" font-weight="bold" fill="#1a1a1a" text-anchor="end" textLength="4.50" lengthAdjust="spacingAndGlyphs">0</text>
<text x="39.80" y="119.00" font-size="8.80" font-weight="bold" fill="#1a1a1a" text-anchor="end" textLength="18.00" lengthAdjust="spacingAndGlyphs">1x10</text>
<text x="42.80" y="114.80" font-size="4.61" font-weight="bold" fill="#1a1a1a" text-anchor="end">4</text>
<text x="39.80" y="85.15" font-size="8.80" font-weight="bold" fill="#1a1a1a" text-anchor="end" textLength="18.00" lengthAdjust="spacingAndGlyphs">2x10</text>
<text x="42.80" y="80.95" font-size="4.61" font-weight="bold" fill="#1a1a1a" text-anchor="end">4</text>
<text x="39.80" y="51.30" font-size="8.80" font-weight="bold" fill="#1a1a1a" text-anchor="end" textLength="18.00" lengthAdjust="spacingAndGlyphs">3x10</text>
<text x="42.80" y="47.10" font-size="4.61" font-weight="bold" fill="#1a1a1a" text-anchor="end">4</text>
<text x="39.80" y="17.45" font-size="8.80" font-weight="bold" fill="#1a1a1a" text-anchor="end" textLength="18.00" lengthAdjust="spacingAndGlyphs">4x10</text>
<text x="42.80" y="13.25" font-size="4.61" font-weight="bold" fill="#1a1a1a" text-anchor="end">4</text>
<text x="43.20" y="338.10" font-size="10.06" font-weight="bold" fill="#1a1a1a" text-anchor="end" textLength="5.53" lengthAdjust="spacingAndGlyphs">0</text>
<text x="39.80" y="306.00" font-size="10.06" font-weight="bold" fill="#1a1a1a" text-anchor="end" textLength="22.10" lengthAdjust="spacingAndGlyphs">1x10</text>
<text x="43.30" y="301.50" font-size="5.45" font-weight="bold" fill="#1a1a1a" text-anchor="end">4</text>
<text x="39.80" y="272.00" font-size="10.06" font-weight="bold" fill="#1a1a1a" text-anchor="end" textLength="22.10" lengthAdjust="spacingAndGlyphs">2x10</text>
<text x="43.30" y="267.50" font-size="5.45" font-weight="bold" fill="#1a1a1a" text-anchor="end">4</text>
<text x="39.80" y="238.00" font-size="10.06" font-weight="bold" fill="#1a1a1a" text-anchor="end" textLength="22.10" lengthAdjust="spacingAndGlyphs">3x10</text>
<text x="43.30" y="233.50" font-size="5.45" font-weight="bold" fill="#1a1a1a" text-anchor="end">4</text>
<text x="39.80" y="204.00" font-size="10.06" font-weight="bold" fill="#1a1a1a" text-anchor="end" textLength="22.10" lengthAdjust="spacingAndGlyphs">4x10</text>
<text x="43.30" y="199.50" font-size="5.45" font-weight="bold" fill="#1a1a1a" text-anchor="end">4</text>
<text x="318.30" y="157.75" font-size="8.24" font-weight="bold" fill="#1a1a1a" text-anchor="end" textLength="11.45" lengthAdjust="spacingAndGlyphs">0.0</text>
<text x="316.00" y="131.40" font-size="8.24" font-weight="bold" fill="#1a1a1a" text-anchor="end" textLength="25.20" lengthAdjust="spacingAndGlyphs">5.0x10</text>
<text x="318.30" y="127.90" font-size="5.03" font-weight="bold" fill="#1a1a1a" text-anchor="end">4</text>
<text x="316.00" y="102.95" font-size="8.24" font-weight="bold" fill="#1a1a1a" text-anchor="end" textLength="25.20" lengthAdjust="spacingAndGlyphs">1.0x10</text>
<text x="318.30" y="99.45" font-size="5.03" font-weight="bold" fill="#1a1a1a" text-anchor="end">5</text>
<text x="316.00" y="74.50" font-size="8.24" font-weight="bold" fill="#1a1a1a" text-anchor="end" textLength="25.20" lengthAdjust="spacingAndGlyphs">1.5x10</text>
<text x="318.30" y="71.00" font-size="5.03" font-weight="bold" fill="#1a1a1a" text-anchor="end">5</text>
<text x="316.00" y="46.05" font-size="8.24" font-weight="bold" fill="#1a1a1a" text-anchor="end" textLength="25.20" lengthAdjust="spacingAndGlyphs">2.0x10</text>
<text x="318.30" y="42.55" font-size="5.03" font-weight="bold" fill="#1a1a1a" text-anchor="end">5</text>
<text x="316.00" y="17.60" font-size="8.24" font-weight="bold" fill="#1a1a1a" text-anchor="end" textLength="25.20" lengthAdjust="spacingAndGlyphs">2.5x10</text>
<text x="318.30" y="14.10" font-size="5.03" font-weight="bold" fill="#1a1a1a" text-anchor="end">5</text>
<text x="319.00" y="343.70" font-size="8.10" font-weight="bold" fill="#1a1a1a" text-anchor="end" textLength="11.64" lengthAdjust="spacingAndGlyphs">0.0</text>
<text x="316.60" y="317.82" font-size="8.10" font-weight="bold" fill="#1a1a1a" text-anchor="end" textLength="25.60" lengthAdjust="spacingAndGlyphs">5.0x10</text>
<text x="319.30" y="314.73" font-size="5.45" font-weight="bold" fill="#1a1a1a" text-anchor="end">4</text>
<text x="316.60" y="289.45" font-size="8.10" font-weight="bold" fill="#1a1a1a" text-anchor="end" textLength="25.60" lengthAdjust="spacingAndGlyphs">1.0x10</text>
<text x="319.30" y="286.35" font-size="5.45" font-weight="bold" fill="#1a1a1a" text-anchor="end">5</text>
<text x="316.60" y="261.07" font-size="8.10" font-weight="bold" fill="#1a1a1a" text-anchor="end" textLength="25.60" lengthAdjust="spacingAndGlyphs">1.5x10</text>
<text x="319.30" y="257.98" font-size="5.45" font-weight="bold" fill="#1a1a1a" text-anchor="end">5</text>
<text x="316.60" y="232.70" font-size="8.10" font-weight="bold" fill="#1a1a1a" text-anchor="end" textLength="25.60" lengthAdjust="spacingAndGlyphs">2.0x10</text>
<text x="319.30" y="229.60" font-size="5.45" font-weight="bold" fill="#1a1a1a" text-anchor="end">5</text>
<text x="316.60" y="204.33" font-size="8.10" font-weight="bold" fill="#1a1a1a" text-anchor="end" textLength="25.60" lengthAdjust="spacingAndGlyphs">2.5x10</text>
<text x="319.30" y="201.23" font-size="5.45" font-weight="bold" fill="#1a1a1a" text-anchor="end">5</text>
<text x="592.10" y="155.45" font-size="8.24" font-weight="bold" fill="#1a1a1a" text-anchor="end" textLength="11.23" lengthAdjust="spacingAndGlyphs">0.0</text>
<text x="588.90" y="129.49" font-size="8.24" font-weight="bold" fill="#1a1a1a" text-anchor="end" textLength="24.70" lengthAdjust="spacingAndGlyphs">2.0x10</text>
<text x="592.00" y="125.59" font-size="4.47" font-weight="bold" fill="#1a1a1a" text-anchor="end">4</text>
<text x="588.90" y="101.63" font-size="8.24" font-weight="bold" fill="#1a1a1a" text-anchor="end" textLength="24.70" lengthAdjust="spacingAndGlyphs">4.0x10</text>
<text x="592.00" y="97.73" font-size="4.47" font-weight="bold" fill="#1a1a1a" text-anchor="end">4</text>
<text x="588.90" y="73.77" font-size="8.24" font-weight="bold" fill="#1a1a1a" text-anchor="end" textLength="24.70" lengthAdjust="spacingAndGlyphs">6.0x10</text>
<text x="592.00" y="69.87" font-size="4.47" font-weight="bold" fill="#1a1a1a" text-anchor="end">4</text>
<text x="588.90" y="45.91" font-size="8.24" font-weight="bold" fill="#1a1a1a" text-anchor="end" textLength="24.70" lengthAdjust="spacingAndGlyphs">8.0x10</text>
<text x="592.00" y="42.01" font-size="4.47" font-weight="bold" fill="#1a1a1a" text-anchor="end">4</text>
<text x="588.90" y="18.05" font-size="8.24" font-weight="bold" fill="#1a1a1a" text-anchor="end" textLength="24.70" lengthAdjust="spacingAndGlyphs">1.0x10</text>
<text x="592.00" y="14.15" font-size="4.47" font-weight="bold" fill="#1a1a1a" text-anchor="end">5</text>
<text x="592.40" y="342.00" font-size="8.66" font-weight="bold" fill="#1a1a1a" text-anchor="end" textLength="11.45" lengthAdjust="spacingAndGlyphs">0.0</text>
<text x="589.20" y="315.44" font-size="8.66" font-weight="bold" fill="#1a1a1a" text-anchor="end" textLength="25.20" lengthAdjust="spacingAndGlyphs">2.0x10</text>
<text x="592.30" y="310.94" font-size="4.05" font-weight="bold" fill="#1a1a1a" text-anchor="end">5</text>
<text x="589.20" y="287.48" font-size="8.66" font-weight="bold" fill="#1a1a1a" text-anchor="end" textLength="25.20" lengthAdjust="spacingAndGlyphs">4.0x10</text>
<text x="592.30" y="282.98" font-size="4.05" font-weight="bold" fill="#1a1a1a" text-anchor="end">5</text>
<text x="589.20" y="259.52" font-size="8.66" font-weight="bold" fill="#1a1a1a" text-anchor="end" textLength="25.20" lengthAdjust="spacingAndGlyphs">6.0x10</text>
<text x="592.30" y="255.02" font-size="4.05" font-weight="bold" fill="#1a1a1a" text-anchor="end">5</text>
<text x="589.20" y="231.56" font-size="8.66" font-weight="bold" fill="#1a1a1a" text-anchor="end" textLength="25.20" lengthAdjust="spacingAndGlyphs">8.0x10</text>
<text x="592.30" y="227.06" font-size="4.05" font-weight="bold" fill="#1a1a1a" text-anchor="end">5</text>
<text x="589.20" y="203.60" font-size="8.66" font-weight="bold" fill="#1a1a1a" text-anchor="end" textLength="25.20" lengthAdjust="spacingAndGlyphs">1.0x10</text>
<text x="592.30" y="199.10" font-size="4.05" font-weight="bold" fill="#1a1a1a" text-anchor="end">6</text>
<text x="46.50" y="176.40" font-size="8.52" font-weight="bold" fill="#1a1a1a" text-anchor="middle" textLength="14.20" lengthAdjust="spacingAndGlyphs">280</text>
<text x="76.26" y="176.40" font-size="8.52" font-weight="bold" fill="#1a1a1a" text-anchor="middle" textLength="14.20" lengthAdjust="spacingAndGlyphs">282</text>
<text x="106.01" y="176.40" font-size="8.52" font-weight="bold" fill="#1a1a1a" text-anchor="middle" textLength="14.20" lengthAdjust="spacingAndGlyphs">284</text>
<text x="135.77" y="176.40" font-size="8.52" font-weight="bold" fill="#1a1a1a" text-anchor="middle" textLength="14.20" lengthAdjust="spacingAndGlyphs">286</text>
<text x="165.53" y="176.40" font-size="8.52" font-weight="bold" fill="#1a1a1a" text-anchor="middle" textLength="14.20" lengthAdjust="spacingAndGlyphs">288</text>
<text x="195.29" y="176.40" font-size="8.52" font-weight="bold" fill="#1a1a1a" text-anchor="middle" textLength="14.20" lengthAdjust="spacingAndGlyphs">290</text>
<text x="225.04" y="176.40" font-size="8.52" font-weight="bold" fill="#1a1a1a" text-anchor="middle" textLength="14.20" lengthAdjust="spacingAndGlyphs">292</text>
<text x="254.80" y="176.40" font-size="8.52" font-weight="bold" fill="#1a1a1a" text-anchor="middle" textLength="14.20" lengthAdjust="spacingAndGlyphs">294</text>
<text x="46.70" y="364.50" font-size="9.50" font-weight="bold" fill="#1a1a1a" text-anchor="middle" textLength="16.20" lengthAdjust="spacingAndGlyphs">280</text>
<text x="76.41" y="364.50" font-size="9.50" font-weight="bold" fill="#1a1a1a" text-anchor="middle" textLength="16.20" lengthAdjust="spacingAndGlyphs">282</text>
<text x="106.13" y="364.50" font-size="9.50" font-weight="bold" fill="#1a1a1a" text-anchor="middle" textLength="16.20" lengthAdjust="spacingAndGlyphs">284</text>
<text x="135.84" y="364.50" font-size="9.50" font-weight="bold" fill="#1a1a1a" text-anchor="middle" textLength="16.20" lengthAdjust="spacingAndGlyphs">286</text>
<text x="165.56" y="364.50" font-size="9.50" font-weight="bold" fill="#1a1a1a" text-anchor="middle" textLength="16.20" lengthAdjust="spacingAndGlyphs">288</text>
<text x="195.27" y="364.50" font-size="9.50" font-weight="bold" fill="#1a1a1a" text-anchor="middle" textLength="16.20" lengthAdjust="spacingAndGlyphs">290</text>
<text x="224.99" y="364.50" font-size="9.50" font-weight="bold" fill="#1a1a1a" text-anchor="middle" textLength="16.20" lengthAdjust="spacingAndGlyphs">292</text>
<text x="254.70" y="364.50" font-size="9.50" font-weight="bold" fill="#1a1a1a" text-anchor="middle" textLength="16.20" lengthAdjust="spacingAndGlyphs">294</text>
<text x="335.71" y="177.10" font-size="8.24" font-weight="bold" fill="#1a1a1a" text-anchor="middle" textLength="13.80" lengthAdjust="spacingAndGlyphs">526</text>
<text x="363.54" y="177.10" font-size="8.24" font-weight="bold" fill="#1a1a1a" text-anchor="middle" textLength="13.80" lengthAdjust="spacingAndGlyphs">528</text>
<text x="391.37" y="177.10" font-size="8.24" font-weight="bold" fill="#1a1a1a" text-anchor="middle" textLength="13.80" lengthAdjust="spacingAndGlyphs">530</text>
<text x="419.19" y="177.10" font-size="8.24" font-weight="bold" fill="#1a1a1a" text-anchor="middle" textLength="13.80" lengthAdjust="spacingAndGlyphs">532</text>
<text x="447.02" y="177.10" font-size="8.24" font-weight="bold" fill="#1a1a1a" text-anchor="middle" textLength="13.80" lengthAdjust="spacingAndGlyphs">534</text>
<text x="474.85" y="177.10" font-size="8.24" font-weight="bold" fill="#1a1a1a" text-anchor="middle" textLength="13.80" lengthAdjust="spacingAndGlyphs">536</text>
<text x="502.67" y="177.10" font-size="8.24" font-weight="bold" fill="#1a1a1a" text-anchor="middle" textLength="13.80" lengthAdjust="spacingAndGlyphs">538</text>
<text x="530.50" y="177.10" font-size="8.24" font-weight="bold" fill="#1a1a1a" text-anchor="middle" textLength="13.80" lengthAdjust="spacingAndGlyphs">540</text>
<text x="336.57" y="363.10" font-size="7.54" font-weight="bold" fill="#1a1a1a" text-anchor="middle" textLength="13.40" lengthAdjust="spacingAndGlyphs">526</text>
<text x="364.30" y="363.10" font-size="7.54" font-weight="bold" fill="#1a1a1a" text-anchor="middle" textLength="13.40" lengthAdjust="spacingAndGlyphs">528</text>
<text x="392.03" y="363.10" font-size="7.54" font-weight="bold" fill="#1a1a1a" text-anchor="middle" textLength="13.40" lengthAdjust="spacingAndGlyphs">530</text>
<text x="419.77" y="363.10" font-size="7.54" font-weight="bold" fill="#1a1a1a" text-anchor="middle" textLength="13.40" lengthAdjust="spacingAndGlyphs">532</text>
<text x="447.50" y="363.10" font-size="7.54" font-weight="bold" fill="#1a1a1a" text-anchor="middle" textLength="13.40" lengthAdjust="spacingAndGlyphs">534</text>
<text x="475.23" y="363.10" font-size="7.54" font-weight="bold" fill="#1a1a1a" text-anchor="middle" textLength="13.40" lengthAdjust="spacingAndGlyphs">536</text>
<text x="502.97" y="363.10" font-size="7.54" font-weight="bold" fill="#1a1a1a" text-anchor="middle" textLength="13.40" lengthAdjust="spacingAndGlyphs">538</text>
<text x="530.70" y="363.10" font-size="7.54" font-weight="bold" fill="#1a1a1a" text-anchor="middle" textLength="13.40" lengthAdjust="spacingAndGlyphs">540</text>
<text x="607.78" y="177.30" font-size="7.40" font-weight="bold" fill="#1a1a1a" text-anchor="middle" textLength="13.60" lengthAdjust="spacingAndGlyphs">484</text>
<text x="632.35" y="177.30" font-size="7.40" font-weight="bold" fill="#1a1a1a" text-anchor="middle" textLength="13.60" lengthAdjust="spacingAndGlyphs">486</text>
<text x="656.91" y="177.30" font-size="7.40" font-weight="bold" fill="#1a1a1a" text-anchor="middle" textLength="13.60" lengthAdjust="spacingAndGlyphs">488</text>
<text x="681.48" y="177.30" font-size="7.40" font-weight="bold" fill="#1a1a1a" text-anchor="middle" textLength="13.60" lengthAdjust="spacingAndGlyphs">490</text>
<text x="706.04" y="177.30" font-size="7.40" font-weight="bold" fill="#1a1a1a" text-anchor="middle" textLength="13.60" lengthAdjust="spacingAndGlyphs">492</text>
<text x="730.61" y="177.30" font-size="7.40" font-weight="bold" fill="#1a1a1a" text-anchor="middle" textLength="13.60" lengthAdjust="spacingAndGlyphs">494</text>
<text x="755.17" y="177.30" font-size="7.40" font-weight="bold" fill="#1a1a1a" text-anchor="middle" textLength="13.60" lengthAdjust="spacingAndGlyphs">496</text>
<text x="779.74" y="177.30" font-size="7.40" font-weight="bold" fill="#1a1a1a" text-anchor="middle" textLength="13.60" lengthAdjust="spacingAndGlyphs">498</text>
<text x="804.30" y="177.30" font-size="7.40" font-weight="bold" fill="#1a1a1a" text-anchor="middle" textLength="13.60" lengthAdjust="spacingAndGlyphs">500</text>
<text x="608.04" y="363.70" font-size="7.96" font-weight="bold" fill="#1a1a1a" text-anchor="middle" textLength="14.40" lengthAdjust="spacingAndGlyphs">484</text>
<text x="632.51" y="363.70" font-size="7.96" font-weight="bold" fill="#1a1a1a" text-anchor="middle" textLength="14.40" lengthAdjust="spacingAndGlyphs">486</text>
<text x="656.98" y="363.70" font-size="7.96" font-weight="bold" fill="#1a1a1a" text-anchor="middle" textLength="14.40" lengthAdjust="spacingAndGlyphs">488</text>
<text x="681.45" y="363.70" font-size="7.96" font-weight="bold" fill="#1a1a1a" text-anchor="middle" textLength="14.40" lengthAdjust="spacingAndGlyphs">490</text>
<text x="705.92" y="363.70" font-size="7.96" font-weight="bold" fill="#1a1a1a" text-anchor="middle" textLength="14.40" lengthAdjust="spacingAndGlyphs">492</text>
<text x="730.39" y="363.70" font-size="7.96" font-weight="bold" fill="#1a1a1a" text-anchor="middle" textLength="14.40" lengthAdjust="spacingAndGlyphs">494</text>
<text x="754.86" y="363.70" font-size="7.96" font-weight="bold" fill="#1a1a1a" text-anchor="middle" textLength="14.40" lengthAdjust="spacingAndGlyphs">496</text>
<text x="779.33" y="363.70" font-size="7.96" font-weight="bold" fill="#1a1a1a" text-anchor="middle" textLength="14.40" lengthAdjust="spacingAndGlyphs">498</text>
<text x="803.80" y="363.70" font-size="7.96" font-weight="bold" fill="#1a1a1a" text-anchor="middle" textLength="14.40" lengthAdjust="spacingAndGlyphs">500</text>
<text x="103.60" y="192.60" font-size="10.06" font-weight="bold" fill="#1a1a1a" textLength="94.00" lengthAdjust="spacingAndGlyphs">Binding Energy (eV)</text>
<text x="379.00" y="192.80" font-size="9.08" font-weight="bold" fill="#1a1a1a" textLength="94.60" lengthAdjust="spacingAndGlyphs">Binding Energy (eV)</text>
<text x="653.00" y="193.20" font-size="9.22" font-weight="bold" fill="#1a1a1a" textLength="94.20" lengthAdjust="spacingAndGlyphs">Binding Energy (eV)</text>
<text x="103.60" y="380.60" font-size="9.50" font-weight="bold" fill="#1a1a1a" textLength="94.00" lengthAdjust="spacingAndGlyphs">Binding Energy (eV)</text>
<text x="379.40" y="379.00" font-size="9.78" font-weight="bold" fill="#1a1a1a" textLength="94.70" lengthAdjust="spacingAndGlyphs">Binding Energy (eV)</text>
<text x="652.90" y="379.80" font-size="9.36" font-weight="bold" fill="#1a1a1a" textLength="92.50" lengthAdjust="spacingAndGlyphs">Binding Energy (eV)</text>
<text transform="translate(10.00,95.70) rotate(-90)" x="0" y="0" font-size="10.6" font-weight="bold" fill="#1a1a1a" text-anchor="middle" dominant-baseline="central" textLength="70.50" lengthAdjust="spacingAndGlyphs">Intensity (a.u.)</text>
<text transform="translate(6.40,281.90) rotate(-90)" x="0" y="0" font-size="10.6" font-weight="bold" fill="#1a1a1a" text-anchor="middle" dominant-baseline="central" textLength="70.50" lengthAdjust="spacingAndGlyphs">Intensity (a.u.)</text>
<text transform="translate(279.20,96.70) rotate(-90)" x="0" y="0" font-size="10.6" font-weight="bold" fill="#1a1a1a" text-anchor="middle" dominant-baseline="central" textLength="70.50" lengthAdjust="spacingAndGlyphs">Intensity (a.u.)</text>
<text transform="translate(281.90,269.60) rotate(-90)" x="0" y="0" font-size="10.6" font-weight="bold" fill="#1a1a1a" text-anchor="middle" dominant-baseline="central" textLength="70.50" lengthAdjust="spacingAndGlyphs">Intensity (a.u.)</text>
<text transform="translate(553.50,97.10) rotate(-90)" x="0" y="0" font-size="10.6" font-weight="bold" fill="#1a1a1a" text-anchor="middle" dominant-baseline="central" textLength="70.50" lengthAdjust="spacingAndGlyphs">Intensity (a.u.)</text>
<text transform="translate(553.50,282.90) rotate(-90)" x="0" y="0" font-size="10.6" font-weight="bold" fill="#1a1a1a" text-anchor="middle" dominant-baseline="central" textLength="70.50" lengthAdjust="spacingAndGlyphs">Intensity (a.u.)</text>
<text x="52.70" y="27.30" font-size="11.73" font-weight="bold" fill="#111" textLength="36.50" lengthAdjust="spacingAndGlyphs">100 °C</text>
<text x="208.40" y="27.60" font-size="11.87" font-weight="bold" fill="#111" textLength="24.00" lengthAdjust="spacingAndGlyphs">C 1s</text>
<text x="52.90" y="214.20" font-size="11.17" font-weight="bold" fill="#111" textLength="36.60" lengthAdjust="spacingAndGlyphs">200 °C</text>
<text x="208.60" y="214.20" font-size="11.17" font-weight="bold" fill="#111" textLength="24.00" lengthAdjust="spacingAndGlyphs">C 1s</text>
<text x="329.20" y="27.20" font-size="11.59" font-weight="bold" fill="#111" textLength="37.20" lengthAdjust="spacingAndGlyphs">100 °C</text>
<text x="485.70" y="27.20" font-size="11.59" font-weight="bold" fill="#111" textLength="24.90" lengthAdjust="spacingAndGlyphs">O 1s</text>
<text x="328.60" y="214.00" font-size="11.73" font-weight="bold" fill="#111" textLength="36.80" lengthAdjust="spacingAndGlyphs">200 °C</text>
<text x="486.80" y="214.00" font-size="11.73" font-weight="bold" fill="#111" textLength="25.00" lengthAdjust="spacingAndGlyphs">O 1s</text>
<text x="601.10" y="27.30" font-size="10.75" font-weight="bold" fill="#111" textLength="36.00" lengthAdjust="spacingAndGlyphs">100 °C</text>
<text x="755.20" y="27.30" font-size="10.75" font-weight="bold" fill="#111" textLength="30.00" lengthAdjust="spacingAndGlyphs">Sn 3d</text>
<text x="601.10" y="213.80" font-size="11.17" font-weight="bold" fill="#111" textLength="36.00" lengthAdjust="spacingAndGlyphs">200 °C</text>
<text x="755.80" y="213.80" font-size="11.17" font-weight="bold" fill="#111" textLength="32.10" lengthAdjust="spacingAndGlyphs">Sn 3d</text>
<text x="70.90" y="69.00" font-size="11.21" font-weight="normal" fill="#dc3a40" textLength="34.40" lengthAdjust="spacingAndGlyphs">284.8eV</text>
<text x="79.70" y="79.80" font-size="10.30" font-weight="normal" fill="#dc3a40" textLength="15.80" lengthAdjust="spacingAndGlyphs">C-C</text>
<text x="143.60" y="100.50" font-size="10.76" font-weight="normal" fill="#4e8aa6" textLength="34.20" lengthAdjust="spacingAndGlyphs">285.5eV</text>
<text x="152.00" y="111.80" font-size="10.76" font-weight="normal" fill="#4e8aa6" textLength="17.00" lengthAdjust="spacingAndGlyphs">C-O</text>
<text x="187.00" y="120.00" font-size="10.45" font-weight="normal" fill="#7e7f68" textLength="33.90" lengthAdjust="spacingAndGlyphs">288.8eV</text>
<text x="188.00" y="130.70" font-size="11.06" font-weight="normal" fill="#7e7f68" textLength="31.50" lengthAdjust="spacingAndGlyphs">O-C=O</text>
<text x="64.70" y="241.50" font-size="10.61" font-weight="normal" fill="#dc3a40" textLength="34.40" lengthAdjust="spacingAndGlyphs">284.8eV</text>
<text x="73.60" y="252.20" font-size="11.06" font-weight="normal" fill="#dc3a40" textLength="15.90" lengthAdjust="spacingAndGlyphs">C-C</text>
<text x="138.40" y="289.40" font-size="10.61" font-weight="normal" fill="#8a5a5a" textLength="36.90" lengthAdjust="spacingAndGlyphs">286. 5eV</text>
<text x="140.80" y="300.80" font-size="10.15" font-weight="normal" fill="#8a5a5a" textLength="32.00" lengthAdjust="spacingAndGlyphs">C-O-Sn</text>
<text x="190.50" y="315.60" font-size="10.76" font-weight="normal" fill="#6aa6bf" textLength="31.50" lengthAdjust="spacingAndGlyphs">O-C=O</text>
<text x="456.90" y="83.80" font-size="10.45" font-weight="normal" fill="#7d5858" textLength="37.10" lengthAdjust="spacingAndGlyphs">532.0 eV</text>
<text x="441.00" y="94.90" font-size="10.61" font-weight="normal" fill="#7d5858" textLength="68.90" lengthAdjust="spacingAndGlyphs">Oxygen vacancy</text>
<text x="352.00" y="114.00" font-size="10.61" font-weight="normal" fill="#dc3a40" textLength="37.00" lengthAdjust="spacingAndGlyphs">530.7 eV</text>
<text x="359.40" y="125.30" font-size="11.36" font-weight="normal" fill="#dc3a40" textLength="22.20" lengthAdjust="spacingAndGlyphs">Sn-O</text>
<text x="352.20" y="250.10" font-size="11.06" font-weight="normal" fill="#dc3a40" textLength="36.40" lengthAdjust="spacingAndGlyphs">530.7 eV</text>
<text x="359.30" y="260.90" font-size="11.67" font-weight="normal" fill="#dc3a40" textLength="22.40" lengthAdjust="spacingAndGlyphs">Sn-O</text>
<text x="442.80" y="267.80" font-size="11.06" font-weight="normal" fill="#7d5858" textLength="36.40" lengthAdjust="spacingAndGlyphs">532.0 eV</text>
<text x="426.60" y="278.20" font-size="10.45" font-weight="normal" fill="#7d5858" textLength="69.30" lengthAdjust="spacingAndGlyphs">Oxygen vacancy</text>
<text x="609.00" y="51.10" font-size="10.47" font-weight="bold" fill="#111" textLength="10.80" lengthAdjust="spacingAndGlyphs">Sn</text>
<text x="620.00" y="52.90" font-size="6.98" font-weight="bold" fill="#111" textLength="10.50" lengthAdjust="spacingAndGlyphs">5/2</text>
<text x="655.00" y="56.00" font-size="10.30" font-weight="normal" fill="#dc3a40" textLength="33.70" lengthAdjust="spacingAndGlyphs">486.9eV</text>
<text x="663.10" y="66.40" font-size="10.61" font-weight="normal" fill="#dc3a40" textLength="10.50" lengthAdjust="spacingAndGlyphs">Sn</text>
<text x="673.80" y="64.00" font-size="5.61" font-weight="normal" fill="#dc3a40" textLength="7.20" lengthAdjust="spacingAndGlyphs">4+</text>
<text x="745.10" y="56.80" font-size="10.61" font-weight="bold" fill="#111" textLength="11.10" lengthAdjust="spacingAndGlyphs">Sn</text>
<text x="756.20" y="58.60" font-size="6.98" font-weight="bold" fill="#111" textLength="10.00" lengthAdjust="spacingAndGlyphs">3/2</text>
<text x="695.60" y="83.60" font-size="11.82" font-weight="normal" fill="#dc3a40" textLength="37.50" lengthAdjust="spacingAndGlyphs">495.3 eV</text>
<text x="704.70" y="94.50" font-size="11.67" font-weight="normal" fill="#dc3a40" textLength="10.60" lengthAdjust="spacingAndGlyphs">Sn</text>
<text x="715.60" y="91.50" font-size="6.06" font-weight="normal" fill="#dc3a40" textLength="8.50" lengthAdjust="spacingAndGlyphs">4+</text>
<text x="765.70" y="88.30" font-size="12.73" font-weight="normal" fill="#7e7f68" textLength="36.90" lengthAdjust="spacingAndGlyphs">495.3 eV</text>
<text x="774.20" y="99.20" font-size="11.82" font-weight="normal" fill="#7e7f68" textLength="21.60" lengthAdjust="spacingAndGlyphs">Sn-Cl</text>
<text x="659.10" y="236.90" font-size="11.67" font-weight="normal" fill="#dc3a40" textLength="34.30" lengthAdjust="spacingAndGlyphs">486.9eV</text>
<text x="667.30" y="247.90" font-size="10.61" font-weight="normal" fill="#dc3a40" textLength="10.30" lengthAdjust="spacingAndGlyphs">Sn</text>
<text x="677.90" y="245.40" font-size="5.76" font-weight="normal" fill="#dc3a40" textLength="7.30" lengthAdjust="spacingAndGlyphs">4+</text>
<text x="700.90" y="263.70" font-size="10.91" font-weight="normal" fill="#dc3a40" textLength="35.60" lengthAdjust="spacingAndGlyphs">495.3 Ev</text>
<text x="709.30" y="275.20" font-size="11.82" font-weight="normal" fill="#dc3a40" textLength="10.50" lengthAdjust="spacingAndGlyphs">Sn</text>
<text x="720.10" y="272.00" font-size="5.76" font-weight="normal" fill="#dc3a40" textLength="7.70" lengthAdjust="spacingAndGlyphs">4+</text>
</svg></body></html>
